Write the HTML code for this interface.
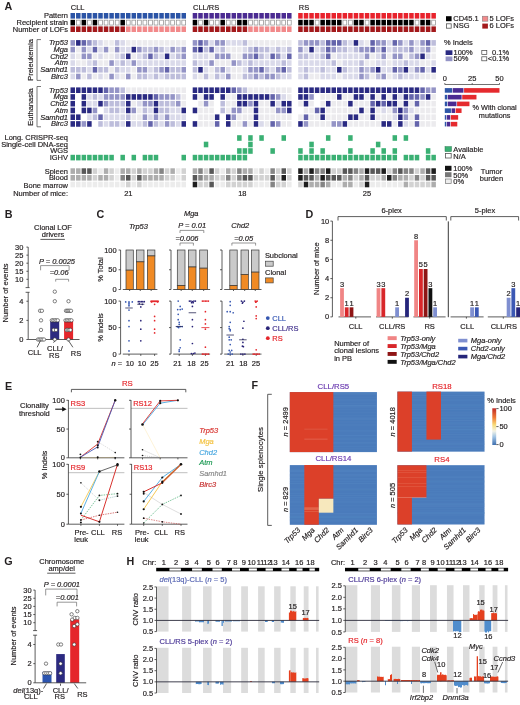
<!DOCTYPE html>
<html><head><meta charset="utf-8"><title>Figure</title>
<style>
html,body{margin:0;padding:0;background:#fff;}
svg{display:block;}
text{font-family:"Liberation Sans",Arial,Helvetica,sans-serif;}
</style></head>
<body>
<svg width="520" height="705" viewBox="0 0 520 705">
<rect x="0" y="0" width="520" height="705" fill="#fff"/>
<rect x="70.5" y="13" width="4.5" height="5.6" fill="#2b54a6"/>
<rect x="70.5" y="19.8" width="4.5" height="5.6" fill="#000"/>
<rect x="70.5" y="26.4" width="4.5" height="5.6" fill="#a3191b"/>
<rect x="70.5" y="40.1" width="4.5" height="5.6" fill="#9494c6"/>
<rect x="70.5" y="87.4" width="4.5" height="5.6" fill="#2a2a82"/>
<rect x="70.5" y="46.82" width="4.5" height="5.6" fill="#9494c6"/>
<rect x="70.5" y="94.15" width="4.5" height="5.6" fill="#2a2a82"/>
<rect x="70.5" y="53.54" width="4.5" height="5.6" fill="#dadaea"/>
<rect x="70.5" y="100.9" width="4.5" height="5.6" fill="#2a2a82"/>
<rect x="70.5" y="60.26" width="4.5" height="5.6" fill="#dadaea"/>
<rect x="70.5" y="107.65" width="4.5" height="5.6" fill="#2a2a82"/>
<rect x="70.5" y="66.98" width="4.5" height="5.6" fill="#bdbddb"/>
<rect x="70.5" y="114.4" width="4.5" height="5.6" fill="#2a2a82"/>
<rect x="70.5" y="73.7" width="4.5" height="5.6" fill="#dadaea"/>
<rect x="70.5" y="121.15" width="4.5" height="5.6" fill="#2a2a82"/>
<rect x="70.5" y="154.8" width="4.5" height="5.6" fill="#3ab073"/>
<rect x="70.5" y="168.3" width="4.5" height="5.6" fill="#adadad"/>
<rect x="70.5" y="175" width="4.5" height="5.6" fill="#adadad"/>
<rect x="70.5" y="181.7" width="4.5" height="5.6" fill="#ececec"/>
<rect x="76.05" y="13" width="4.5" height="5.6" fill="#2b54a6"/>
<rect x="76.4" y="20.15" width="3.8" height="4.8999999999999995" fill="#fff" stroke="#8a8a8a" stroke-width="0.7"/>
<rect x="76.05" y="26.4" width="4.5" height="5.6" fill="#a3191b"/>
<rect x="76.05" y="40.1" width="4.5" height="5.6" fill="#2a2a82"/>
<rect x="76.05" y="87.4" width="4.5" height="5.6" fill="#2a2a82"/>
<rect x="76.05" y="46.82" width="4.5" height="5.6" fill="#ecebee"/>
<rect x="76.05" y="94.15" width="4.5" height="5.6" fill="#ffffff"/>
<rect x="76.05" y="53.54" width="4.5" height="5.6" fill="#ecebee"/>
<rect x="76.05" y="100.9" width="4.5" height="5.6" fill="#ffffff"/>
<rect x="76.05" y="60.26" width="4.5" height="5.6" fill="#ecebee"/>
<rect x="76.05" y="107.65" width="4.5" height="5.6" fill="#ffffff"/>
<rect x="76.05" y="66.98" width="4.5" height="5.6" fill="#bdbddb"/>
<rect x="76.05" y="114.4" width="4.5" height="5.6" fill="#2a2a82"/>
<rect x="76.05" y="73.7" width="4.5" height="5.6" fill="#9494c6"/>
<rect x="76.05" y="121.15" width="4.5" height="5.6" fill="#2a2a82"/>
<rect x="76.05" y="154.8" width="4.5" height="5.6" fill="#3ab073"/>
<rect x="76.05" y="168.3" width="4.5" height="5.6" fill="#adadad"/>
<rect x="76.05" y="175" width="4.5" height="5.6" fill="#adadad"/>
<rect x="76.05" y="181.7" width="4.5" height="5.6" fill="#ececec"/>
<rect x="81.6" y="13" width="4.5" height="5.6" fill="#2b54a6"/>
<rect x="81.6" y="19.8" width="4.5" height="5.6" fill="#000"/>
<rect x="81.6" y="26.4" width="4.5" height="5.6" fill="#a3191b"/>
<rect x="81.6" y="40.1" width="4.5" height="5.6" fill="#6464ab"/>
<rect x="81.6" y="87.4" width="4.5" height="5.6" fill="#2a2a82"/>
<rect x="81.6" y="46.82" width="4.5" height="5.6" fill="#9494c6"/>
<rect x="81.6" y="94.15" width="4.5" height="5.6" fill="#2a2a82"/>
<rect x="81.6" y="53.54" width="4.5" height="5.6" fill="#9494c6"/>
<rect x="81.6" y="100.9" width="4.5" height="5.6" fill="#2a2a82"/>
<rect x="81.6" y="60.26" width="4.5" height="5.6" fill="#ecebee"/>
<rect x="81.6" y="107.65" width="4.5" height="5.6" fill="#2a2a82"/>
<rect x="81.6" y="66.98" width="4.5" height="5.6" fill="#bdbddb"/>
<rect x="81.6" y="114.4" width="4.5" height="5.6" fill="#ffffff"/>
<rect x="81.6" y="73.7" width="4.5" height="5.6" fill="#ecebee"/>
<rect x="81.6" y="121.15" width="4.5" height="5.6" fill="#9494c6"/>
<rect x="81.6" y="154.8" width="4.5" height="5.6" fill="#3ab073"/>
<rect x="81.6" y="168.3" width="4.5" height="5.6" fill="#585858"/>
<rect x="81.6" y="175" width="4.5" height="5.6" fill="#adadad"/>
<rect x="81.6" y="181.7" width="4.5" height="5.6" fill="#ececec"/>
<rect x="87.15" y="13" width="4.5" height="5.6" fill="#2b54a6"/>
<rect x="87.5" y="20.15" width="3.8" height="4.8999999999999995" fill="#fff" stroke="#8a8a8a" stroke-width="0.7"/>
<rect x="87.15" y="26.4" width="4.5" height="5.6" fill="#a3191b"/>
<rect x="87.15" y="40.1" width="4.5" height="5.6" fill="#9494c6"/>
<rect x="87.15" y="87.4" width="4.5" height="5.6" fill="#2a2a82"/>
<rect x="87.15" y="46.82" width="4.5" height="5.6" fill="#dadaea"/>
<rect x="87.15" y="94.15" width="4.5" height="5.6" fill="#dadaea"/>
<rect x="87.15" y="53.54" width="4.5" height="5.6" fill="#9494c6"/>
<rect x="87.15" y="100.9" width="4.5" height="5.6" fill="#dadaea"/>
<rect x="87.15" y="60.26" width="4.5" height="5.6" fill="#dadaea"/>
<rect x="87.15" y="107.65" width="4.5" height="5.6" fill="#2a2a82"/>
<rect x="87.15" y="66.98" width="4.5" height="5.6" fill="#dadaea"/>
<rect x="87.15" y="114.4" width="4.5" height="5.6" fill="#dadaea"/>
<rect x="87.15" y="73.7" width="4.5" height="5.6" fill="#bdbddb"/>
<rect x="87.15" y="121.15" width="4.5" height="5.6" fill="#2a2a82"/>
<rect x="87.15" y="154.8" width="4.5" height="5.6" fill="#3ab073"/>
<rect x="87.15" y="168.3" width="4.5" height="5.6" fill="#585858"/>
<rect x="87.15" y="175" width="4.5" height="5.6" fill="#adadad"/>
<rect x="87.15" y="181.7" width="4.5" height="5.6" fill="#ececec"/>
<rect x="92.7" y="13" width="4.5" height="5.6" fill="#2b54a6"/>
<rect x="92.7" y="19.8" width="4.5" height="5.6" fill="#000"/>
<rect x="92.7" y="26.4" width="4.5" height="5.6" fill="#a3191b"/>
<rect x="92.7" y="40.1" width="4.5" height="5.6" fill="#bdbddb"/>
<rect x="92.7" y="87.4" width="4.5" height="5.6" fill="#2a2a82"/>
<rect x="92.7" y="46.82" width="4.5" height="5.6" fill="#6464ab"/>
<rect x="92.7" y="94.15" width="4.5" height="5.6" fill="#bdbddb"/>
<rect x="92.7" y="53.54" width="4.5" height="5.6" fill="#ecebee"/>
<rect x="92.7" y="100.9" width="4.5" height="5.6" fill="#dadaea"/>
<rect x="92.7" y="60.26" width="4.5" height="5.6" fill="#bdbddb"/>
<rect x="92.7" y="107.65" width="4.5" height="5.6" fill="#9494c6"/>
<rect x="92.7" y="66.98" width="4.5" height="5.6" fill="#6464ab"/>
<rect x="92.7" y="114.4" width="4.5" height="5.6" fill="#bdbddb"/>
<rect x="92.7" y="73.7" width="4.5" height="5.6" fill="#ecebee"/>
<rect x="92.7" y="121.15" width="4.5" height="5.6" fill="#ffffff"/>
<rect x="92.7" y="154.8" width="4.5" height="5.6" fill="#3ab073"/>
<rect x="92.7" y="168.3" width="4.5" height="5.6" fill="#d2d2d2"/>
<rect x="92.7" y="175" width="4.5" height="5.6" fill="#d2d2d2"/>
<rect x="92.7" y="181.7" width="4.5" height="5.6" fill="#ececec"/>
<rect x="98.25" y="13" width="4.5" height="5.6" fill="#2b54a6"/>
<rect x="98.6" y="20.15" width="3.8" height="4.8999999999999995" fill="#fff" stroke="#8a8a8a" stroke-width="0.7"/>
<rect x="98.25" y="26.4" width="4.5" height="5.6" fill="#a3191b"/>
<rect x="98.25" y="40.1" width="4.5" height="5.6" fill="#dadaea"/>
<rect x="98.25" y="87.4" width="4.5" height="5.6" fill="#2a2a82"/>
<rect x="98.25" y="46.82" width="4.5" height="5.6" fill="#dadaea"/>
<rect x="98.25" y="94.15" width="4.5" height="5.6" fill="#dadaea"/>
<rect x="98.25" y="53.54" width="4.5" height="5.6" fill="#dadaea"/>
<rect x="98.25" y="100.9" width="4.5" height="5.6" fill="#2a2a82"/>
<rect x="98.25" y="60.26" width="4.5" height="5.6" fill="#ecebee"/>
<rect x="98.25" y="107.65" width="4.5" height="5.6" fill="#ffffff"/>
<rect x="98.25" y="66.98" width="4.5" height="5.6" fill="#bdbddb"/>
<rect x="98.25" y="114.4" width="4.5" height="5.6" fill="#6464ab"/>
<rect x="98.25" y="73.7" width="4.5" height="5.6" fill="#dadaea"/>
<rect x="98.25" y="121.15" width="4.5" height="5.6" fill="#bdbddb"/>
<rect x="98.25" y="154.8" width="4.5" height="5.6" fill="#3ab073"/>
<rect x="98.25" y="168.3" width="4.5" height="5.6" fill="#ececec"/>
<rect x="98.25" y="175" width="4.5" height="5.6" fill="#adadad"/>
<rect x="98.25" y="181.7" width="4.5" height="5.6" fill="#ececec"/>
<rect x="103.8" y="13" width="4.5" height="5.6" fill="#2b54a6"/>
<rect x="104.15" y="20.15" width="3.8" height="4.8999999999999995" fill="#fff" stroke="#8a8a8a" stroke-width="0.7"/>
<rect x="103.8" y="26.4" width="4.5" height="5.6" fill="#a3191b"/>
<rect x="103.8" y="40.1" width="4.5" height="5.6" fill="#ecebee"/>
<rect x="103.8" y="87.4" width="4.5" height="5.6" fill="#6464ab"/>
<rect x="103.8" y="46.82" width="4.5" height="5.6" fill="#9494c6"/>
<rect x="103.8" y="94.15" width="4.5" height="5.6" fill="#9494c6"/>
<rect x="103.8" y="53.54" width="4.5" height="5.6" fill="#ecebee"/>
<rect x="103.8" y="100.9" width="4.5" height="5.6" fill="#9494c6"/>
<rect x="103.8" y="60.26" width="4.5" height="5.6" fill="#ecebee"/>
<rect x="103.8" y="107.65" width="4.5" height="5.6" fill="#dadaea"/>
<rect x="103.8" y="66.98" width="4.5" height="5.6" fill="#bdbddb"/>
<rect x="103.8" y="114.4" width="4.5" height="5.6" fill="#dadaea"/>
<rect x="103.8" y="73.7" width="4.5" height="5.6" fill="#ecebee"/>
<rect x="103.8" y="121.15" width="4.5" height="5.6" fill="#dadaea"/>
<rect x="103.8" y="154.8" width="4.5" height="5.6" fill="#3ab073"/>
<rect x="103.8" y="168.3" width="4.5" height="5.6" fill="#adadad"/>
<rect x="103.8" y="175" width="4.5" height="5.6" fill="#adadad"/>
<rect x="103.8" y="181.7" width="4.5" height="5.6" fill="#ececec"/>
<rect x="109.35" y="13" width="4.5" height="5.6" fill="#2b54a6"/>
<rect x="109.7" y="20.15" width="3.8" height="4.8999999999999995" fill="#fff" stroke="#8a8a8a" stroke-width="0.7"/>
<rect x="109.35" y="26.4" width="4.5" height="5.6" fill="#a3191b"/>
<rect x="109.35" y="40.1" width="4.5" height="5.6" fill="#ecebee"/>
<rect x="109.35" y="87.4" width="4.5" height="5.6" fill="#9494c6"/>
<rect x="109.35" y="46.82" width="4.5" height="5.6" fill="#ecebee"/>
<rect x="109.35" y="94.15" width="4.5" height="5.6" fill="#9494c6"/>
<rect x="109.35" y="53.54" width="4.5" height="5.6" fill="#ecebee"/>
<rect x="109.35" y="100.9" width="4.5" height="5.6" fill="#bdbddb"/>
<rect x="109.35" y="60.26" width="4.5" height="5.6" fill="#9494c6"/>
<rect x="109.35" y="107.65" width="4.5" height="5.6" fill="#bdbddb"/>
<rect x="109.35" y="66.98" width="4.5" height="5.6" fill="#ecebee"/>
<rect x="109.35" y="114.4" width="4.5" height="5.6" fill="#dadaea"/>
<rect x="109.35" y="73.7" width="4.5" height="5.6" fill="#9494c6"/>
<rect x="109.35" y="121.15" width="4.5" height="5.6" fill="#bdbddb"/>
<rect x="109.35" y="154.8" width="4.5" height="5.6" fill="#3ab073"/>
<rect x="109.35" y="168.3" width="4.5" height="5.6" fill="#d2d2d2"/>
<rect x="109.35" y="175" width="4.5" height="5.6" fill="#d2d2d2"/>
<rect x="109.35" y="181.7" width="4.5" height="5.6" fill="#ececec"/>
<rect x="114.9" y="13" width="4.5" height="5.6" fill="#2b54a6"/>
<rect x="115.25" y="20.15" width="3.8" height="4.8999999999999995" fill="#fff" stroke="#8a8a8a" stroke-width="0.7"/>
<rect x="114.9" y="26.4" width="4.5" height="5.6" fill="#a3191b"/>
<rect x="114.9" y="40.1" width="4.5" height="5.6" fill="#bdbddb"/>
<rect x="114.9" y="87.4" width="4.5" height="5.6" fill="#9494c6"/>
<rect x="114.9" y="46.82" width="4.5" height="5.6" fill="#9494c6"/>
<rect x="114.9" y="94.15" width="4.5" height="5.6" fill="#9494c6"/>
<rect x="114.9" y="53.54" width="4.5" height="5.6" fill="#dadaea"/>
<rect x="114.9" y="100.9" width="4.5" height="5.6" fill="#bdbddb"/>
<rect x="114.9" y="60.26" width="4.5" height="5.6" fill="#dadaea"/>
<rect x="114.9" y="107.65" width="4.5" height="5.6" fill="#bdbddb"/>
<rect x="114.9" y="66.98" width="4.5" height="5.6" fill="#bdbddb"/>
<rect x="114.9" y="114.4" width="4.5" height="5.6" fill="#dadaea"/>
<rect x="114.9" y="73.7" width="4.5" height="5.6" fill="#dadaea"/>
<rect x="114.9" y="121.15" width="4.5" height="5.6" fill="#bdbddb"/>
<rect x="114.9" y="168.3" width="4.5" height="5.6" fill="#ececec"/>
<rect x="114.9" y="175" width="4.5" height="5.6" fill="#ececec"/>
<rect x="114.9" y="181.7" width="4.5" height="5.6" fill="#ececec"/>
<rect x="120.45" y="13" width="4.5" height="5.6" fill="#2b54a6"/>
<rect x="120.45" y="19.8" width="4.5" height="5.6" fill="#000"/>
<rect x="120.45" y="26.4" width="4.5" height="5.6" fill="#a3191b"/>
<rect x="120.45" y="40.1" width="4.5" height="5.6" fill="#dadaea"/>
<rect x="120.45" y="87.4" width="4.5" height="5.6" fill="#bdbddb"/>
<rect x="120.45" y="46.82" width="4.5" height="5.6" fill="#dadaea"/>
<rect x="120.45" y="94.15" width="4.5" height="5.6" fill="#9494c6"/>
<rect x="120.45" y="53.54" width="4.5" height="5.6" fill="#bdbddb"/>
<rect x="120.45" y="100.9" width="4.5" height="5.6" fill="#bdbddb"/>
<rect x="120.45" y="60.26" width="4.5" height="5.6" fill="#bdbddb"/>
<rect x="120.45" y="107.65" width="4.5" height="5.6" fill="#dadaea"/>
<rect x="120.45" y="66.98" width="4.5" height="5.6" fill="#dadaea"/>
<rect x="120.45" y="114.4" width="4.5" height="5.6" fill="#dadaea"/>
<rect x="120.45" y="73.7" width="4.5" height="5.6" fill="#ecebee"/>
<rect x="120.45" y="121.15" width="4.5" height="5.6" fill="#dadaea"/>
<rect x="120.45" y="154.8" width="4.5" height="5.6" fill="#3ab073"/>
<rect x="120.45" y="168.3" width="4.5" height="5.6" fill="#adadad"/>
<rect x="120.45" y="175" width="4.5" height="5.6" fill="#858585"/>
<rect x="120.45" y="181.7" width="4.5" height="5.6" fill="#ececec"/>
<rect x="126" y="13" width="4.5" height="5.6" fill="#2b54a6"/>
<rect x="126.35" y="20.15" width="3.8" height="4.8999999999999995" fill="#fff" stroke="#8a8a8a" stroke-width="0.7"/>
<rect x="126" y="26.4" width="4.5" height="5.6" fill="#f2898a"/>
<rect x="126" y="40.1" width="4.5" height="5.6" fill="#ecebee"/>
<rect x="126" y="87.4" width="4.5" height="5.6" fill="#ecebee"/>
<rect x="126" y="46.82" width="4.5" height="5.6" fill="#dadaea"/>
<rect x="126" y="94.15" width="4.5" height="5.6" fill="#2a2a82"/>
<rect x="126" y="53.54" width="4.5" height="5.6" fill="#2a2a82"/>
<rect x="126" y="100.9" width="4.5" height="5.6" fill="#2a2a82"/>
<rect x="126" y="60.26" width="4.5" height="5.6" fill="#dadaea"/>
<rect x="126" y="107.65" width="4.5" height="5.6" fill="#2a2a82"/>
<rect x="126" y="66.98" width="4.5" height="5.6" fill="#dadaea"/>
<rect x="126" y="114.4" width="4.5" height="5.6" fill="#bdbddb"/>
<rect x="126" y="73.7" width="4.5" height="5.6" fill="#9494c6"/>
<rect x="126" y="121.15" width="4.5" height="5.6" fill="#2a2a82"/>
<rect x="126" y="168.3" width="4.5" height="5.6" fill="#adadad"/>
<rect x="126" y="175" width="4.5" height="5.6" fill="#585858"/>
<rect x="126" y="181.7" width="4.5" height="5.6" fill="#d2d2d2"/>
<rect x="131.55" y="13" width="4.5" height="5.6" fill="#2b54a6"/>
<rect x="131.9" y="20.15" width="3.8" height="4.8999999999999995" fill="#fff" stroke="#8a8a8a" stroke-width="0.7"/>
<rect x="131.55" y="26.4" width="4.5" height="5.6" fill="#f2898a"/>
<rect x="131.55" y="40.1" width="4.5" height="5.6" fill="#ecebee"/>
<rect x="131.55" y="87.4" width="4.5" height="5.6" fill="#ecebee"/>
<rect x="131.55" y="46.82" width="4.5" height="5.6" fill="#2a2a82"/>
<rect x="131.55" y="94.15" width="4.5" height="5.6" fill="#2a2a82"/>
<rect x="131.55" y="53.54" width="4.5" height="5.6" fill="#ecebee"/>
<rect x="131.55" y="100.9" width="4.5" height="5.6" fill="#ecebee"/>
<rect x="131.55" y="60.26" width="4.5" height="5.6" fill="#9494c6"/>
<rect x="131.55" y="107.65" width="4.5" height="5.6" fill="#9494c6"/>
<rect x="131.55" y="66.98" width="4.5" height="5.6" fill="#ecebee"/>
<rect x="131.55" y="114.4" width="4.5" height="5.6" fill="#ecebee"/>
<rect x="131.55" y="73.7" width="4.5" height="5.6" fill="#ecebee"/>
<rect x="131.55" y="121.15" width="4.5" height="5.6" fill="#dadaea"/>
<rect x="131.55" y="154.8" width="4.5" height="5.6" fill="#3ab073"/>
<rect x="131.55" y="168.3" width="4.5" height="5.6" fill="#d2d2d2"/>
<rect x="131.55" y="175" width="4.5" height="5.6" fill="#d2d2d2"/>
<rect x="131.55" y="181.7" width="4.5" height="5.6" fill="#ececec"/>
<rect x="137.1" y="13" width="4.5" height="5.6" fill="#2b54a6"/>
<rect x="137.45" y="20.15" width="3.8" height="4.8999999999999995" fill="#fff" stroke="#8a8a8a" stroke-width="0.7"/>
<rect x="137.1" y="26.4" width="4.5" height="5.6" fill="#f2898a"/>
<rect x="137.1" y="40.1" width="4.5" height="5.6" fill="#ecebee"/>
<rect x="137.1" y="87.4" width="4.5" height="5.6" fill="#ecebee"/>
<rect x="137.1" y="46.82" width="4.5" height="5.6" fill="#9494c6"/>
<rect x="137.1" y="94.15" width="4.5" height="5.6" fill="#2a2a82"/>
<rect x="137.1" y="53.54" width="4.5" height="5.6" fill="#dadaea"/>
<rect x="137.1" y="100.9" width="4.5" height="5.6" fill="#dadaea"/>
<rect x="137.1" y="60.26" width="4.5" height="5.6" fill="#dadaea"/>
<rect x="137.1" y="107.65" width="4.5" height="5.6" fill="#ecebee"/>
<rect x="137.1" y="66.98" width="4.5" height="5.6" fill="#9494c6"/>
<rect x="137.1" y="114.4" width="4.5" height="5.6" fill="#ecebee"/>
<rect x="137.1" y="73.7" width="4.5" height="5.6" fill="#bdbddb"/>
<rect x="137.1" y="121.15" width="4.5" height="5.6" fill="#dadaea"/>
<rect x="137.1" y="168.3" width="4.5" height="5.6" fill="#adadad"/>
<rect x="137.1" y="175" width="4.5" height="5.6" fill="#585858"/>
<rect x="137.1" y="181.7" width="4.5" height="5.6" fill="#d2d2d2"/>
<rect x="142.65" y="13" width="4.5" height="5.6" fill="#2b54a6"/>
<rect x="143" y="20.15" width="3.8" height="4.8999999999999995" fill="#fff" stroke="#8a8a8a" stroke-width="0.7"/>
<rect x="142.65" y="26.4" width="4.5" height="5.6" fill="#f2898a"/>
<rect x="142.65" y="40.1" width="4.5" height="5.6" fill="#ecebee"/>
<rect x="142.65" y="87.4" width="4.5" height="5.6" fill="#ecebee"/>
<rect x="142.65" y="46.82" width="4.5" height="5.6" fill="#bdbddb"/>
<rect x="142.65" y="94.15" width="4.5" height="5.6" fill="#2a2a82"/>
<rect x="142.65" y="53.54" width="4.5" height="5.6" fill="#bdbddb"/>
<rect x="142.65" y="100.9" width="4.5" height="5.6" fill="#9494c6"/>
<rect x="142.65" y="60.26" width="4.5" height="5.6" fill="#dadaea"/>
<rect x="142.65" y="107.65" width="4.5" height="5.6" fill="#bdbddb"/>
<rect x="142.65" y="66.98" width="4.5" height="5.6" fill="#9494c6"/>
<rect x="142.65" y="114.4" width="4.5" height="5.6" fill="#9494c6"/>
<rect x="142.65" y="73.7" width="4.5" height="5.6" fill="#bdbddb"/>
<rect x="142.65" y="121.15" width="4.5" height="5.6" fill="#bdbddb"/>
<rect x="142.65" y="154.8" width="4.5" height="5.6" fill="#3ab073"/>
<rect x="142.65" y="168.3" width="4.5" height="5.6" fill="#d2d2d2"/>
<rect x="142.65" y="175" width="4.5" height="5.6" fill="#adadad"/>
<rect x="142.65" y="181.7" width="4.5" height="5.6" fill="#ececec"/>
<rect x="148.2" y="13" width="4.5" height="5.6" fill="#2b54a6"/>
<rect x="148.55" y="20.15" width="3.8" height="4.8999999999999995" fill="#fff" stroke="#8a8a8a" stroke-width="0.7"/>
<rect x="148.2" y="26.4" width="4.5" height="5.6" fill="#f2898a"/>
<rect x="148.2" y="40.1" width="4.5" height="5.6" fill="#ecebee"/>
<rect x="148.2" y="87.4" width="4.5" height="5.6" fill="#ecebee"/>
<rect x="148.2" y="46.82" width="4.5" height="5.6" fill="#bdbddb"/>
<rect x="148.2" y="94.15" width="4.5" height="5.6" fill="#2a2a82"/>
<rect x="148.2" y="53.54" width="4.5" height="5.6" fill="#6464ab"/>
<rect x="148.2" y="100.9" width="4.5" height="5.6" fill="#9494c6"/>
<rect x="148.2" y="60.26" width="4.5" height="5.6" fill="#dadaea"/>
<rect x="148.2" y="107.65" width="4.5" height="5.6" fill="#dadaea"/>
<rect x="148.2" y="66.98" width="4.5" height="5.6" fill="#dadaea"/>
<rect x="148.2" y="114.4" width="4.5" height="5.6" fill="#dadaea"/>
<rect x="148.2" y="73.7" width="4.5" height="5.6" fill="#dadaea"/>
<rect x="148.2" y="121.15" width="4.5" height="5.6" fill="#6464ab"/>
<rect x="148.2" y="154.8" width="4.5" height="5.6" fill="#3ab073"/>
<rect x="148.2" y="168.3" width="4.5" height="5.6" fill="#d2d2d2"/>
<rect x="148.2" y="175" width="4.5" height="5.6" fill="#adadad"/>
<rect x="148.2" y="181.7" width="4.5" height="5.6" fill="#ececec"/>
<rect x="153.75" y="13" width="4.5" height="5.6" fill="#2b54a6"/>
<rect x="154.1" y="20.15" width="3.8" height="4.8999999999999995" fill="#fff" stroke="#8a8a8a" stroke-width="0.7"/>
<rect x="153.75" y="26.4" width="4.5" height="5.6" fill="#f2898a"/>
<rect x="153.75" y="40.1" width="4.5" height="5.6" fill="#ecebee"/>
<rect x="153.75" y="87.4" width="4.5" height="5.6" fill="#ecebee"/>
<rect x="153.75" y="46.82" width="4.5" height="5.6" fill="#9494c6"/>
<rect x="153.75" y="94.15" width="4.5" height="5.6" fill="#6464ab"/>
<rect x="153.75" y="53.54" width="4.5" height="5.6" fill="#bdbddb"/>
<rect x="153.75" y="100.9" width="4.5" height="5.6" fill="#2a2a82"/>
<rect x="153.75" y="60.26" width="4.5" height="5.6" fill="#dadaea"/>
<rect x="153.75" y="107.65" width="4.5" height="5.6" fill="#2a2a82"/>
<rect x="153.75" y="66.98" width="4.5" height="5.6" fill="#bdbddb"/>
<rect x="153.75" y="114.4" width="4.5" height="5.6" fill="#9494c6"/>
<rect x="153.75" y="73.7" width="4.5" height="5.6" fill="#bdbddb"/>
<rect x="153.75" y="121.15" width="4.5" height="5.6" fill="#bdbddb"/>
<rect x="153.75" y="154.8" width="4.5" height="5.6" fill="#3ab073"/>
<rect x="153.75" y="168.3" width="4.5" height="5.6" fill="#adadad"/>
<rect x="153.75" y="175" width="4.5" height="5.6" fill="#adadad"/>
<rect x="153.75" y="181.7" width="4.5" height="5.6" fill="#ececec"/>
<rect x="159.3" y="13" width="4.5" height="5.6" fill="#2b54a6"/>
<rect x="159.65" y="20.15" width="3.8" height="4.8999999999999995" fill="#fff" stroke="#8a8a8a" stroke-width="0.7"/>
<rect x="159.3" y="26.4" width="4.5" height="5.6" fill="#f2898a"/>
<rect x="159.3" y="40.1" width="4.5" height="5.6" fill="#ecebee"/>
<rect x="159.3" y="87.4" width="4.5" height="5.6" fill="#ecebee"/>
<rect x="159.3" y="46.82" width="4.5" height="5.6" fill="#bdbddb"/>
<rect x="159.3" y="94.15" width="4.5" height="5.6" fill="#9494c6"/>
<rect x="159.3" y="53.54" width="4.5" height="5.6" fill="#dadaea"/>
<rect x="159.3" y="100.9" width="4.5" height="5.6" fill="#bdbddb"/>
<rect x="159.3" y="60.26" width="4.5" height="5.6" fill="#dadaea"/>
<rect x="159.3" y="107.65" width="4.5" height="5.6" fill="#bdbddb"/>
<rect x="159.3" y="66.98" width="4.5" height="5.6" fill="#9494c6"/>
<rect x="159.3" y="114.4" width="4.5" height="5.6" fill="#dadaea"/>
<rect x="159.3" y="73.7" width="4.5" height="5.6" fill="#dadaea"/>
<rect x="159.3" y="121.15" width="4.5" height="5.6" fill="#dadaea"/>
<rect x="159.3" y="168.3" width="4.5" height="5.6" fill="#858585"/>
<rect x="159.3" y="175" width="4.5" height="5.6" fill="#adadad"/>
<rect x="159.3" y="181.7" width="4.5" height="5.6" fill="#ececec"/>
<rect x="164.85" y="13" width="4.5" height="5.6" fill="#2b54a6"/>
<rect x="165.2" y="20.15" width="3.8" height="4.8999999999999995" fill="#fff" stroke="#8a8a8a" stroke-width="0.7"/>
<rect x="164.85" y="26.4" width="4.5" height="5.6" fill="#f2898a"/>
<rect x="164.85" y="40.1" width="4.5" height="5.6" fill="#ecebee"/>
<rect x="164.85" y="87.4" width="4.5" height="5.6" fill="#ecebee"/>
<rect x="164.85" y="46.82" width="4.5" height="5.6" fill="#dadaea"/>
<rect x="164.85" y="94.15" width="4.5" height="5.6" fill="#9494c6"/>
<rect x="164.85" y="53.54" width="4.5" height="5.6" fill="#2a2a82"/>
<rect x="164.85" y="100.9" width="4.5" height="5.6" fill="#bdbddb"/>
<rect x="164.85" y="60.26" width="4.5" height="5.6" fill="#dadaea"/>
<rect x="164.85" y="107.65" width="4.5" height="5.6" fill="#bdbddb"/>
<rect x="164.85" y="66.98" width="4.5" height="5.6" fill="#6464ab"/>
<rect x="164.85" y="114.4" width="4.5" height="5.6" fill="#9494c6"/>
<rect x="164.85" y="73.7" width="4.5" height="5.6" fill="#bdbddb"/>
<rect x="164.85" y="121.15" width="4.5" height="5.6" fill="#9494c6"/>
<rect x="164.85" y="168.3" width="4.5" height="5.6" fill="#d2d2d2"/>
<rect x="164.85" y="175" width="4.5" height="5.6" fill="#d2d2d2"/>
<rect x="164.85" y="181.7" width="4.5" height="5.6" fill="#ececec"/>
<rect x="170.4" y="13" width="4.5" height="5.6" fill="#2b54a6"/>
<rect x="170.75" y="20.15" width="3.8" height="4.8999999999999995" fill="#fff" stroke="#8a8a8a" stroke-width="0.7"/>
<rect x="170.4" y="26.4" width="4.5" height="5.6" fill="#f2898a"/>
<rect x="170.4" y="40.1" width="4.5" height="5.6" fill="#ecebee"/>
<rect x="170.4" y="87.4" width="4.5" height="5.6" fill="#ecebee"/>
<rect x="170.4" y="46.82" width="4.5" height="5.6" fill="#9494c6"/>
<rect x="170.4" y="94.15" width="4.5" height="5.6" fill="#9494c6"/>
<rect x="170.4" y="53.54" width="4.5" height="5.6" fill="#dadaea"/>
<rect x="170.4" y="100.9" width="4.5" height="5.6" fill="#bdbddb"/>
<rect x="170.4" y="60.26" width="4.5" height="5.6" fill="#dadaea"/>
<rect x="170.4" y="107.65" width="4.5" height="5.6" fill="#dadaea"/>
<rect x="170.4" y="66.98" width="4.5" height="5.6" fill="#bdbddb"/>
<rect x="170.4" y="114.4" width="4.5" height="5.6" fill="#dadaea"/>
<rect x="170.4" y="73.7" width="4.5" height="5.6" fill="#bdbddb"/>
<rect x="170.4" y="121.15" width="4.5" height="5.6" fill="#bdbddb"/>
<rect x="170.4" y="168.3" width="4.5" height="5.6" fill="#adadad"/>
<rect x="170.4" y="175" width="4.5" height="5.6" fill="#d2d2d2"/>
<rect x="170.4" y="181.7" width="4.5" height="5.6" fill="#ececec"/>
<rect x="175.95" y="13" width="4.5" height="5.6" fill="#2b54a6"/>
<rect x="176.3" y="20.15" width="3.8" height="4.8999999999999995" fill="#fff" stroke="#8a8a8a" stroke-width="0.7"/>
<rect x="175.95" y="26.4" width="4.5" height="5.6" fill="#f2898a"/>
<rect x="175.95" y="40.1" width="4.5" height="5.6" fill="#ecebee"/>
<rect x="175.95" y="87.4" width="4.5" height="5.6" fill="#ecebee"/>
<rect x="175.95" y="46.82" width="4.5" height="5.6" fill="#bdbddb"/>
<rect x="175.95" y="94.15" width="4.5" height="5.6" fill="#bdbddb"/>
<rect x="175.95" y="53.54" width="4.5" height="5.6" fill="#bdbddb"/>
<rect x="175.95" y="100.9" width="4.5" height="5.6" fill="#9494c6"/>
<rect x="175.95" y="60.26" width="4.5" height="5.6" fill="#dadaea"/>
<rect x="175.95" y="107.65" width="4.5" height="5.6" fill="#dadaea"/>
<rect x="175.95" y="66.98" width="4.5" height="5.6" fill="#bdbddb"/>
<rect x="175.95" y="114.4" width="4.5" height="5.6" fill="#dadaea"/>
<rect x="175.95" y="73.7" width="4.5" height="5.6" fill="#bdbddb"/>
<rect x="175.95" y="121.15" width="4.5" height="5.6" fill="#dadaea"/>
<rect x="175.95" y="168.3" width="4.5" height="5.6" fill="#ececec"/>
<rect x="175.95" y="175" width="4.5" height="5.6" fill="#ececec"/>
<rect x="175.95" y="181.7" width="4.5" height="5.6" fill="#ececec"/>
<rect x="181.5" y="13" width="4.5" height="5.6" fill="#2b54a6"/>
<rect x="181.85" y="20.15" width="3.8" height="4.8999999999999995" fill="#fff" stroke="#8a8a8a" stroke-width="0.7"/>
<rect x="181.5" y="26.4" width="4.5" height="5.6" fill="#f2898a"/>
<rect x="181.5" y="40.1" width="4.5" height="5.6" fill="#ecebee"/>
<rect x="181.5" y="87.4" width="4.5" height="5.6" fill="#ecebee"/>
<rect x="181.5" y="46.82" width="4.5" height="5.6" fill="#9494c6"/>
<rect x="181.5" y="94.15" width="4.5" height="5.6" fill="#ecebee"/>
<rect x="181.5" y="53.54" width="4.5" height="5.6" fill="#9494c6"/>
<rect x="181.5" y="100.9" width="4.5" height="5.6" fill="#ecebee"/>
<rect x="181.5" y="60.26" width="4.5" height="5.6" fill="#dadaea"/>
<rect x="181.5" y="107.65" width="4.5" height="5.6" fill="#2a2a82"/>
<rect x="181.5" y="66.98" width="4.5" height="5.6" fill="#9494c6"/>
<rect x="181.5" y="114.4" width="4.5" height="5.6" fill="#dadaea"/>
<rect x="181.5" y="73.7" width="4.5" height="5.6" fill="#bdbddb"/>
<rect x="181.5" y="121.15" width="4.5" height="5.6" fill="#2a2a82"/>
<rect x="181.5" y="154.8" width="4.5" height="5.6" fill="#3ab073"/>
<rect x="181.5" y="168.3" width="4.5" height="5.6" fill="#d2d2d2"/>
<rect x="181.5" y="175" width="4.5" height="5.6" fill="#d2d2d2"/>
<rect x="181.5" y="181.7" width="4.5" height="5.6" fill="#ececec"/>
<rect x="192.7" y="13" width="4.5" height="5.6" fill="#4b2b92"/>
<rect x="192.7" y="19.8" width="4.5" height="5.6" fill="#000"/>
<rect x="192.7" y="26.4" width="4.5" height="5.6" fill="#a3191b"/>
<rect x="192.7" y="40.1" width="4.5" height="5.6" fill="#9494c6"/>
<rect x="192.7" y="87.4" width="4.5" height="5.6" fill="#2a2a82"/>
<rect x="192.7" y="46.82" width="4.5" height="5.6" fill="#6464ab"/>
<rect x="192.7" y="94.15" width="4.5" height="5.6" fill="#2a2a82"/>
<rect x="192.7" y="53.54" width="4.5" height="5.6" fill="#dadaea"/>
<rect x="192.7" y="100.9" width="4.5" height="5.6" fill="#ffffff"/>
<rect x="192.7" y="60.26" width="4.5" height="5.6" fill="#bdbddb"/>
<rect x="192.7" y="107.65" width="4.5" height="5.6" fill="#2a2a82"/>
<rect x="192.7" y="66.98" width="4.5" height="5.6" fill="#bdbddb"/>
<rect x="192.7" y="114.4" width="4.5" height="5.6" fill="#ffffff"/>
<rect x="192.7" y="73.7" width="4.5" height="5.6" fill="#dadaea"/>
<rect x="192.7" y="121.15" width="4.5" height="5.6" fill="#2a2a82"/>
<rect x="192.7" y="154.8" width="4.5" height="5.6" fill="#3ab073"/>
<rect x="192.7" y="168.3" width="4.5" height="5.6" fill="#adadad"/>
<rect x="192.7" y="175" width="4.5" height="5.6" fill="#585858"/>
<rect x="192.7" y="181.7" width="4.5" height="5.6" fill="#1e1e1e"/>
<rect x="198.25" y="13" width="4.5" height="5.6" fill="#4b2b92"/>
<rect x="198.6" y="20.15" width="3.8" height="4.8999999999999995" fill="#fff" stroke="#8a8a8a" stroke-width="0.7"/>
<rect x="198.25" y="26.4" width="4.5" height="5.6" fill="#a3191b"/>
<rect x="198.25" y="40.1" width="4.5" height="5.6" fill="#6464ab"/>
<rect x="198.25" y="87.4" width="4.5" height="5.6" fill="#2a2a82"/>
<rect x="198.25" y="46.82" width="4.5" height="5.6" fill="#2a2a82"/>
<rect x="198.25" y="94.15" width="4.5" height="5.6" fill="#ecebee"/>
<rect x="198.25" y="53.54" width="4.5" height="5.6" fill="#dadaea"/>
<rect x="198.25" y="100.9" width="4.5" height="5.6" fill="#ecebee"/>
<rect x="198.25" y="60.26" width="4.5" height="5.6" fill="#dadaea"/>
<rect x="198.25" y="107.65" width="4.5" height="5.6" fill="#ecebee"/>
<rect x="198.25" y="66.98" width="4.5" height="5.6" fill="#2a2a82"/>
<rect x="198.25" y="114.4" width="4.5" height="5.6" fill="#ecebee"/>
<rect x="198.25" y="73.7" width="4.5" height="5.6" fill="#ecebee"/>
<rect x="198.25" y="121.15" width="4.5" height="5.6" fill="#ecebee"/>
<rect x="198.25" y="154.8" width="4.5" height="5.6" fill="#3ab073"/>
<rect x="198.25" y="168.3" width="4.5" height="5.6" fill="#858585"/>
<rect x="198.25" y="175" width="4.5" height="5.6" fill="#858585"/>
<rect x="198.25" y="181.7" width="4.5" height="5.6" fill="#d2d2d2"/>
<rect x="203.8" y="13" width="4.5" height="5.6" fill="#4b2b92"/>
<rect x="203.8" y="19.8" width="4.5" height="5.6" fill="#000"/>
<rect x="203.8" y="26.4" width="4.5" height="5.6" fill="#a3191b"/>
<rect x="203.8" y="40.1" width="4.5" height="5.6" fill="#9494c6"/>
<rect x="203.8" y="87.4" width="4.5" height="5.6" fill="#2a2a82"/>
<rect x="203.8" y="46.82" width="4.5" height="5.6" fill="#bdbddb"/>
<rect x="203.8" y="94.15" width="4.5" height="5.6" fill="#2a2a82"/>
<rect x="203.8" y="53.54" width="4.5" height="5.6" fill="#dadaea"/>
<rect x="203.8" y="100.9" width="4.5" height="5.6" fill="#9494c6"/>
<rect x="203.8" y="60.26" width="4.5" height="5.6" fill="#dadaea"/>
<rect x="203.8" y="107.65" width="4.5" height="5.6" fill="#ecebee"/>
<rect x="203.8" y="66.98" width="4.5" height="5.6" fill="#dadaea"/>
<rect x="203.8" y="114.4" width="4.5" height="5.6" fill="#ecebee"/>
<rect x="203.8" y="73.7" width="4.5" height="5.6" fill="#bdbddb"/>
<rect x="203.8" y="121.15" width="4.5" height="5.6" fill="#ecebee"/>
<rect x="203.8" y="141.7" width="4.5" height="5.6" fill="#3ab073"/>
<rect x="203.8" y="154.8" width="4.5" height="5.6" fill="#3ab073"/>
<rect x="203.8" y="168.3" width="4.5" height="5.6" fill="#d2d2d2"/>
<rect x="203.8" y="175" width="4.5" height="5.6" fill="#adadad"/>
<rect x="203.8" y="181.7" width="4.5" height="5.6" fill="#d2d2d2"/>
<rect x="209.35" y="13" width="4.5" height="5.6" fill="#4b2b92"/>
<rect x="209.7" y="20.15" width="3.8" height="4.8999999999999995" fill="#fff" stroke="#8a8a8a" stroke-width="0.7"/>
<rect x="209.35" y="26.4" width="4.5" height="5.6" fill="#a3191b"/>
<rect x="209.35" y="40.1" width="4.5" height="5.6" fill="#dadaea"/>
<rect x="209.35" y="87.4" width="4.5" height="5.6" fill="#2a2a82"/>
<rect x="209.35" y="46.82" width="4.5" height="5.6" fill="#6464ab"/>
<rect x="209.35" y="94.15" width="4.5" height="5.6" fill="#2a2a82"/>
<rect x="209.35" y="53.54" width="4.5" height="5.6" fill="#ecebee"/>
<rect x="209.35" y="100.9" width="4.5" height="5.6" fill="#ecebee"/>
<rect x="209.35" y="60.26" width="4.5" height="5.6" fill="#9494c6"/>
<rect x="209.35" y="107.65" width="4.5" height="5.6" fill="#ecebee"/>
<rect x="209.35" y="66.98" width="4.5" height="5.6" fill="#ecebee"/>
<rect x="209.35" y="114.4" width="4.5" height="5.6" fill="#ecebee"/>
<rect x="209.35" y="73.7" width="4.5" height="5.6" fill="#ecebee"/>
<rect x="209.35" y="121.15" width="4.5" height="5.6" fill="#ecebee"/>
<rect x="209.35" y="154.8" width="4.5" height="5.6" fill="#3ab073"/>
<rect x="209.35" y="168.3" width="4.5" height="5.6" fill="#585858"/>
<rect x="209.35" y="175" width="4.5" height="5.6" fill="#adadad"/>
<rect x="209.35" y="181.7" width="4.5" height="5.6" fill="#585858"/>
<rect x="214.9" y="13" width="4.5" height="5.6" fill="#4b2b92"/>
<rect x="215.25" y="20.15" width="3.8" height="4.8999999999999995" fill="#fff" stroke="#8a8a8a" stroke-width="0.7"/>
<rect x="214.9" y="26.4" width="4.5" height="5.6" fill="#a3191b"/>
<rect x="214.9" y="40.1" width="4.5" height="5.6" fill="#9494c6"/>
<rect x="214.9" y="87.4" width="4.5" height="5.6" fill="#2a2a82"/>
<rect x="214.9" y="46.82" width="4.5" height="5.6" fill="#dadaea"/>
<rect x="214.9" y="94.15" width="4.5" height="5.6" fill="#ffffff"/>
<rect x="214.9" y="53.54" width="4.5" height="5.6" fill="#9494c6"/>
<rect x="214.9" y="100.9" width="4.5" height="5.6" fill="#ffffff"/>
<rect x="214.9" y="60.26" width="4.5" height="5.6" fill="#ecebee"/>
<rect x="214.9" y="107.65" width="4.5" height="5.6" fill="#ffffff"/>
<rect x="214.9" y="66.98" width="4.5" height="5.6" fill="#bdbddb"/>
<rect x="214.9" y="114.4" width="4.5" height="5.6" fill="#2a2a82"/>
<rect x="214.9" y="73.7" width="4.5" height="5.6" fill="#bdbddb"/>
<rect x="214.9" y="121.15" width="4.5" height="5.6" fill="#6464ab"/>
<rect x="214.9" y="154.8" width="4.5" height="5.6" fill="#3ab073"/>
<rect x="214.9" y="168.3" width="4.5" height="5.6" fill="#d2d2d2"/>
<rect x="214.9" y="175" width="4.5" height="5.6" fill="#d2d2d2"/>
<rect x="214.9" y="181.7" width="4.5" height="5.6" fill="#ececec"/>
<rect x="220.45" y="13" width="4.5" height="5.6" fill="#4b2b92"/>
<rect x="220.45" y="19.8" width="4.5" height="5.6" fill="#000"/>
<rect x="220.45" y="26.4" width="4.5" height="5.6" fill="#a3191b"/>
<rect x="220.45" y="40.1" width="4.5" height="5.6" fill="#9494c6"/>
<rect x="220.45" y="87.4" width="4.5" height="5.6" fill="#2a2a82"/>
<rect x="220.45" y="46.82" width="4.5" height="5.6" fill="#bdbddb"/>
<rect x="220.45" y="94.15" width="4.5" height="5.6" fill="#2a2a82"/>
<rect x="220.45" y="53.54" width="4.5" height="5.6" fill="#9494c6"/>
<rect x="220.45" y="100.9" width="4.5" height="5.6" fill="#bdbddb"/>
<rect x="220.45" y="60.26" width="4.5" height="5.6" fill="#ecebee"/>
<rect x="220.45" y="107.65" width="4.5" height="5.6" fill="#bdbddb"/>
<rect x="220.45" y="66.98" width="4.5" height="5.6" fill="#9494c6"/>
<rect x="220.45" y="114.4" width="4.5" height="5.6" fill="#ffffff"/>
<rect x="220.45" y="73.7" width="4.5" height="5.6" fill="#dadaea"/>
<rect x="220.45" y="121.15" width="4.5" height="5.6" fill="#ffffff"/>
<rect x="220.45" y="154.8" width="4.5" height="5.6" fill="#3ab073"/>
<rect x="220.45" y="168.3" width="4.5" height="5.6" fill="#ececec"/>
<rect x="220.45" y="175" width="4.5" height="5.6" fill="#d2d2d2"/>
<rect x="220.45" y="181.7" width="4.5" height="5.6" fill="#ececec"/>
<rect x="226" y="13" width="4.5" height="5.6" fill="#4b2b92"/>
<rect x="226.35" y="20.15" width="3.8" height="4.8999999999999995" fill="#fff" stroke="#8a8a8a" stroke-width="0.7"/>
<rect x="226" y="26.4" width="4.5" height="5.6" fill="#a3191b"/>
<rect x="226" y="40.1" width="4.5" height="5.6" fill="#dadaea"/>
<rect x="226" y="87.4" width="4.5" height="5.6" fill="#2a2a82"/>
<rect x="226" y="46.82" width="4.5" height="5.6" fill="#ecebee"/>
<rect x="226" y="94.15" width="4.5" height="5.6" fill="#ecebee"/>
<rect x="226" y="53.54" width="4.5" height="5.6" fill="#9494c6"/>
<rect x="226" y="100.9" width="4.5" height="5.6" fill="#ecebee"/>
<rect x="226" y="60.26" width="4.5" height="5.6" fill="#ecebee"/>
<rect x="226" y="107.65" width="4.5" height="5.6" fill="#ecebee"/>
<rect x="226" y="66.98" width="4.5" height="5.6" fill="#dadaea"/>
<rect x="226" y="114.4" width="4.5" height="5.6" fill="#2a2a82"/>
<rect x="226" y="73.7" width="4.5" height="5.6" fill="#9494c6"/>
<rect x="226" y="121.15" width="4.5" height="5.6" fill="#2a2a82"/>
<rect x="226" y="154.8" width="4.5" height="5.6" fill="#3ab073"/>
<rect x="226" y="168.3" width="4.5" height="5.6" fill="#adadad"/>
<rect x="226" y="175" width="4.5" height="5.6" fill="#858585"/>
<rect x="226" y="181.7" width="4.5" height="5.6" fill="#d2d2d2"/>
<rect x="231.55" y="13" width="4.5" height="5.6" fill="#4b2b92"/>
<rect x="231.9" y="20.15" width="3.8" height="4.8999999999999995" fill="#fff" stroke="#8a8a8a" stroke-width="0.7"/>
<rect x="231.55" y="26.4" width="4.5" height="5.6" fill="#a3191b"/>
<rect x="231.55" y="40.1" width="4.5" height="5.6" fill="#dadaea"/>
<rect x="231.55" y="87.4" width="4.5" height="5.6" fill="#6464ab"/>
<rect x="231.55" y="46.82" width="4.5" height="5.6" fill="#ecebee"/>
<rect x="231.55" y="94.15" width="4.5" height="5.6" fill="#ecebee"/>
<rect x="231.55" y="53.54" width="4.5" height="5.6" fill="#ecebee"/>
<rect x="231.55" y="100.9" width="4.5" height="5.6" fill="#ecebee"/>
<rect x="231.55" y="60.26" width="4.5" height="5.6" fill="#9494c6"/>
<rect x="231.55" y="107.65" width="4.5" height="5.6" fill="#9494c6"/>
<rect x="231.55" y="66.98" width="4.5" height="5.6" fill="#ecebee"/>
<rect x="231.55" y="114.4" width="4.5" height="5.6" fill="#9494c6"/>
<rect x="231.55" y="73.7" width="4.5" height="5.6" fill="#ecebee"/>
<rect x="231.55" y="121.15" width="4.5" height="5.6" fill="#ecebee"/>
<rect x="231.55" y="154.8" width="4.5" height="5.6" fill="#3ab073"/>
<rect x="231.55" y="168.3" width="4.5" height="5.6" fill="#d2d2d2"/>
<rect x="231.55" y="175" width="4.5" height="5.6" fill="#d2d2d2"/>
<rect x="231.55" y="181.7" width="4.5" height="5.6" fill="#d2d2d2"/>
<rect x="237.1" y="13" width="4.5" height="5.6" fill="#4b2b92"/>
<rect x="237.1" y="19.8" width="4.5" height="5.6" fill="#000"/>
<rect x="237.1" y="26.4" width="4.5" height="5.6" fill="#a3191b"/>
<rect x="237.1" y="40.1" width="4.5" height="5.6" fill="#dadaea"/>
<rect x="237.1" y="87.4" width="4.5" height="5.6" fill="#9494c6"/>
<rect x="237.1" y="46.82" width="4.5" height="5.6" fill="#ecebee"/>
<rect x="237.1" y="94.15" width="4.5" height="5.6" fill="#2a2a82"/>
<rect x="237.1" y="53.54" width="4.5" height="5.6" fill="#ecebee"/>
<rect x="237.1" y="100.9" width="4.5" height="5.6" fill="#2a2a82"/>
<rect x="237.1" y="60.26" width="4.5" height="5.6" fill="#bdbddb"/>
<rect x="237.1" y="107.65" width="4.5" height="5.6" fill="#9494c6"/>
<rect x="237.1" y="66.98" width="4.5" height="5.6" fill="#ecebee"/>
<rect x="237.1" y="114.4" width="4.5" height="5.6" fill="#ecebee"/>
<rect x="237.1" y="73.7" width="4.5" height="5.6" fill="#ecebee"/>
<rect x="237.1" y="121.15" width="4.5" height="5.6" fill="#ecebee"/>
<rect x="237.1" y="135.2" width="4.5" height="5.6" fill="#3ab073"/>
<rect x="237.1" y="148.2" width="4.5" height="5.6" fill="#3ab073"/>
<rect x="237.1" y="154.8" width="4.5" height="5.6" fill="#3ab073"/>
<rect x="237.1" y="168.3" width="4.5" height="5.6" fill="#858585"/>
<rect x="237.1" y="175" width="4.5" height="5.6" fill="#858585"/>
<rect x="237.1" y="181.7" width="4.5" height="5.6" fill="#d2d2d2"/>
<rect x="242.65" y="13" width="4.5" height="5.6" fill="#4b2b92"/>
<rect x="242.65" y="19.8" width="4.5" height="5.6" fill="#000"/>
<rect x="242.65" y="26.4" width="4.5" height="5.6" fill="#a3191b"/>
<rect x="242.65" y="40.1" width="4.5" height="5.6" fill="#bdbddb"/>
<rect x="242.65" y="87.4" width="4.5" height="5.6" fill="#bdbddb"/>
<rect x="242.65" y="46.82" width="4.5" height="5.6" fill="#dadaea"/>
<rect x="242.65" y="94.15" width="4.5" height="5.6" fill="#2a2a82"/>
<rect x="242.65" y="53.54" width="4.5" height="5.6" fill="#9494c6"/>
<rect x="242.65" y="100.9" width="4.5" height="5.6" fill="#2a2a82"/>
<rect x="242.65" y="60.26" width="4.5" height="5.6" fill="#dadaea"/>
<rect x="242.65" y="107.65" width="4.5" height="5.6" fill="#ecebee"/>
<rect x="242.65" y="66.98" width="4.5" height="5.6" fill="#dadaea"/>
<rect x="242.65" y="114.4" width="4.5" height="5.6" fill="#ecebee"/>
<rect x="242.65" y="73.7" width="4.5" height="5.6" fill="#bdbddb"/>
<rect x="242.65" y="121.15" width="4.5" height="5.6" fill="#9494c6"/>
<rect x="242.65" y="148.2" width="4.5" height="5.6" fill="#3ab073"/>
<rect x="242.65" y="154.8" width="4.5" height="5.6" fill="#3ab073"/>
<rect x="242.65" y="168.3" width="4.5" height="5.6" fill="#adadad"/>
<rect x="242.65" y="175" width="4.5" height="5.6" fill="#585858"/>
<rect x="242.65" y="181.7" width="4.5" height="5.6" fill="#d2d2d2"/>
<rect x="248.2" y="13" width="4.5" height="5.6" fill="#4b2b92"/>
<rect x="248.55" y="20.15" width="3.8" height="4.8999999999999995" fill="#fff" stroke="#8a8a8a" stroke-width="0.7"/>
<rect x="248.2" y="26.4" width="4.5" height="5.6" fill="#f2898a"/>
<rect x="248.2" y="40.1" width="4.5" height="5.6" fill="#ecebee"/>
<rect x="248.2" y="87.4" width="4.5" height="5.6" fill="#ecebee"/>
<rect x="248.2" y="46.82" width="4.5" height="5.6" fill="#bdbddb"/>
<rect x="248.2" y="94.15" width="4.5" height="5.6" fill="#2a2a82"/>
<rect x="248.2" y="53.54" width="4.5" height="5.6" fill="#9494c6"/>
<rect x="248.2" y="100.9" width="4.5" height="5.6" fill="#9494c6"/>
<rect x="248.2" y="60.26" width="4.5" height="5.6" fill="#bdbddb"/>
<rect x="248.2" y="107.65" width="4.5" height="5.6" fill="#ecebee"/>
<rect x="248.2" y="66.98" width="4.5" height="5.6" fill="#9494c6"/>
<rect x="248.2" y="114.4" width="4.5" height="5.6" fill="#ecebee"/>
<rect x="248.2" y="73.7" width="4.5" height="5.6" fill="#bdbddb"/>
<rect x="248.2" y="121.15" width="4.5" height="5.6" fill="#ecebee"/>
<rect x="248.2" y="135.2" width="4.5" height="5.6" fill="#3ab073"/>
<rect x="248.2" y="141.7" width="4.5" height="5.6" fill="#3ab073"/>
<rect x="248.2" y="148.2" width="4.5" height="5.6" fill="#3ab073"/>
<rect x="248.2" y="168.3" width="4.5" height="5.6" fill="#adadad"/>
<rect x="248.2" y="175" width="4.5" height="5.6" fill="#585858"/>
<rect x="248.2" y="181.7" width="4.5" height="5.6" fill="#d2d2d2"/>
<rect x="253.75" y="13" width="4.5" height="5.6" fill="#4b2b92"/>
<rect x="254.1" y="20.15" width="3.8" height="4.8999999999999995" fill="#fff" stroke="#8a8a8a" stroke-width="0.7"/>
<rect x="253.75" y="26.4" width="4.5" height="5.6" fill="#f2898a"/>
<rect x="253.75" y="40.1" width="4.5" height="5.6" fill="#ecebee"/>
<rect x="253.75" y="87.4" width="4.5" height="5.6" fill="#ecebee"/>
<rect x="253.75" y="46.82" width="4.5" height="5.6" fill="#9494c6"/>
<rect x="253.75" y="94.15" width="4.5" height="5.6" fill="#2a2a82"/>
<rect x="253.75" y="53.54" width="4.5" height="5.6" fill="#6464ab"/>
<rect x="253.75" y="100.9" width="4.5" height="5.6" fill="#2a2a82"/>
<rect x="253.75" y="60.26" width="4.5" height="5.6" fill="#dadaea"/>
<rect x="253.75" y="107.65" width="4.5" height="5.6" fill="#2a2a82"/>
<rect x="253.75" y="66.98" width="4.5" height="5.6" fill="#9494c6"/>
<rect x="253.75" y="114.4" width="4.5" height="5.6" fill="#2a2a82"/>
<rect x="253.75" y="73.7" width="4.5" height="5.6" fill="#9494c6"/>
<rect x="253.75" y="121.15" width="4.5" height="5.6" fill="#2a2a82"/>
<rect x="253.75" y="168.3" width="4.5" height="5.6" fill="#ececec"/>
<rect x="253.75" y="175" width="4.5" height="5.6" fill="#d2d2d2"/>
<rect x="253.75" y="181.7" width="4.5" height="5.6" fill="#ececec"/>
<rect x="259.3" y="13" width="4.5" height="5.6" fill="#4b2b92"/>
<rect x="259.65" y="20.15" width="3.8" height="4.8999999999999995" fill="#fff" stroke="#8a8a8a" stroke-width="0.7"/>
<rect x="259.3" y="26.4" width="4.5" height="5.6" fill="#f2898a"/>
<rect x="259.3" y="40.1" width="4.5" height="5.6" fill="#ecebee"/>
<rect x="259.3" y="87.4" width="4.5" height="5.6" fill="#ecebee"/>
<rect x="259.3" y="46.82" width="4.5" height="5.6" fill="#bdbddb"/>
<rect x="259.3" y="94.15" width="4.5" height="5.6" fill="#2a2a82"/>
<rect x="259.3" y="53.54" width="4.5" height="5.6" fill="#bdbddb"/>
<rect x="259.3" y="100.9" width="4.5" height="5.6" fill="#ecebee"/>
<rect x="259.3" y="60.26" width="4.5" height="5.6" fill="#dadaea"/>
<rect x="259.3" y="107.65" width="4.5" height="5.6" fill="#ecebee"/>
<rect x="259.3" y="66.98" width="4.5" height="5.6" fill="#6464ab"/>
<rect x="259.3" y="114.4" width="4.5" height="5.6" fill="#ecebee"/>
<rect x="259.3" y="73.7" width="4.5" height="5.6" fill="#bdbddb"/>
<rect x="259.3" y="121.15" width="4.5" height="5.6" fill="#dadaea"/>
<rect x="259.3" y="135.2" width="4.5" height="5.6" fill="#3ab073"/>
<rect x="259.3" y="168.3" width="4.5" height="5.6" fill="#d2d2d2"/>
<rect x="259.3" y="175" width="4.5" height="5.6" fill="#d2d2d2"/>
<rect x="259.3" y="181.7" width="4.5" height="5.6" fill="#ececec"/>
<rect x="264.85" y="13" width="4.5" height="5.6" fill="#4b2b92"/>
<rect x="265.2" y="20.15" width="3.8" height="4.8999999999999995" fill="#fff" stroke="#8a8a8a" stroke-width="0.7"/>
<rect x="264.85" y="26.4" width="4.5" height="5.6" fill="#f2898a"/>
<rect x="264.85" y="40.1" width="4.5" height="5.6" fill="#ecebee"/>
<rect x="264.85" y="87.4" width="4.5" height="5.6" fill="#ecebee"/>
<rect x="264.85" y="46.82" width="4.5" height="5.6" fill="#bdbddb"/>
<rect x="264.85" y="94.15" width="4.5" height="5.6" fill="#2a2a82"/>
<rect x="264.85" y="53.54" width="4.5" height="5.6" fill="#dadaea"/>
<rect x="264.85" y="100.9" width="4.5" height="5.6" fill="#ecebee"/>
<rect x="264.85" y="60.26" width="4.5" height="5.6" fill="#dadaea"/>
<rect x="264.85" y="107.65" width="4.5" height="5.6" fill="#ecebee"/>
<rect x="264.85" y="66.98" width="4.5" height="5.6" fill="#bdbddb"/>
<rect x="264.85" y="114.4" width="4.5" height="5.6" fill="#ecebee"/>
<rect x="264.85" y="73.7" width="4.5" height="5.6" fill="#9494c6"/>
<rect x="264.85" y="121.15" width="4.5" height="5.6" fill="#ecebee"/>
<rect x="264.85" y="168.3" width="4.5" height="5.6" fill="#ececec"/>
<rect x="264.85" y="175" width="4.5" height="5.6" fill="#d2d2d2"/>
<rect x="264.85" y="181.7" width="4.5" height="5.6" fill="#ececec"/>
<rect x="270.4" y="13" width="4.5" height="5.6" fill="#4b2b92"/>
<rect x="270.75" y="20.15" width="3.8" height="4.8999999999999995" fill="#fff" stroke="#8a8a8a" stroke-width="0.7"/>
<rect x="270.4" y="26.4" width="4.5" height="5.6" fill="#f2898a"/>
<rect x="270.4" y="40.1" width="4.5" height="5.6" fill="#ecebee"/>
<rect x="270.4" y="87.4" width="4.5" height="5.6" fill="#ecebee"/>
<rect x="270.4" y="46.82" width="4.5" height="5.6" fill="#dadaea"/>
<rect x="270.4" y="94.15" width="4.5" height="5.6" fill="#6464ab"/>
<rect x="270.4" y="53.54" width="4.5" height="5.6" fill="#6464ab"/>
<rect x="270.4" y="100.9" width="4.5" height="5.6" fill="#2a2a82"/>
<rect x="270.4" y="60.26" width="4.5" height="5.6" fill="#dadaea"/>
<rect x="270.4" y="107.65" width="4.5" height="5.6" fill="#ecebee"/>
<rect x="270.4" y="66.98" width="4.5" height="5.6" fill="#dadaea"/>
<rect x="270.4" y="114.4" width="4.5" height="5.6" fill="#ecebee"/>
<rect x="270.4" y="73.7" width="4.5" height="5.6" fill="#9494c6"/>
<rect x="270.4" y="121.15" width="4.5" height="5.6" fill="#6464ab"/>
<rect x="270.4" y="148.2" width="4.5" height="5.6" fill="#3ab073"/>
<rect x="270.4" y="168.3" width="4.5" height="5.6" fill="#858585"/>
<rect x="270.4" y="175" width="4.5" height="5.6" fill="#585858"/>
<rect x="270.4" y="181.7" width="4.5" height="5.6" fill="#858585"/>
<rect x="275.95" y="13" width="4.5" height="5.6" fill="#4b2b92"/>
<rect x="276.3" y="20.15" width="3.8" height="4.8999999999999995" fill="#fff" stroke="#8a8a8a" stroke-width="0.7"/>
<rect x="275.95" y="26.4" width="4.5" height="5.6" fill="#f2898a"/>
<rect x="275.95" y="40.1" width="4.5" height="5.6" fill="#ecebee"/>
<rect x="275.95" y="87.4" width="4.5" height="5.6" fill="#ecebee"/>
<rect x="275.95" y="46.82" width="4.5" height="5.6" fill="#bdbddb"/>
<rect x="275.95" y="94.15" width="4.5" height="5.6" fill="#9494c6"/>
<rect x="275.95" y="53.54" width="4.5" height="5.6" fill="#9494c6"/>
<rect x="275.95" y="100.9" width="4.5" height="5.6" fill="#dadaea"/>
<rect x="275.95" y="60.26" width="4.5" height="5.6" fill="#dadaea"/>
<rect x="275.95" y="107.65" width="4.5" height="5.6" fill="#9494c6"/>
<rect x="275.95" y="66.98" width="4.5" height="5.6" fill="#9494c6"/>
<rect x="275.95" y="114.4" width="4.5" height="5.6" fill="#ecebee"/>
<rect x="275.95" y="73.7" width="4.5" height="5.6" fill="#bdbddb"/>
<rect x="275.95" y="121.15" width="4.5" height="5.6" fill="#9494c6"/>
<rect x="275.95" y="168.3" width="4.5" height="5.6" fill="#d2d2d2"/>
<rect x="275.95" y="175" width="4.5" height="5.6" fill="#d2d2d2"/>
<rect x="275.95" y="181.7" width="4.5" height="5.6" fill="#d2d2d2"/>
<rect x="281.5" y="13" width="4.5" height="5.6" fill="#4b2b92"/>
<rect x="281.85" y="20.15" width="3.8" height="4.8999999999999995" fill="#fff" stroke="#8a8a8a" stroke-width="0.7"/>
<rect x="281.5" y="26.4" width="4.5" height="5.6" fill="#f2898a"/>
<rect x="281.5" y="40.1" width="4.5" height="5.6" fill="#ecebee"/>
<rect x="281.5" y="87.4" width="4.5" height="5.6" fill="#ecebee"/>
<rect x="281.5" y="46.82" width="4.5" height="5.6" fill="#dadaea"/>
<rect x="281.5" y="94.15" width="4.5" height="5.6" fill="#dadaea"/>
<rect x="281.5" y="53.54" width="4.5" height="5.6" fill="#dadaea"/>
<rect x="281.5" y="100.9" width="4.5" height="5.6" fill="#2a2a82"/>
<rect x="281.5" y="60.26" width="4.5" height="5.6" fill="#bdbddb"/>
<rect x="281.5" y="107.65" width="4.5" height="5.6" fill="#9494c6"/>
<rect x="281.5" y="66.98" width="4.5" height="5.6" fill="#6464ab"/>
<rect x="281.5" y="114.4" width="4.5" height="5.6" fill="#ecebee"/>
<rect x="281.5" y="73.7" width="4.5" height="5.6" fill="#dadaea"/>
<rect x="281.5" y="121.15" width="4.5" height="5.6" fill="#ecebee"/>
<rect x="281.5" y="135.2" width="4.5" height="5.6" fill="#3ab073"/>
<rect x="281.5" y="168.3" width="4.5" height="5.6" fill="#585858"/>
<rect x="281.5" y="175" width="4.5" height="5.6" fill="#1e1e1e"/>
<rect x="281.5" y="181.7" width="4.5" height="5.6" fill="#d2d2d2"/>
<rect x="287.05" y="13" width="4.5" height="5.6" fill="#4b2b92"/>
<rect x="287.4" y="20.15" width="3.8" height="4.8999999999999995" fill="#fff" stroke="#8a8a8a" stroke-width="0.7"/>
<rect x="287.05" y="26.4" width="4.5" height="5.6" fill="#f2898a"/>
<rect x="287.05" y="40.1" width="4.5" height="5.6" fill="#ecebee"/>
<rect x="287.05" y="87.4" width="4.5" height="5.6" fill="#ecebee"/>
<rect x="287.05" y="46.82" width="4.5" height="5.6" fill="#bdbddb"/>
<rect x="287.05" y="94.15" width="4.5" height="5.6" fill="#ecebee"/>
<rect x="287.05" y="53.54" width="4.5" height="5.6" fill="#6464ab"/>
<rect x="287.05" y="100.9" width="4.5" height="5.6" fill="#2a2a82"/>
<rect x="287.05" y="60.26" width="4.5" height="5.6" fill="#dadaea"/>
<rect x="287.05" y="107.65" width="4.5" height="5.6" fill="#2a2a82"/>
<rect x="287.05" y="66.98" width="4.5" height="5.6" fill="#bdbddb"/>
<rect x="287.05" y="114.4" width="4.5" height="5.6" fill="#ecebee"/>
<rect x="287.05" y="73.7" width="4.5" height="5.6" fill="#dadaea"/>
<rect x="287.05" y="121.15" width="4.5" height="5.6" fill="#ecebee"/>
<rect x="287.05" y="168.3" width="4.5" height="5.6" fill="#d2d2d2"/>
<rect x="287.05" y="175" width="4.5" height="5.6" fill="#d2d2d2"/>
<rect x="287.05" y="181.7" width="4.5" height="5.6" fill="#ececec"/>
<rect x="298.2" y="13" width="4.5" height="5.6" fill="#e8222c"/>
<rect x="298.2" y="19.8" width="4.5" height="5.6" fill="#000"/>
<rect x="298.2" y="26.4" width="4.5" height="5.6" fill="#a3191b"/>
<rect x="298.2" y="40.1" width="4.5" height="5.6" fill="#bdbddb"/>
<rect x="298.2" y="87.4" width="4.5" height="5.6" fill="#2a2a82"/>
<rect x="298.2" y="46.82" width="4.5" height="5.6" fill="#9494c6"/>
<rect x="298.2" y="94.15" width="4.5" height="5.6" fill="#2a2a82"/>
<rect x="298.2" y="53.54" width="4.5" height="5.6" fill="#bdbddb"/>
<rect x="298.2" y="100.9" width="4.5" height="5.6" fill="#ecebee"/>
<rect x="298.2" y="60.26" width="4.5" height="5.6" fill="#dadaea"/>
<rect x="298.2" y="107.65" width="4.5" height="5.6" fill="#ffffff"/>
<rect x="298.2" y="66.98" width="4.5" height="5.6" fill="#dadaea"/>
<rect x="298.2" y="114.4" width="4.5" height="5.6" fill="#ecebee"/>
<rect x="298.2" y="73.7" width="4.5" height="5.6" fill="#dadaea"/>
<rect x="298.2" y="121.15" width="4.5" height="5.6" fill="#2a2a82"/>
<rect x="298.2" y="148.2" width="4.5" height="5.6" fill="#3ab073"/>
<rect x="298.2" y="154.8" width="4.5" height="5.6" fill="#3ab073"/>
<rect x="298.2" y="168.3" width="4.5" height="5.6" fill="#1e1e1e"/>
<rect x="298.2" y="175" width="4.5" height="5.6" fill="#1e1e1e"/>
<rect x="298.2" y="181.7" width="4.5" height="5.6" fill="#d2d2d2"/>
<rect x="303.75" y="13" width="4.5" height="5.6" fill="#e8222c"/>
<rect x="303.75" y="19.8" width="4.5" height="5.6" fill="#000"/>
<rect x="303.75" y="26.4" width="4.5" height="5.6" fill="#a3191b"/>
<rect x="303.75" y="40.1" width="4.5" height="5.6" fill="#9494c6"/>
<rect x="303.75" y="87.4" width="4.5" height="5.6" fill="#2a2a82"/>
<rect x="303.75" y="46.82" width="4.5" height="5.6" fill="#dadaea"/>
<rect x="303.75" y="94.15" width="4.5" height="5.6" fill="#2a2a82"/>
<rect x="303.75" y="53.54" width="4.5" height="5.6" fill="#bdbddb"/>
<rect x="303.75" y="100.9" width="4.5" height="5.6" fill="#2a2a82"/>
<rect x="303.75" y="60.26" width="4.5" height="5.6" fill="#dadaea"/>
<rect x="303.75" y="107.65" width="4.5" height="5.6" fill="#ecebee"/>
<rect x="303.75" y="66.98" width="4.5" height="5.6" fill="#bdbddb"/>
<rect x="303.75" y="114.4" width="4.5" height="5.6" fill="#6464ab"/>
<rect x="303.75" y="73.7" width="4.5" height="5.6" fill="#bdbddb"/>
<rect x="303.75" y="121.15" width="4.5" height="5.6" fill="#9494c6"/>
<rect x="303.75" y="154.8" width="4.5" height="5.6" fill="#3ab073"/>
<rect x="303.75" y="168.3" width="4.5" height="5.6" fill="#adadad"/>
<rect x="303.75" y="175" width="4.5" height="5.6" fill="#585858"/>
<rect x="303.75" y="181.7" width="4.5" height="5.6" fill="#1e1e1e"/>
<rect x="309.3" y="13" width="4.5" height="5.6" fill="#e8222c"/>
<rect x="309.3" y="19.8" width="4.5" height="5.6" fill="#000"/>
<rect x="309.3" y="26.4" width="4.5" height="5.6" fill="#a3191b"/>
<rect x="309.3" y="40.1" width="4.5" height="5.6" fill="#9494c6"/>
<rect x="309.3" y="87.4" width="4.5" height="5.6" fill="#2a2a82"/>
<rect x="309.3" y="46.82" width="4.5" height="5.6" fill="#2a2a82"/>
<rect x="309.3" y="94.15" width="4.5" height="5.6" fill="#9494c6"/>
<rect x="309.3" y="53.54" width="4.5" height="5.6" fill="#dadaea"/>
<rect x="309.3" y="100.9" width="4.5" height="5.6" fill="#ecebee"/>
<rect x="309.3" y="60.26" width="4.5" height="5.6" fill="#dadaea"/>
<rect x="309.3" y="107.65" width="4.5" height="5.6" fill="#ecebee"/>
<rect x="309.3" y="66.98" width="4.5" height="5.6" fill="#dadaea"/>
<rect x="309.3" y="114.4" width="4.5" height="5.6" fill="#ecebee"/>
<rect x="309.3" y="73.7" width="4.5" height="5.6" fill="#ecebee"/>
<rect x="309.3" y="121.15" width="4.5" height="5.6" fill="#ecebee"/>
<rect x="309.3" y="141.7" width="4.5" height="5.6" fill="#3ab073"/>
<rect x="309.3" y="148.2" width="4.5" height="5.6" fill="#3ab073"/>
<rect x="309.3" y="154.8" width="4.5" height="5.6" fill="#3ab073"/>
<rect x="309.3" y="168.3" width="4.5" height="5.6" fill="#1e1e1e"/>
<rect x="309.3" y="175" width="4.5" height="5.6" fill="#585858"/>
<rect x="309.3" y="181.7" width="4.5" height="5.6" fill="#adadad"/>
<rect x="314.85" y="13" width="4.5" height="5.6" fill="#e8222c"/>
<rect x="315.2" y="20.15" width="3.8" height="4.8999999999999995" fill="#fff" stroke="#8a8a8a" stroke-width="0.7"/>
<rect x="314.85" y="26.4" width="4.5" height="5.6" fill="#a3191b"/>
<rect x="314.85" y="40.1" width="4.5" height="5.6" fill="#9494c6"/>
<rect x="314.85" y="87.4" width="4.5" height="5.6" fill="#2a2a82"/>
<rect x="314.85" y="46.82" width="4.5" height="5.6" fill="#dadaea"/>
<rect x="314.85" y="94.15" width="4.5" height="5.6" fill="#ffffff"/>
<rect x="314.85" y="53.54" width="4.5" height="5.6" fill="#dadaea"/>
<rect x="314.85" y="100.9" width="4.5" height="5.6" fill="#ffffff"/>
<rect x="314.85" y="60.26" width="4.5" height="5.6" fill="#dadaea"/>
<rect x="314.85" y="107.65" width="4.5" height="5.6" fill="#6464ab"/>
<rect x="314.85" y="66.98" width="4.5" height="5.6" fill="#dadaea"/>
<rect x="314.85" y="114.4" width="4.5" height="5.6" fill="#ecebee"/>
<rect x="314.85" y="73.7" width="4.5" height="5.6" fill="#ecebee"/>
<rect x="314.85" y="121.15" width="4.5" height="5.6" fill="#ecebee"/>
<rect x="314.85" y="154.8" width="4.5" height="5.6" fill="#3ab073"/>
<rect x="314.85" y="168.3" width="4.5" height="5.6" fill="#858585"/>
<rect x="314.85" y="175" width="4.5" height="5.6" fill="#adadad"/>
<rect x="314.85" y="181.7" width="4.5" height="5.6" fill="#adadad"/>
<rect x="320.4" y="13" width="4.5" height="5.6" fill="#e8222c"/>
<rect x="320.4" y="19.8" width="4.5" height="5.6" fill="#000"/>
<rect x="320.4" y="26.4" width="4.5" height="5.6" fill="#a3191b"/>
<rect x="320.4" y="40.1" width="4.5" height="5.6" fill="#bdbddb"/>
<rect x="320.4" y="87.4" width="4.5" height="5.6" fill="#2a2a82"/>
<rect x="320.4" y="46.82" width="4.5" height="5.6" fill="#bdbddb"/>
<rect x="320.4" y="94.15" width="4.5" height="5.6" fill="#ecebee"/>
<rect x="320.4" y="53.54" width="4.5" height="5.6" fill="#bdbddb"/>
<rect x="320.4" y="100.9" width="4.5" height="5.6" fill="#ecebee"/>
<rect x="320.4" y="60.26" width="4.5" height="5.6" fill="#dadaea"/>
<rect x="320.4" y="107.65" width="4.5" height="5.6" fill="#2a2a82"/>
<rect x="320.4" y="66.98" width="4.5" height="5.6" fill="#bdbddb"/>
<rect x="320.4" y="114.4" width="4.5" height="5.6" fill="#2a2a82"/>
<rect x="320.4" y="73.7" width="4.5" height="5.6" fill="#dadaea"/>
<rect x="320.4" y="121.15" width="4.5" height="5.6" fill="#ecebee"/>
<rect x="320.4" y="148.2" width="4.5" height="5.6" fill="#3ab073"/>
<rect x="320.4" y="154.8" width="4.5" height="5.6" fill="#3ab073"/>
<rect x="320.4" y="168.3" width="4.5" height="5.6" fill="#858585"/>
<rect x="320.4" y="175" width="4.5" height="5.6" fill="#1e1e1e"/>
<rect x="320.4" y="181.7" width="4.5" height="5.6" fill="#858585"/>
<rect x="325.95" y="13" width="4.5" height="5.6" fill="#e8222c"/>
<rect x="325.95" y="19.8" width="4.5" height="5.6" fill="#000"/>
<rect x="325.95" y="26.4" width="4.5" height="5.6" fill="#a3191b"/>
<rect x="325.95" y="40.1" width="4.5" height="5.6" fill="#6464ab"/>
<rect x="325.95" y="87.4" width="4.5" height="5.6" fill="#2a2a82"/>
<rect x="325.95" y="46.82" width="4.5" height="5.6" fill="#6464ab"/>
<rect x="325.95" y="94.15" width="4.5" height="5.6" fill="#ecebee"/>
<rect x="325.95" y="53.54" width="4.5" height="5.6" fill="#6464ab"/>
<rect x="325.95" y="100.9" width="4.5" height="5.6" fill="#2a2a82"/>
<rect x="325.95" y="60.26" width="4.5" height="5.6" fill="#dadaea"/>
<rect x="325.95" y="107.65" width="4.5" height="5.6" fill="#ecebee"/>
<rect x="325.95" y="66.98" width="4.5" height="5.6" fill="#dadaea"/>
<rect x="325.95" y="114.4" width="4.5" height="5.6" fill="#ecebee"/>
<rect x="325.95" y="73.7" width="4.5" height="5.6" fill="#dadaea"/>
<rect x="325.95" y="121.15" width="4.5" height="5.6" fill="#ecebee"/>
<rect x="325.95" y="135.2" width="4.5" height="5.6" fill="#3ab073"/>
<rect x="325.95" y="154.8" width="4.5" height="5.6" fill="#3ab073"/>
<rect x="325.95" y="168.3" width="4.5" height="5.6" fill="#1e1e1e"/>
<rect x="325.95" y="175" width="4.5" height="5.6" fill="#585858"/>
<rect x="325.95" y="181.7" width="4.5" height="5.6" fill="#adadad"/>
<rect x="331.5" y="13" width="4.5" height="5.6" fill="#e8222c"/>
<rect x="331.5" y="19.8" width="4.5" height="5.6" fill="#000"/>
<rect x="331.5" y="26.4" width="4.5" height="5.6" fill="#a3191b"/>
<rect x="331.5" y="40.1" width="4.5" height="5.6" fill="#6464ab"/>
<rect x="331.5" y="87.4" width="4.5" height="5.6" fill="#2a2a82"/>
<rect x="331.5" y="46.82" width="4.5" height="5.6" fill="#9494c6"/>
<rect x="331.5" y="94.15" width="4.5" height="5.6" fill="#ecebee"/>
<rect x="331.5" y="53.54" width="4.5" height="5.6" fill="#ecebee"/>
<rect x="331.5" y="100.9" width="4.5" height="5.6" fill="#ecebee"/>
<rect x="331.5" y="60.26" width="4.5" height="5.6" fill="#bdbddb"/>
<rect x="331.5" y="107.65" width="4.5" height="5.6" fill="#ecebee"/>
<rect x="331.5" y="66.98" width="4.5" height="5.6" fill="#dadaea"/>
<rect x="331.5" y="114.4" width="4.5" height="5.6" fill="#ecebee"/>
<rect x="331.5" y="73.7" width="4.5" height="5.6" fill="#dadaea"/>
<rect x="331.5" y="121.15" width="4.5" height="5.6" fill="#9494c6"/>
<rect x="331.5" y="154.8" width="4.5" height="5.6" fill="#3ab073"/>
<rect x="331.5" y="168.3" width="4.5" height="5.6" fill="#d2d2d2"/>
<rect x="331.5" y="175" width="4.5" height="5.6" fill="#585858"/>
<rect x="331.5" y="181.7" width="4.5" height="5.6" fill="#ececec"/>
<rect x="337.05" y="13" width="4.5" height="5.6" fill="#e8222c"/>
<rect x="337.05" y="19.8" width="4.5" height="5.6" fill="#000"/>
<rect x="337.05" y="26.4" width="4.5" height="5.6" fill="#a3191b"/>
<rect x="337.05" y="40.1" width="4.5" height="5.6" fill="#6464ab"/>
<rect x="337.05" y="87.4" width="4.5" height="5.6" fill="#2a2a82"/>
<rect x="337.05" y="46.82" width="4.5" height="5.6" fill="#bdbddb"/>
<rect x="337.05" y="94.15" width="4.5" height="5.6" fill="#2a2a82"/>
<rect x="337.05" y="53.54" width="4.5" height="5.6" fill="#dadaea"/>
<rect x="337.05" y="100.9" width="4.5" height="5.6" fill="#ecebee"/>
<rect x="337.05" y="60.26" width="4.5" height="5.6" fill="#ecebee"/>
<rect x="337.05" y="107.65" width="4.5" height="5.6" fill="#ecebee"/>
<rect x="337.05" y="66.98" width="4.5" height="5.6" fill="#2a2a82"/>
<rect x="337.05" y="114.4" width="4.5" height="5.6" fill="#ecebee"/>
<rect x="337.05" y="73.7" width="4.5" height="5.6" fill="#ecebee"/>
<rect x="337.05" y="121.15" width="4.5" height="5.6" fill="#9494c6"/>
<rect x="337.05" y="154.8" width="4.5" height="5.6" fill="#3ab073"/>
<rect x="337.05" y="168.3" width="4.5" height="5.6" fill="#d2d2d2"/>
<rect x="337.05" y="175" width="4.5" height="5.6" fill="#585858"/>
<rect x="337.05" y="181.7" width="4.5" height="5.6" fill="#ececec"/>
<rect x="342.6" y="13" width="4.5" height="5.6" fill="#e8222c"/>
<rect x="342.95" y="20.15" width="3.8" height="4.8999999999999995" fill="#fff" stroke="#8a8a8a" stroke-width="0.7"/>
<rect x="342.6" y="26.4" width="4.5" height="5.6" fill="#a3191b"/>
<rect x="342.6" y="40.1" width="4.5" height="5.6" fill="#bdbddb"/>
<rect x="342.6" y="87.4" width="4.5" height="5.6" fill="#2a2a82"/>
<rect x="342.6" y="46.82" width="4.5" height="5.6" fill="#bdbddb"/>
<rect x="342.6" y="94.15" width="4.5" height="5.6" fill="#ecebee"/>
<rect x="342.6" y="53.54" width="4.5" height="5.6" fill="#dadaea"/>
<rect x="342.6" y="100.9" width="4.5" height="5.6" fill="#ecebee"/>
<rect x="342.6" y="60.26" width="4.5" height="5.6" fill="#dadaea"/>
<rect x="342.6" y="107.65" width="4.5" height="5.6" fill="#ecebee"/>
<rect x="342.6" y="66.98" width="4.5" height="5.6" fill="#bdbddb"/>
<rect x="342.6" y="114.4" width="4.5" height="5.6" fill="#ecebee"/>
<rect x="342.6" y="73.7" width="4.5" height="5.6" fill="#dadaea"/>
<rect x="342.6" y="121.15" width="4.5" height="5.6" fill="#2a2a82"/>
<rect x="342.6" y="154.8" width="4.5" height="5.6" fill="#3ab073"/>
<rect x="342.6" y="168.3" width="4.5" height="5.6" fill="#585858"/>
<rect x="342.6" y="175" width="4.5" height="5.6" fill="#adadad"/>
<rect x="342.6" y="181.7" width="4.5" height="5.6" fill="#adadad"/>
<rect x="348.15" y="13" width="4.5" height="5.6" fill="#e8222c"/>
<rect x="348.5" y="20.15" width="3.8" height="4.8999999999999995" fill="#fff" stroke="#8a8a8a" stroke-width="0.7"/>
<rect x="348.15" y="26.4" width="4.5" height="5.6" fill="#a3191b"/>
<rect x="348.15" y="40.1" width="4.5" height="5.6" fill="#dadaea"/>
<rect x="348.15" y="87.4" width="4.5" height="5.6" fill="#2a2a82"/>
<rect x="348.15" y="46.82" width="4.5" height="5.6" fill="#dadaea"/>
<rect x="348.15" y="94.15" width="4.5" height="5.6" fill="#ecebee"/>
<rect x="348.15" y="53.54" width="4.5" height="5.6" fill="#dadaea"/>
<rect x="348.15" y="100.9" width="4.5" height="5.6" fill="#2a2a82"/>
<rect x="348.15" y="60.26" width="4.5" height="5.6" fill="#dadaea"/>
<rect x="348.15" y="107.65" width="4.5" height="5.6" fill="#ecebee"/>
<rect x="348.15" y="66.98" width="4.5" height="5.6" fill="#dadaea"/>
<rect x="348.15" y="114.4" width="4.5" height="5.6" fill="#2a2a82"/>
<rect x="348.15" y="73.7" width="4.5" height="5.6" fill="#dadaea"/>
<rect x="348.15" y="121.15" width="4.5" height="5.6" fill="#ecebee"/>
<rect x="348.15" y="135.2" width="4.5" height="5.6" fill="#3ab073"/>
<rect x="348.15" y="148.2" width="4.5" height="5.6" fill="#3ab073"/>
<rect x="348.15" y="154.8" width="4.5" height="5.6" fill="#3ab073"/>
<rect x="348.15" y="168.3" width="4.5" height="5.6" fill="#585858"/>
<rect x="348.15" y="175" width="4.5" height="5.6" fill="#858585"/>
<rect x="348.15" y="181.7" width="4.5" height="5.6" fill="#adadad"/>
<rect x="353.7" y="13" width="4.5" height="5.6" fill="#e8222c"/>
<rect x="353.7" y="19.8" width="4.5" height="5.6" fill="#000"/>
<rect x="353.7" y="26.4" width="4.5" height="5.6" fill="#a3191b"/>
<rect x="353.7" y="40.1" width="4.5" height="5.6" fill="#2a2a82"/>
<rect x="353.7" y="87.4" width="4.5" height="5.6" fill="#2a2a82"/>
<rect x="353.7" y="46.82" width="4.5" height="5.6" fill="#bdbddb"/>
<rect x="353.7" y="94.15" width="4.5" height="5.6" fill="#2a2a82"/>
<rect x="353.7" y="53.54" width="4.5" height="5.6" fill="#dadaea"/>
<rect x="353.7" y="100.9" width="4.5" height="5.6" fill="#ecebee"/>
<rect x="353.7" y="60.26" width="4.5" height="5.6" fill="#dadaea"/>
<rect x="353.7" y="107.65" width="4.5" height="5.6" fill="#ecebee"/>
<rect x="353.7" y="66.98" width="4.5" height="5.6" fill="#dadaea"/>
<rect x="353.7" y="114.4" width="4.5" height="5.6" fill="#2a2a82"/>
<rect x="353.7" y="73.7" width="4.5" height="5.6" fill="#dadaea"/>
<rect x="353.7" y="121.15" width="4.5" height="5.6" fill="#ecebee"/>
<rect x="353.7" y="154.8" width="4.5" height="5.6" fill="#3ab073"/>
<rect x="353.7" y="168.3" width="4.5" height="5.6" fill="#858585"/>
<rect x="353.7" y="175" width="4.5" height="5.6" fill="#d2d2d2"/>
<rect x="353.7" y="181.7" width="4.5" height="5.6" fill="#ececec"/>
<rect x="359.25" y="13" width="4.5" height="5.6" fill="#e8222c"/>
<rect x="359.25" y="19.8" width="4.5" height="5.6" fill="#000"/>
<rect x="359.25" y="26.4" width="4.5" height="5.6" fill="#a3191b"/>
<rect x="359.25" y="40.1" width="4.5" height="5.6" fill="#dadaea"/>
<rect x="359.25" y="87.4" width="4.5" height="5.6" fill="#2a2a82"/>
<rect x="359.25" y="46.82" width="4.5" height="5.6" fill="#9494c6"/>
<rect x="359.25" y="94.15" width="4.5" height="5.6" fill="#2a2a82"/>
<rect x="359.25" y="53.54" width="4.5" height="5.6" fill="#dadaea"/>
<rect x="359.25" y="100.9" width="4.5" height="5.6" fill="#ecebee"/>
<rect x="359.25" y="60.26" width="4.5" height="5.6" fill="#bdbddb"/>
<rect x="359.25" y="107.65" width="4.5" height="5.6" fill="#2a2a82"/>
<rect x="359.25" y="66.98" width="4.5" height="5.6" fill="#9494c6"/>
<rect x="359.25" y="114.4" width="4.5" height="5.6" fill="#ecebee"/>
<rect x="359.25" y="73.7" width="4.5" height="5.6" fill="#9494c6"/>
<rect x="359.25" y="121.15" width="4.5" height="5.6" fill="#ecebee"/>
<rect x="359.25" y="154.8" width="4.5" height="5.6" fill="#3ab073"/>
<rect x="359.25" y="168.3" width="4.5" height="5.6" fill="#adadad"/>
<rect x="359.25" y="175" width="4.5" height="5.6" fill="#adadad"/>
<rect x="359.25" y="181.7" width="4.5" height="5.6" fill="#d2d2d2"/>
<rect x="364.8" y="13" width="4.5" height="5.6" fill="#e8222c"/>
<rect x="365.15" y="20.15" width="3.8" height="4.8999999999999995" fill="#fff" stroke="#8a8a8a" stroke-width="0.7"/>
<rect x="364.8" y="26.4" width="4.5" height="5.6" fill="#a3191b"/>
<rect x="364.8" y="40.1" width="4.5" height="5.6" fill="#ecebee"/>
<rect x="364.8" y="87.4" width="4.5" height="5.6" fill="#2a2a82"/>
<rect x="364.8" y="46.82" width="4.5" height="5.6" fill="#9494c6"/>
<rect x="364.8" y="94.15" width="4.5" height="5.6" fill="#ecebee"/>
<rect x="364.8" y="53.54" width="4.5" height="5.6" fill="#9494c6"/>
<rect x="364.8" y="100.9" width="4.5" height="5.6" fill="#ecebee"/>
<rect x="364.8" y="60.26" width="4.5" height="5.6" fill="#ecebee"/>
<rect x="364.8" y="107.65" width="4.5" height="5.6" fill="#ecebee"/>
<rect x="364.8" y="66.98" width="4.5" height="5.6" fill="#bdbddb"/>
<rect x="364.8" y="114.4" width="4.5" height="5.6" fill="#ecebee"/>
<rect x="364.8" y="73.7" width="4.5" height="5.6" fill="#bdbddb"/>
<rect x="364.8" y="121.15" width="4.5" height="5.6" fill="#ecebee"/>
<rect x="364.8" y="154.8" width="4.5" height="5.6" fill="#3ab073"/>
<rect x="364.8" y="168.3" width="4.5" height="5.6" fill="#1e1e1e"/>
<rect x="364.8" y="175" width="4.5" height="5.6" fill="#585858"/>
<rect x="364.8" y="181.7" width="4.5" height="5.6" fill="#1e1e1e"/>
<rect x="370.35" y="13" width="4.5" height="5.6" fill="#e8222c"/>
<rect x="370.35" y="19.8" width="4.5" height="5.6" fill="#000"/>
<rect x="370.35" y="26.4" width="4.5" height="5.6" fill="#a3191b"/>
<rect x="370.35" y="40.1" width="4.5" height="5.6" fill="#6464ab"/>
<rect x="370.35" y="87.4" width="4.5" height="5.6" fill="#2a2a82"/>
<rect x="370.35" y="46.82" width="4.5" height="5.6" fill="#6464ab"/>
<rect x="370.35" y="94.15" width="4.5" height="5.6" fill="#2a2a82"/>
<rect x="370.35" y="53.54" width="4.5" height="5.6" fill="#ecebee"/>
<rect x="370.35" y="100.9" width="4.5" height="5.6" fill="#6464ab"/>
<rect x="370.35" y="60.26" width="4.5" height="5.6" fill="#ecebee"/>
<rect x="370.35" y="107.65" width="4.5" height="5.6" fill="#2a2a82"/>
<rect x="370.35" y="66.98" width="4.5" height="5.6" fill="#9494c6"/>
<rect x="370.35" y="114.4" width="4.5" height="5.6" fill="#2a2a82"/>
<rect x="370.35" y="73.7" width="4.5" height="5.6" fill="#ecebee"/>
<rect x="370.35" y="121.15" width="4.5" height="5.6" fill="#ecebee"/>
<rect x="370.35" y="148.2" width="4.5" height="5.6" fill="#3ab073"/>
<rect x="370.35" y="154.8" width="4.5" height="5.6" fill="#3ab073"/>
<rect x="370.35" y="168.3" width="4.5" height="5.6" fill="#585858"/>
<rect x="370.35" y="175" width="4.5" height="5.6" fill="#d2d2d2"/>
<rect x="370.35" y="181.7" width="4.5" height="5.6" fill="#ececec"/>
<rect x="375.9" y="13" width="4.5" height="5.6" fill="#e8222c"/>
<rect x="375.9" y="19.8" width="4.5" height="5.6" fill="#000"/>
<rect x="375.9" y="26.4" width="4.5" height="5.6" fill="#a3191b"/>
<rect x="375.9" y="40.1" width="4.5" height="5.6" fill="#9494c6"/>
<rect x="375.9" y="87.4" width="4.5" height="5.6" fill="#2a2a82"/>
<rect x="375.9" y="46.82" width="4.5" height="5.6" fill="#bdbddb"/>
<rect x="375.9" y="94.15" width="4.5" height="5.6" fill="#ecebee"/>
<rect x="375.9" y="53.54" width="4.5" height="5.6" fill="#dadaea"/>
<rect x="375.9" y="100.9" width="4.5" height="5.6" fill="#2a2a82"/>
<rect x="375.9" y="60.26" width="4.5" height="5.6" fill="#dadaea"/>
<rect x="375.9" y="107.65" width="4.5" height="5.6" fill="#ecebee"/>
<rect x="375.9" y="66.98" width="4.5" height="5.6" fill="#2a2a82"/>
<rect x="375.9" y="114.4" width="4.5" height="5.6" fill="#ecebee"/>
<rect x="375.9" y="73.7" width="4.5" height="5.6" fill="#bdbddb"/>
<rect x="375.9" y="121.15" width="4.5" height="5.6" fill="#ecebee"/>
<rect x="375.9" y="141.7" width="4.5" height="5.6" fill="#3ab073"/>
<rect x="375.9" y="154.8" width="4.5" height="5.6" fill="#3ab073"/>
<rect x="375.9" y="168.3" width="4.5" height="5.6" fill="#585858"/>
<rect x="375.9" y="175" width="4.5" height="5.6" fill="#d2d2d2"/>
<rect x="375.9" y="181.7" width="4.5" height="5.6" fill="#ececec"/>
<rect x="381.45" y="13" width="4.5" height="5.6" fill="#e8222c"/>
<rect x="381.45" y="19.8" width="4.5" height="5.6" fill="#000"/>
<rect x="381.45" y="26.4" width="4.5" height="5.6" fill="#a3191b"/>
<rect x="381.45" y="40.1" width="4.5" height="5.6" fill="#9494c6"/>
<rect x="381.45" y="87.4" width="4.5" height="5.6" fill="#2a2a82"/>
<rect x="381.45" y="46.82" width="4.5" height="5.6" fill="#6464ab"/>
<rect x="381.45" y="94.15" width="4.5" height="5.6" fill="#2a2a82"/>
<rect x="381.45" y="53.54" width="4.5" height="5.6" fill="#9494c6"/>
<rect x="381.45" y="100.9" width="4.5" height="5.6" fill="#6464ab"/>
<rect x="381.45" y="60.26" width="4.5" height="5.6" fill="#dadaea"/>
<rect x="381.45" y="107.65" width="4.5" height="5.6" fill="#dadaea"/>
<rect x="381.45" y="66.98" width="4.5" height="5.6" fill="#dadaea"/>
<rect x="381.45" y="114.4" width="4.5" height="5.6" fill="#ecebee"/>
<rect x="381.45" y="73.7" width="4.5" height="5.6" fill="#9494c6"/>
<rect x="381.45" y="121.15" width="4.5" height="5.6" fill="#2a2a82"/>
<rect x="381.45" y="148.2" width="4.5" height="5.6" fill="#3ab073"/>
<rect x="381.45" y="154.8" width="4.5" height="5.6" fill="#3ab073"/>
<rect x="381.45" y="168.3" width="4.5" height="5.6" fill="#1e1e1e"/>
<rect x="381.45" y="175" width="4.5" height="5.6" fill="#adadad"/>
<rect x="381.45" y="181.7" width="4.5" height="5.6" fill="#ececec"/>
<rect x="387" y="13" width="4.5" height="5.6" fill="#e8222c"/>
<rect x="387" y="19.8" width="4.5" height="5.6" fill="#000"/>
<rect x="387" y="26.4" width="4.5" height="5.6" fill="#a3191b"/>
<rect x="387" y="40.1" width="4.5" height="5.6" fill="#dadaea"/>
<rect x="387" y="87.4" width="4.5" height="5.6" fill="#2a2a82"/>
<rect x="387" y="46.82" width="4.5" height="5.6" fill="#dadaea"/>
<rect x="387" y="94.15" width="4.5" height="5.6" fill="#ecebee"/>
<rect x="387" y="53.54" width="4.5" height="5.6" fill="#ecebee"/>
<rect x="387" y="100.9" width="4.5" height="5.6" fill="#2a2a82"/>
<rect x="387" y="60.26" width="4.5" height="5.6" fill="#ecebee"/>
<rect x="387" y="107.65" width="4.5" height="5.6" fill="#ecebee"/>
<rect x="387" y="66.98" width="4.5" height="5.6" fill="#dadaea"/>
<rect x="387" y="114.4" width="4.5" height="5.6" fill="#ecebee"/>
<rect x="387" y="73.7" width="4.5" height="5.6" fill="#ecebee"/>
<rect x="387" y="121.15" width="4.5" height="5.6" fill="#2a2a82"/>
<rect x="387" y="154.8" width="4.5" height="5.6" fill="#3ab073"/>
<rect x="387" y="168.3" width="4.5" height="5.6" fill="#d2d2d2"/>
<rect x="387" y="175" width="4.5" height="5.6" fill="#1e1e1e"/>
<rect x="387" y="181.7" width="4.5" height="5.6" fill="#ececec"/>
<rect x="392.55" y="13" width="4.5" height="5.6" fill="#e8222c"/>
<rect x="392.55" y="19.8" width="4.5" height="5.6" fill="#000"/>
<rect x="392.55" y="26.4" width="4.5" height="5.6" fill="#a3191b"/>
<rect x="392.55" y="40.1" width="4.5" height="5.6" fill="#6464ab"/>
<rect x="392.55" y="87.4" width="4.5" height="5.6" fill="#2a2a82"/>
<rect x="392.55" y="46.82" width="4.5" height="5.6" fill="#bdbddb"/>
<rect x="392.55" y="94.15" width="4.5" height="5.6" fill="#2a2a82"/>
<rect x="392.55" y="53.54" width="4.5" height="5.6" fill="#9494c6"/>
<rect x="392.55" y="100.9" width="4.5" height="5.6" fill="#2a2a82"/>
<rect x="392.55" y="60.26" width="4.5" height="5.6" fill="#dadaea"/>
<rect x="392.55" y="107.65" width="4.5" height="5.6" fill="#9494c6"/>
<rect x="392.55" y="66.98" width="4.5" height="5.6" fill="#6464ab"/>
<rect x="392.55" y="114.4" width="4.5" height="5.6" fill="#dadaea"/>
<rect x="392.55" y="73.7" width="4.5" height="5.6" fill="#dadaea"/>
<rect x="392.55" y="121.15" width="4.5" height="5.6" fill="#ecebee"/>
<rect x="392.55" y="135.2" width="4.5" height="5.6" fill="#3ab073"/>
<rect x="392.55" y="148.2" width="4.5" height="5.6" fill="#3ab073"/>
<rect x="392.55" y="154.8" width="4.5" height="5.6" fill="#3ab073"/>
<rect x="392.55" y="168.3" width="4.5" height="5.6" fill="#858585"/>
<rect x="392.55" y="175" width="4.5" height="5.6" fill="#858585"/>
<rect x="392.55" y="181.7" width="4.5" height="5.6" fill="#ececec"/>
<rect x="398.1" y="13" width="4.5" height="5.6" fill="#e8222c"/>
<rect x="398.1" y="19.8" width="4.5" height="5.6" fill="#000"/>
<rect x="398.1" y="26.4" width="4.5" height="5.6" fill="#a3191b"/>
<rect x="398.1" y="40.1" width="4.5" height="5.6" fill="#9494c6"/>
<rect x="398.1" y="87.4" width="4.5" height="5.6" fill="#2a2a82"/>
<rect x="398.1" y="46.82" width="4.5" height="5.6" fill="#bdbddb"/>
<rect x="398.1" y="94.15" width="4.5" height="5.6" fill="#dadaea"/>
<rect x="398.1" y="53.54" width="4.5" height="5.6" fill="#9494c6"/>
<rect x="398.1" y="100.9" width="4.5" height="5.6" fill="#ecebee"/>
<rect x="398.1" y="60.26" width="4.5" height="5.6" fill="#dadaea"/>
<rect x="398.1" y="107.65" width="4.5" height="5.6" fill="#2a2a82"/>
<rect x="398.1" y="66.98" width="4.5" height="5.6" fill="#9494c6"/>
<rect x="398.1" y="114.4" width="4.5" height="5.6" fill="#2a2a82"/>
<rect x="398.1" y="73.7" width="4.5" height="5.6" fill="#bdbddb"/>
<rect x="398.1" y="121.15" width="4.5" height="5.6" fill="#2a2a82"/>
<rect x="398.1" y="168.3" width="4.5" height="5.6" fill="#585858"/>
<rect x="398.1" y="175" width="4.5" height="5.6" fill="#adadad"/>
<rect x="398.1" y="181.7" width="4.5" height="5.6" fill="#ececec"/>
<rect x="403.65" y="13" width="4.5" height="5.6" fill="#e8222c"/>
<rect x="403.65" y="19.8" width="4.5" height="5.6" fill="#000"/>
<rect x="403.65" y="26.4" width="4.5" height="5.6" fill="#a3191b"/>
<rect x="403.65" y="40.1" width="4.5" height="5.6" fill="#dadaea"/>
<rect x="403.65" y="87.4" width="4.5" height="5.6" fill="#2a2a82"/>
<rect x="403.65" y="46.82" width="4.5" height="5.6" fill="#bdbddb"/>
<rect x="403.65" y="94.15" width="4.5" height="5.6" fill="#2a2a82"/>
<rect x="403.65" y="53.54" width="4.5" height="5.6" fill="#ecebee"/>
<rect x="403.65" y="100.9" width="4.5" height="5.6" fill="#2a2a82"/>
<rect x="403.65" y="60.26" width="4.5" height="5.6" fill="#bdbddb"/>
<rect x="403.65" y="107.65" width="4.5" height="5.6" fill="#9494c6"/>
<rect x="403.65" y="66.98" width="4.5" height="5.6" fill="#2a2a82"/>
<rect x="403.65" y="114.4" width="4.5" height="5.6" fill="#9494c6"/>
<rect x="403.65" y="73.7" width="4.5" height="5.6" fill="#dadaea"/>
<rect x="403.65" y="121.15" width="4.5" height="5.6" fill="#dadaea"/>
<rect x="403.65" y="135.2" width="4.5" height="5.6" fill="#3ab073"/>
<rect x="403.65" y="154.8" width="4.5" height="5.6" fill="#3ab073"/>
<rect x="403.65" y="168.3" width="4.5" height="5.6" fill="#858585"/>
<rect x="403.65" y="175" width="4.5" height="5.6" fill="#adadad"/>
<rect x="403.65" y="181.7" width="4.5" height="5.6" fill="#adadad"/>
<rect x="409.2" y="13" width="4.5" height="5.6" fill="#e8222c"/>
<rect x="409.2" y="19.8" width="4.5" height="5.6" fill="#000"/>
<rect x="409.2" y="26.4" width="4.5" height="5.6" fill="#a3191b"/>
<rect x="409.2" y="40.1" width="4.5" height="5.6" fill="#9494c6"/>
<rect x="409.2" y="87.4" width="4.5" height="5.6" fill="#2a2a82"/>
<rect x="409.2" y="46.82" width="4.5" height="5.6" fill="#9494c6"/>
<rect x="409.2" y="94.15" width="4.5" height="5.6" fill="#6464ab"/>
<rect x="409.2" y="53.54" width="4.5" height="5.6" fill="#bdbddb"/>
<rect x="409.2" y="100.9" width="4.5" height="5.6" fill="#ecebee"/>
<rect x="409.2" y="60.26" width="4.5" height="5.6" fill="#dadaea"/>
<rect x="409.2" y="107.65" width="4.5" height="5.6" fill="#dadaea"/>
<rect x="409.2" y="66.98" width="4.5" height="5.6" fill="#dadaea"/>
<rect x="409.2" y="114.4" width="4.5" height="5.6" fill="#ecebee"/>
<rect x="409.2" y="73.7" width="4.5" height="5.6" fill="#dadaea"/>
<rect x="409.2" y="121.15" width="4.5" height="5.6" fill="#ecebee"/>
<rect x="409.2" y="154.8" width="4.5" height="5.6" fill="#3ab073"/>
<rect x="409.2" y="168.3" width="4.5" height="5.6" fill="#858585"/>
<rect x="409.2" y="175" width="4.5" height="5.6" fill="#d2d2d2"/>
<rect x="409.2" y="181.7" width="4.5" height="5.6" fill="#d2d2d2"/>
<rect x="414.75" y="13" width="4.5" height="5.6" fill="#e8222c"/>
<rect x="415.1" y="20.15" width="3.8" height="4.8999999999999995" fill="#fff" stroke="#8a8a8a" stroke-width="0.7"/>
<rect x="414.75" y="26.4" width="4.5" height="5.6" fill="#a3191b"/>
<rect x="414.75" y="40.1" width="4.5" height="5.6" fill="#dadaea"/>
<rect x="414.75" y="87.4" width="4.5" height="5.6" fill="#2a2a82"/>
<rect x="414.75" y="46.82" width="4.5" height="5.6" fill="#dadaea"/>
<rect x="414.75" y="94.15" width="4.5" height="5.6" fill="#6464ab"/>
<rect x="414.75" y="53.54" width="4.5" height="5.6" fill="#9494c6"/>
<rect x="414.75" y="100.9" width="4.5" height="5.6" fill="#6464ab"/>
<rect x="414.75" y="60.26" width="4.5" height="5.6" fill="#dadaea"/>
<rect x="414.75" y="107.65" width="4.5" height="5.6" fill="#ecebee"/>
<rect x="414.75" y="66.98" width="4.5" height="5.6" fill="#9494c6"/>
<rect x="414.75" y="114.4" width="4.5" height="5.6" fill="#6464ab"/>
<rect x="414.75" y="73.7" width="4.5" height="5.6" fill="#dadaea"/>
<rect x="414.75" y="121.15" width="4.5" height="5.6" fill="#6464ab"/>
<rect x="414.75" y="154.8" width="4.5" height="5.6" fill="#3ab073"/>
<rect x="414.75" y="168.3" width="4.5" height="5.6" fill="#d2d2d2"/>
<rect x="414.75" y="175" width="4.5" height="5.6" fill="#858585"/>
<rect x="414.75" y="181.7" width="4.5" height="5.6" fill="#d2d2d2"/>
<rect x="420.3" y="13" width="4.5" height="5.6" fill="#e8222c"/>
<rect x="420.3" y="19.8" width="4.5" height="5.6" fill="#000"/>
<rect x="420.3" y="26.4" width="4.5" height="5.6" fill="#a3191b"/>
<rect x="420.3" y="40.1" width="4.5" height="5.6" fill="#9494c6"/>
<rect x="420.3" y="87.4" width="4.5" height="5.6" fill="#6464ab"/>
<rect x="420.3" y="46.82" width="4.5" height="5.6" fill="#bdbddb"/>
<rect x="420.3" y="94.15" width="4.5" height="5.6" fill="#9494c6"/>
<rect x="420.3" y="53.54" width="4.5" height="5.6" fill="#2a2a82"/>
<rect x="420.3" y="100.9" width="4.5" height="5.6" fill="#ecebee"/>
<rect x="420.3" y="60.26" width="4.5" height="5.6" fill="#ecebee"/>
<rect x="420.3" y="107.65" width="4.5" height="5.6" fill="#ecebee"/>
<rect x="420.3" y="66.98" width="4.5" height="5.6" fill="#6464ab"/>
<rect x="420.3" y="114.4" width="4.5" height="5.6" fill="#ecebee"/>
<rect x="420.3" y="73.7" width="4.5" height="5.6" fill="#ecebee"/>
<rect x="420.3" y="121.15" width="4.5" height="5.6" fill="#ecebee"/>
<rect x="420.3" y="168.3" width="4.5" height="5.6" fill="#adadad"/>
<rect x="420.3" y="175" width="4.5" height="5.6" fill="#d2d2d2"/>
<rect x="420.3" y="181.7" width="4.5" height="5.6" fill="#d2d2d2"/>
<rect x="425.85" y="13" width="4.5" height="5.6" fill="#e8222c"/>
<rect x="425.85" y="19.8" width="4.5" height="5.6" fill="#000"/>
<rect x="425.85" y="26.4" width="4.5" height="5.6" fill="#a3191b"/>
<rect x="425.85" y="40.1" width="4.5" height="5.6" fill="#6464ab"/>
<rect x="425.85" y="87.4" width="4.5" height="5.6" fill="#9494c6"/>
<rect x="425.85" y="46.82" width="4.5" height="5.6" fill="#9494c6"/>
<rect x="425.85" y="94.15" width="4.5" height="5.6" fill="#2a2a82"/>
<rect x="425.85" y="53.54" width="4.5" height="5.6" fill="#dadaea"/>
<rect x="425.85" y="100.9" width="4.5" height="5.6" fill="#ecebee"/>
<rect x="425.85" y="60.26" width="4.5" height="5.6" fill="#ecebee"/>
<rect x="425.85" y="107.65" width="4.5" height="5.6" fill="#ecebee"/>
<rect x="425.85" y="66.98" width="4.5" height="5.6" fill="#dadaea"/>
<rect x="425.85" y="114.4" width="4.5" height="5.6" fill="#ecebee"/>
<rect x="425.85" y="73.7" width="4.5" height="5.6" fill="#ecebee"/>
<rect x="425.85" y="121.15" width="4.5" height="5.6" fill="#ecebee"/>
<rect x="425.85" y="148.2" width="4.5" height="5.6" fill="#3ab073"/>
<rect x="425.85" y="154.8" width="4.5" height="5.6" fill="#3ab073"/>
<rect x="425.85" y="168.3" width="4.5" height="5.6" fill="#585858"/>
<rect x="425.85" y="175" width="4.5" height="5.6" fill="#585858"/>
<rect x="425.85" y="181.7" width="4.5" height="5.6" fill="#d2d2d2"/>
<rect x="431.4" y="13" width="4.5" height="5.6" fill="#e8222c"/>
<rect x="431.75" y="20.15" width="3.8" height="4.8999999999999995" fill="#fff" stroke="#8a8a8a" stroke-width="0.7"/>
<rect x="431.4" y="26.4" width="4.5" height="5.6" fill="#a3191b"/>
<rect x="431.4" y="40.1" width="4.5" height="5.6" fill="#bdbddb"/>
<rect x="431.4" y="87.4" width="4.5" height="5.6" fill="#9494c6"/>
<rect x="431.4" y="46.82" width="4.5" height="5.6" fill="#ecebee"/>
<rect x="431.4" y="94.15" width="4.5" height="5.6" fill="#ecebee"/>
<rect x="431.4" y="53.54" width="4.5" height="5.6" fill="#ecebee"/>
<rect x="431.4" y="100.9" width="4.5" height="5.6" fill="#ecebee"/>
<rect x="431.4" y="60.26" width="4.5" height="5.6" fill="#dadaea"/>
<rect x="431.4" y="107.65" width="4.5" height="5.6" fill="#ecebee"/>
<rect x="431.4" y="66.98" width="4.5" height="5.6" fill="#2a2a82"/>
<rect x="431.4" y="114.4" width="4.5" height="5.6" fill="#ecebee"/>
<rect x="431.4" y="73.7" width="4.5" height="5.6" fill="#ecebee"/>
<rect x="431.4" y="121.15" width="4.5" height="5.6" fill="#ecebee"/>
<rect x="431.4" y="154.8" width="4.5" height="5.6" fill="#3ab073"/>
<rect x="431.4" y="168.3" width="4.5" height="5.6" fill="#1e1e1e"/>
<rect x="431.4" y="175" width="4.5" height="5.6" fill="#585858"/>
<rect x="431.4" y="181.7" width="4.5" height="5.6" fill="#adadad"/>
<text x="4.5" y="10" font-size="10.76" font-weight="bold" fill="#231f20">A</text>
<text x="70.8" y="9.9" font-size="7.48" stroke="#231f20" stroke-width="0.18" fill="#231f20">CLL</text>
<text x="193" y="9.9" font-size="7.48" stroke="#231f20" stroke-width="0.18" fill="#231f20">CLL/RS</text>
<text x="298.8" y="9.9" font-size="7.48" stroke="#231f20" stroke-width="0.18" fill="#231f20">RS</text>
<text x="68" y="18.3" font-size="7.48" text-anchor="end" stroke="#231f20" stroke-width="0.18" fill="#231f20">Pattern</text>
<text x="68" y="25.1" font-size="7.48" text-anchor="end" stroke="#231f20" stroke-width="0.18" fill="#231f20">Recipient strain</text>
<text x="68" y="31.8" font-size="7.48" text-anchor="end" stroke="#231f20" stroke-width="0.18" fill="#231f20">Number of LOFs</text>
<text x="68" y="45.3" font-size="7.48" text-anchor="end" stroke="#231f20" stroke-width="0.18" font-style="italic" fill="#231f20">Trp53</text>
<text x="68" y="92.6" font-size="7.48" text-anchor="end" stroke="#231f20" stroke-width="0.18" font-style="italic" fill="#231f20">Trp53</text>
<text x="68" y="52.02" font-size="7.48" text-anchor="end" stroke="#231f20" stroke-width="0.18" font-style="italic" fill="#231f20">Mga</text>
<text x="68" y="99.35" font-size="7.48" text-anchor="end" stroke="#231f20" stroke-width="0.18" font-style="italic" fill="#231f20">Mga</text>
<text x="68" y="58.74" font-size="7.48" text-anchor="end" stroke="#231f20" stroke-width="0.18" font-style="italic" fill="#231f20">Chd2</text>
<text x="68" y="106.1" font-size="7.48" text-anchor="end" stroke="#231f20" stroke-width="0.18" font-style="italic" fill="#231f20">Chd2</text>
<text x="68" y="65.46" font-size="7.48" text-anchor="end" stroke="#231f20" stroke-width="0.18" font-style="italic" fill="#231f20">Atm</text>
<text x="68" y="112.85" font-size="7.48" text-anchor="end" stroke="#231f20" stroke-width="0.18" font-style="italic" fill="#231f20">Atm</text>
<text x="68" y="72.18" font-size="7.48" text-anchor="end" stroke="#231f20" stroke-width="0.18" font-style="italic" fill="#231f20">Samhd1</text>
<text x="68" y="119.6" font-size="7.48" text-anchor="end" stroke="#231f20" stroke-width="0.18" font-style="italic" fill="#231f20">Samhd1</text>
<text x="68" y="78.9" font-size="7.48" text-anchor="end" stroke="#231f20" stroke-width="0.18" font-style="italic" fill="#231f20">Birc3</text>
<text x="68" y="126.35" font-size="7.48" text-anchor="end" stroke="#231f20" stroke-width="0.18" font-style="italic" fill="#231f20">Birc3</text>
<path d="M41 39.6 H37 V80.4 H41" fill="none" stroke="#555" stroke-width="0.8"/>
<path d="M41 86.5 H37 V126.8 H41" fill="none" stroke="#555" stroke-width="0.8"/>
<text transform="translate(32.8 60) rotate(-90)" font-size="7.5" text-anchor="middle" fill="#231f20" stroke="#231f20" stroke-width="0.18">Preleukemia</text>
<text transform="translate(32.8 107) rotate(-90)" font-size="7.5" text-anchor="middle" fill="#231f20" stroke="#231f20" stroke-width="0.18">Euthanasia</text>
<text x="68" y="140.2" font-size="7.48" text-anchor="end" stroke="#231f20" stroke-width="0.18" fill="#231f20">Long. CRISPR-seq</text>
<text x="68" y="146.6" font-size="7.48" text-anchor="end" stroke="#231f20" stroke-width="0.18" fill="#231f20">Single-cell DNA-seq</text>
<text x="68" y="153.1" font-size="7.48" text-anchor="end" stroke="#231f20" stroke-width="0.18" fill="#231f20">WGS</text>
<text x="68" y="159.8" font-size="7.48" text-anchor="end" stroke="#231f20" stroke-width="0.18" fill="#231f20">IGHV</text>
<text x="68" y="173.6" font-size="7.48" text-anchor="end" stroke="#231f20" stroke-width="0.18" fill="#231f20">Spleen</text>
<text x="68" y="180.3" font-size="7.48" text-anchor="end" stroke="#231f20" stroke-width="0.18" fill="#231f20">Blood</text>
<text x="68" y="187.7" font-size="7.48" text-anchor="end" stroke="#231f20" stroke-width="0.18" fill="#231f20">Bone marrow</text>
<text x="68" y="196" font-size="7.48" text-anchor="end" stroke="#231f20" stroke-width="0.18" fill="#231f20">Number of mice:</text>
<text x="128.3" y="196" font-size="7.48" text-anchor="middle" stroke="#231f20" stroke-width="0.18" fill="#231f20">21</text>
<text x="242.3" y="196" font-size="7.48" text-anchor="middle" stroke="#231f20" stroke-width="0.18" fill="#231f20">18</text>
<text x="367" y="196" font-size="7.48" text-anchor="middle" stroke="#231f20" stroke-width="0.18" fill="#231f20">25</text>
<rect x="446" y="16.2" width="5.6" height="5" fill="#000"/>
<text x="453.3" y="21.3" font-size="7.48" stroke="#231f20" stroke-width="0.18" fill="#231f20">CD45.1</text>
<rect x="446.4" y="23.8" width="4.8" height="4.4" fill="#fff" stroke="#555" stroke-width="0.8"/>
<text x="453.3" y="28.4" font-size="7.48" stroke="#231f20" stroke-width="0.18" fill="#231f20">NSG</text>
<rect x="482.3" y="16.2" width="5.6" height="5" fill="#f2898a" stroke="#777" stroke-width="0.5"/>
<text x="489.6" y="21.3" font-size="7.48" stroke="#231f20" stroke-width="0.18" fill="#231f20">5 LOFs</text>
<rect x="482.3" y="23.6" width="5.6" height="5" fill="#a3191b"/>
<text x="489.6" y="28.4" font-size="7.48" stroke="#231f20" stroke-width="0.18" fill="#231f20">6 LOFs</text>
<text x="444" y="45.3" font-size="7.48" stroke="#231f20" stroke-width="0.18" fill="#231f20">% Indels</text>
<rect x="445.6" y="50.3" width="6.8" height="4.7" fill="#2a2a82"/>
<text x="453.5" y="55" font-size="7.48" stroke="#231f20" stroke-width="0.18" fill="#231f20">100%</text>
<rect x="445.6" y="56.5" width="6.8" height="4.7" fill="#9494c6"/>
<text x="453.5" y="61.2" font-size="7.48" stroke="#231f20" stroke-width="0.18" fill="#231f20">50%</text>
<rect x="481.8" y="50.6" width="5" height="4" fill="#fff" stroke="#444" stroke-width="0.7"/>
<text x="492" y="55" font-size="7.48" stroke="#231f20" stroke-width="0.18" fill="#231f20">0.1%</text>
<rect x="481.8" y="56.8" width="5" height="4" fill="#fff" stroke="#444" stroke-width="0.7"/>
<text x="487.8" y="61.2" font-size="7.48" stroke="#231f20" stroke-width="0.18" fill="#231f20">&lt;0.1%</text>
<text x="444.8" y="81.2" font-size="7.48" text-anchor="middle" stroke="#231f20" stroke-width="0.18" fill="#231f20">0</text>
<text x="472.2" y="81.2" font-size="7.48" text-anchor="middle" stroke="#231f20" stroke-width="0.18" fill="#231f20">25</text>
<text x="499.5" y="81.2" font-size="7.48" text-anchor="middle" stroke="#231f20" stroke-width="0.18" fill="#231f20">50</text>
<path d="M444.8 84.5 H499.5 M444.8 83 V84.5 M472.2 83 V84.5 M499.5 83 V84.5" stroke="#333" stroke-width="0.7" fill="none"/>
<rect x="444.8" y="88.1" width="7.34" height="4.6" fill="#2f57a8"/>
<rect x="452.74" y="88.1" width="10.74" height="4.6" fill="#4b2b92"/>
<rect x="464.08" y="88.1" width="35.4" height="4.6" fill="#e52a2e"/>
<rect x="444.8" y="94.85" width="2.41" height="4.6" fill="#2f57a8"/>
<rect x="447.81" y="94.85" width="13.81" height="4.6" fill="#4b2b92"/>
<rect x="462.22" y="94.85" width="14.25" height="4.6" fill="#e52a2e"/>
<rect x="444.8" y="101.6" width="2.41" height="4.6" fill="#2f57a8"/>
<rect x="447.81" y="101.6" width="8.66" height="4.6" fill="#4b2b92"/>
<rect x="457.07" y="101.6" width="12.38" height="4.6" fill="#e52a2e"/>
<rect x="444.8" y="108.35" width="6.14" height="4.6" fill="#2f57a8"/>
<rect x="451.54" y="108.35" width="3.51" height="4.6" fill="#4b2b92"/>
<rect x="455.64" y="108.35" width="5.92" height="4.6" fill="#e52a2e"/>
<rect x="444.8" y="115.1" width="1.32" height="4.6" fill="#2f57a8"/>
<rect x="446.72" y="115.1" width="3.51" height="4.6" fill="#4b2b92"/>
<rect x="450.82" y="115.1" width="7.34" height="4.6" fill="#e52a2e"/>
<rect x="444.8" y="121.85" width="1.32" height="4.6" fill="#2f57a8"/>
<rect x="446.72" y="121.85" width="3.51" height="4.6" fill="#4b2b92"/>
<rect x="450.82" y="121.85" width="6.47" height="4.6" fill="#e52a2e"/>
<text x="494.6" y="110.3" font-size="7.28" text-anchor="middle" stroke="#231f20" stroke-width="0.18" fill="#231f20">% With clonal</text>
<text x="494.6" y="117.6" font-size="7.28" text-anchor="middle" stroke="#231f20" stroke-width="0.18" fill="#231f20">mutations</text>
<rect x="445" y="146.6" width="6.5" height="5" fill="#3ab073" stroke="#2a7a50" stroke-width="0.5"/>
<text x="453.3" y="152.2" font-size="7.48" stroke="#231f20" stroke-width="0.18" fill="#231f20">Available</text>
<rect x="445.4" y="153.4" width="5.8" height="4.6" fill="#fff" stroke="#555" stroke-width="0.8"/>
<text x="453.3" y="158.9" font-size="7.48" stroke="#231f20" stroke-width="0.18" fill="#231f20">N/A</text>
<rect x="445" y="165.8" width="6.5" height="5" fill="#111"/>
<text x="453.3" y="171" font-size="7.48" stroke="#231f20" stroke-width="0.18" fill="#231f20">100%</text>
<rect x="445" y="172.2" width="6.5" height="5" fill="#777"/>
<text x="453.3" y="177.5" font-size="7.48" stroke="#231f20" stroke-width="0.18" fill="#231f20">50%</text>
<rect x="445.4" y="179" width="5.8" height="4.4" fill="#eee" stroke="#777" stroke-width="0.7"/>
<text x="453.3" y="183.9" font-size="7.48" stroke="#231f20" stroke-width="0.18" fill="#231f20">0%</text>
<text x="491.5" y="174" font-size="7.48" text-anchor="middle" stroke="#231f20" stroke-width="0.18" fill="#231f20">Tumor</text>
<text x="491.5" y="181.3" font-size="7.48" text-anchor="middle" stroke="#231f20" stroke-width="0.18" fill="#231f20">burden</text>
<text x="4.8" y="217.6" font-size="10.76" font-weight="bold" fill="#231f20">B</text>
<text x="53" y="229.6" font-size="7.48" text-anchor="middle" stroke="#231f20" stroke-width="0.18" fill="#231f20">Clonal LOF</text>
<text x="53" y="236.7" font-size="7.48" text-anchor="middle" stroke="#231f20" stroke-width="0.18" fill="#231f20">drivers</text>
<line x1="40.4" y1="239.4" x2="64.9" y2="239.4" stroke="#333" stroke-width="0.8"/>
<line x1="28.2" y1="247.1" x2="28.2" y2="287.6" stroke="#333" stroke-width="0.8"/>
<line x1="28.2" y1="292.3" x2="28.2" y2="339.5" stroke="#333" stroke-width="0.8"/>
<line x1="25.6" y1="287.6" x2="29.6" y2="287.6" stroke="#333" stroke-width="0.8"/>
<line x1="25.6" y1="292.3" x2="29.6" y2="292.3" stroke="#333" stroke-width="0.8"/>
<line x1="26.4" y1="247.1" x2="28.2" y2="247.1" stroke="#333" stroke-width="0.8"/>
<text x="23.3" y="249.6" font-size="7.48" text-anchor="end" stroke="#231f20" stroke-width="0.18" fill="#231f20">30</text>
<line x1="26.4" y1="255.15" x2="28.2" y2="255.15" stroke="#333" stroke-width="0.8"/>
<text x="23.3" y="257.65" font-size="7.48" text-anchor="end" stroke="#231f20" stroke-width="0.18" fill="#231f20">25</text>
<line x1="26.4" y1="263.2" x2="28.2" y2="263.2" stroke="#333" stroke-width="0.8"/>
<text x="23.3" y="265.7" font-size="7.48" text-anchor="end" stroke="#231f20" stroke-width="0.18" fill="#231f20">20</text>
<line x1="26.4" y1="271.25" x2="28.2" y2="271.25" stroke="#333" stroke-width="0.8"/>
<text x="23.3" y="273.75" font-size="7.48" text-anchor="end" stroke="#231f20" stroke-width="0.18" fill="#231f20">15</text>
<line x1="26.4" y1="279.3" x2="28.2" y2="279.3" stroke="#333" stroke-width="0.8"/>
<text x="23.3" y="281.8" font-size="7.48" text-anchor="end" stroke="#231f20" stroke-width="0.18" fill="#231f20">10</text>
<line x1="26.4" y1="339.5" x2="28.2" y2="339.5" stroke="#333" stroke-width="0.8"/>
<text x="23.3" y="342" font-size="7.48" text-anchor="end" stroke="#231f20" stroke-width="0.18" fill="#231f20">0</text>
<line x1="26.4" y1="320.36" x2="28.2" y2="320.36" stroke="#333" stroke-width="0.8"/>
<text x="23.3" y="322.86" font-size="7.48" text-anchor="end" stroke="#231f20" stroke-width="0.18" fill="#231f20">2</text>
<line x1="26.4" y1="301.22" x2="28.2" y2="301.22" stroke="#333" stroke-width="0.8"/>
<text x="23.3" y="303.72" font-size="7.48" text-anchor="end" stroke="#231f20" stroke-width="0.18" fill="#231f20">4</text>
<text transform="translate(7.8 293) rotate(-90)" font-size="7.48" text-anchor="middle" stroke="#231f20" stroke-width="0.18" fill="#231f20">Number of events</text>
<rect x="50.2" y="320.36" width="9" height="19.14" fill="#2c2a80"/>
<rect x="64.1" y="320.36" width="9" height="19.14" fill="#e5262b"/>
<line x1="28.2" y1="339.5" x2="79.5" y2="339.5" stroke="#333" stroke-width="0.8"/>
<circle cx="40.1" cy="310.79" r="1.7" fill="#fff" stroke="#333" stroke-width="0.6"/>
<circle cx="41.9" cy="310.79" r="1.7" fill="#fff" stroke="#333" stroke-width="0.6"/>
<circle cx="41" cy="320.36" r="1.7" fill="#fff" stroke="#333" stroke-width="0.6"/>
<circle cx="41" cy="329.93" r="1.7" fill="#fff" stroke="#333" stroke-width="0.6"/>
<circle cx="38" cy="339.5" r="1.7" fill="#fff" stroke="#333" stroke-width="0.6"/>
<circle cx="39.5" cy="339.5" r="1.7" fill="#fff" stroke="#333" stroke-width="0.6"/>
<circle cx="41" cy="339.5" r="1.7" fill="#fff" stroke="#333" stroke-width="0.6"/>
<circle cx="42.5" cy="339.5" r="1.7" fill="#fff" stroke="#333" stroke-width="0.6"/>
<circle cx="44" cy="339.5" r="1.7" fill="#fff" stroke="#333" stroke-width="0.6"/>
<circle cx="54.8" cy="291.65" r="1.7" fill="#fff" stroke="#333" stroke-width="0.6"/>
<circle cx="54.8" cy="301.22" r="1.7" fill="#fff" stroke="#333" stroke-width="0.6"/>
<circle cx="51.8" cy="320.36" r="1.7" fill="#fff" stroke="#333" stroke-width="0.6"/>
<circle cx="53.3" cy="320.36" r="1.7" fill="#fff" stroke="#333" stroke-width="0.6"/>
<circle cx="54.8" cy="320.36" r="1.7" fill="#fff" stroke="#333" stroke-width="0.6"/>
<circle cx="56.3" cy="320.36" r="1.7" fill="#fff" stroke="#333" stroke-width="0.6"/>
<circle cx="57.8" cy="320.36" r="1.7" fill="#fff" stroke="#333" stroke-width="0.6"/>
<circle cx="53.6" cy="329.93" r="1.7" fill="#fff" stroke="#333" stroke-width="0.6"/>
<circle cx="56" cy="329.93" r="1.7" fill="#fff" stroke="#333" stroke-width="0.6"/>
<circle cx="54.8" cy="339.5" r="1.7" fill="#fff" stroke="#333" stroke-width="0.6"/>
<circle cx="68.5" cy="301.22" r="1.7" fill="#fff" stroke="#333" stroke-width="0.6"/>
<circle cx="66" cy="310.79" r="1.7" fill="#fff" stroke="#333" stroke-width="0.6"/>
<circle cx="67.3" cy="310.79" r="1.7" fill="#fff" stroke="#333" stroke-width="0.6"/>
<circle cx="68.5" cy="310.79" r="1.7" fill="#fff" stroke="#333" stroke-width="0.6"/>
<circle cx="69.7" cy="310.79" r="1.7" fill="#fff" stroke="#333" stroke-width="0.6"/>
<circle cx="71" cy="310.79" r="1.7" fill="#fff" stroke="#333" stroke-width="0.6"/>
<circle cx="65.5" cy="320.36" r="1.7" fill="#fff" stroke="#333" stroke-width="0.6"/>
<circle cx="67" cy="320.36" r="1.7" fill="#fff" stroke="#333" stroke-width="0.6"/>
<circle cx="68.5" cy="320.36" r="1.7" fill="#fff" stroke="#333" stroke-width="0.6"/>
<circle cx="70" cy="320.36" r="1.7" fill="#fff" stroke="#333" stroke-width="0.6"/>
<circle cx="71.5" cy="320.36" r="1.7" fill="#fff" stroke="#333" stroke-width="0.6"/>
<circle cx="66.5" cy="329.93" r="1.7" fill="#fff" stroke="#333" stroke-width="0.6"/>
<circle cx="67.8" cy="329.93" r="1.7" fill="#fff" stroke="#333" stroke-width="0.6"/>
<circle cx="69.2" cy="329.93" r="1.7" fill="#fff" stroke="#333" stroke-width="0.6"/>
<circle cx="70.5" cy="329.93" r="1.7" fill="#fff" stroke="#333" stroke-width="0.6"/>
<circle cx="68.5" cy="339.5" r="1.7" fill="#fff" stroke="#333" stroke-width="0.6"/>
<line x1="40.6" y1="340.4" x2="37.1" y2="347.3" stroke="#333" stroke-width="0.8"/>
<line x1="55.2" y1="340.4" x2="53.5" y2="342.7" stroke="#333" stroke-width="0.8"/>
<line x1="68.3" y1="340.4" x2="72.9" y2="347.3" stroke="#333" stroke-width="0.8"/>
<text x="34.6" y="354.9" font-size="7.48" text-anchor="middle" stroke="#231f20" stroke-width="0.18" fill="#231f20">CLL</text>
<text x="55" y="350.6" font-size="7.48" text-anchor="middle" stroke="#231f20" stroke-width="0.18" fill="#231f20">CLL/</text>
<text x="54.2" y="357.8" font-size="7.48" text-anchor="middle" stroke="#231f20" stroke-width="0.18" fill="#231f20">RS</text>
<text x="76" y="355.5" font-size="7.48" text-anchor="middle" stroke="#231f20" stroke-width="0.18" fill="#231f20">RS</text>
<text x="57" y="263.6" font-size="7.48" text-anchor="middle" stroke="#231f20" stroke-width="0.18" font-style="italic" fill="#231f20"><tspan font-style="italic">P</tspan> = 0.0025</text>
<path d="M40.6 270.3 V265.6 H69.1 V270.3" stroke="#6a6a6a" stroke-width="0.7" fill="none"/>
<text x="59.2" y="275.2" font-size="7.48" text-anchor="middle" stroke="#231f20" stroke-width="0.18" font-style="italic" fill="#231f20">=0.06</text>
<path d="M55.7 281.6 V279.3 H68.6 V281.6" stroke="#6a6a6a" stroke-width="0.7" fill="none"/>
<text x="96.5" y="217.6" font-size="10.76" font-weight="bold" fill="#231f20">C</text>
<text x="138.4" y="228.6" font-size="7.48" text-anchor="middle" stroke="#231f20" stroke-width="0.18" font-style="italic" fill="#231f20">Trp53</text>
<text x="191.2" y="216.4" font-size="7.48" text-anchor="middle" stroke="#231f20" stroke-width="0.18" font-style="italic" fill="#231f20">Mga</text>
<text x="240.3" y="228.4" font-size="7.48" text-anchor="middle" stroke="#231f20" stroke-width="0.18" font-style="italic" fill="#231f20">Chd2</text>
<text x="192.2" y="228.4" font-size="7.48" text-anchor="middle" stroke="#231f20" stroke-width="0.18" font-style="italic" fill="#231f20"><tspan font-style="italic">P</tspan> = 0.01</text>
<path d="M180 233 V230.4 H203.8 V233" stroke="#6a6a6a" stroke-width="0.7" fill="none"/>
<text x="187" y="240.8" font-size="7.48" text-anchor="middle" stroke="#231f20" stroke-width="0.18" font-style="italic" fill="#231f20">=0.006</text>
<path d="M180 245.6 V243 H193.4 V245.6" stroke="#6a6a6a" stroke-width="0.7" fill="none"/>
<text x="243.6" y="240.8" font-size="7.48" text-anchor="middle" stroke="#231f20" stroke-width="0.18" font-style="italic" fill="#231f20">=0.05</text>
<path d="M231.9 245.6 V243 H255.6 V245.6" stroke="#6a6a6a" stroke-width="0.7" fill="none"/>
<line x1="120.6" y1="250" x2="120.6" y2="289.5" stroke="#333" stroke-width="0.8"/>
<line x1="118.6" y1="289.5" x2="120.6" y2="289.5" stroke="#333" stroke-width="0.8"/>
<line x1="118.6" y1="269.75" x2="120.6" y2="269.75" stroke="#333" stroke-width="0.8"/>
<line x1="118.6" y1="250" x2="120.6" y2="250" stroke="#333" stroke-width="0.8"/>
<line x1="122.8" y1="289.5" x2="157.4" y2="289.5" stroke="#333" stroke-width="0.8"/>
<line x1="129.65" y1="289.5" x2="129.65" y2="291" stroke="#333" stroke-width="0.8"/>
<rect x="126" y="250" width="7.3" height="20.14" fill="#cacaca" stroke="#3a3a3a" stroke-width="0.7"/>
<rect x="126" y="270.14" width="7.3" height="19.36" fill="#f08a24" stroke="#3a3a3a" stroke-width="0.7"/>
<line x1="140.25" y1="289.5" x2="140.25" y2="291" stroke="#333" stroke-width="0.8"/>
<rect x="136.5" y="250" width="7.5" height="11.85" fill="#cacaca" stroke="#3a3a3a" stroke-width="0.7"/>
<rect x="136.5" y="261.85" width="7.5" height="27.65" fill="#f08a24" stroke="#3a3a3a" stroke-width="0.7"/>
<line x1="151.15" y1="289.5" x2="151.15" y2="291" stroke="#333" stroke-width="0.8"/>
<rect x="147.4" y="250" width="7.5" height="5.93" fill="#cacaca" stroke="#3a3a3a" stroke-width="0.7"/>
<rect x="147.4" y="255.93" width="7.5" height="33.57" fill="#f08a24" stroke="#3a3a3a" stroke-width="0.7"/>
<line x1="120.6" y1="301.1" x2="120.6" y2="354.1" stroke="#333" stroke-width="0.8"/>
<line x1="118.6" y1="354.1" x2="120.6" y2="354.1" stroke="#333" stroke-width="0.8"/>
<line x1="118.6" y1="327.6" x2="120.6" y2="327.6" stroke="#333" stroke-width="0.8"/>
<line x1="118.6" y1="301.1" x2="120.6" y2="301.1" stroke="#333" stroke-width="0.8"/>
<line x1="122.8" y1="354.1" x2="157.4" y2="354.1" stroke="#333" stroke-width="0.8"/>
<line x1="129" y1="354.1" x2="129" y2="355.9" stroke="#333" stroke-width="0.8"/>
<line x1="140.8" y1="354.1" x2="140.8" y2="355.9" stroke="#333" stroke-width="0.8"/>
<line x1="154.6" y1="354.1" x2="154.6" y2="355.9" stroke="#333" stroke-width="0.8"/>
<line x1="171" y1="250" x2="171" y2="289.5" stroke="#333" stroke-width="0.8"/>
<line x1="169" y1="289.5" x2="171" y2="289.5" stroke="#333" stroke-width="0.8"/>
<line x1="169" y1="269.75" x2="171" y2="269.75" stroke="#333" stroke-width="0.8"/>
<line x1="169" y1="250" x2="171" y2="250" stroke="#333" stroke-width="0.8"/>
<line x1="173.2" y1="289.5" x2="210.1" y2="289.5" stroke="#333" stroke-width="0.8"/>
<line x1="181.15" y1="289.5" x2="181.15" y2="291" stroke="#333" stroke-width="0.8"/>
<rect x="177.3" y="250" width="7.7" height="35.55" fill="#cacaca" stroke="#3a3a3a" stroke-width="0.7"/>
<rect x="177.3" y="285.55" width="7.7" height="3.95" fill="#f08a24" stroke="#3a3a3a" stroke-width="0.7"/>
<line x1="192.25" y1="289.5" x2="192.25" y2="291" stroke="#333" stroke-width="0.8"/>
<rect x="188.5" y="250" width="7.5" height="16.99" fill="#cacaca" stroke="#3a3a3a" stroke-width="0.7"/>
<rect x="188.5" y="266.99" width="7.5" height="22.51" fill="#f08a24" stroke="#3a3a3a" stroke-width="0.7"/>
<line x1="203.65" y1="289.5" x2="203.65" y2="291" stroke="#333" stroke-width="0.8"/>
<rect x="199.7" y="250" width="7.9" height="18.17" fill="#cacaca" stroke="#3a3a3a" stroke-width="0.7"/>
<rect x="199.7" y="268.17" width="7.9" height="21.33" fill="#f08a24" stroke="#3a3a3a" stroke-width="0.7"/>
<line x1="171" y1="301.1" x2="171" y2="354.1" stroke="#333" stroke-width="0.8"/>
<line x1="169" y1="354.1" x2="171" y2="354.1" stroke="#333" stroke-width="0.8"/>
<line x1="169" y1="327.6" x2="171" y2="327.6" stroke="#333" stroke-width="0.8"/>
<line x1="169" y1="301.1" x2="171" y2="301.1" stroke="#333" stroke-width="0.8"/>
<line x1="173.2" y1="354.1" x2="210.1" y2="354.1" stroke="#333" stroke-width="0.8"/>
<line x1="179.2" y1="354.1" x2="179.2" y2="355.9" stroke="#333" stroke-width="0.8"/>
<line x1="192.4" y1="354.1" x2="192.4" y2="355.9" stroke="#333" stroke-width="0.8"/>
<line x1="205.4" y1="354.1" x2="205.4" y2="355.9" stroke="#333" stroke-width="0.8"/>
<line x1="222" y1="250" x2="222" y2="289.5" stroke="#333" stroke-width="0.8"/>
<line x1="220" y1="289.5" x2="222" y2="289.5" stroke="#333" stroke-width="0.8"/>
<line x1="220" y1="269.75" x2="222" y2="269.75" stroke="#333" stroke-width="0.8"/>
<line x1="220" y1="250" x2="222" y2="250" stroke="#333" stroke-width="0.8"/>
<line x1="224.2" y1="289.5" x2="261.5" y2="289.5" stroke="#333" stroke-width="0.8"/>
<line x1="233.5" y1="289.5" x2="233.5" y2="291" stroke="#333" stroke-width="0.8"/>
<rect x="229.8" y="250" width="7.4" height="35.55" fill="#cacaca" stroke="#3a3a3a" stroke-width="0.7"/>
<rect x="229.8" y="285.55" width="7.4" height="3.95" fill="#f08a24" stroke="#3a3a3a" stroke-width="0.7"/>
<line x1="244.7" y1="289.5" x2="244.7" y2="291" stroke="#333" stroke-width="0.8"/>
<rect x="241" y="250" width="7.4" height="24.49" fill="#cacaca" stroke="#3a3a3a" stroke-width="0.7"/>
<rect x="241" y="274.49" width="7.4" height="15.01" fill="#f08a24" stroke="#3a3a3a" stroke-width="0.7"/>
<line x1="255.25" y1="289.5" x2="255.25" y2="291" stroke="#333" stroke-width="0.8"/>
<rect x="251.5" y="250" width="7.5" height="22.12" fill="#cacaca" stroke="#3a3a3a" stroke-width="0.7"/>
<rect x="251.5" y="272.12" width="7.5" height="17.38" fill="#f08a24" stroke="#3a3a3a" stroke-width="0.7"/>
<line x1="222" y1="301.1" x2="222" y2="354.1" stroke="#333" stroke-width="0.8"/>
<line x1="220" y1="354.1" x2="222" y2="354.1" stroke="#333" stroke-width="0.8"/>
<line x1="220" y1="327.6" x2="222" y2="327.6" stroke="#333" stroke-width="0.8"/>
<line x1="220" y1="301.1" x2="222" y2="301.1" stroke="#333" stroke-width="0.8"/>
<line x1="224.2" y1="354.1" x2="261.5" y2="354.1" stroke="#333" stroke-width="0.8"/>
<line x1="230.2" y1="354.1" x2="230.2" y2="355.9" stroke="#333" stroke-width="0.8"/>
<line x1="242.9" y1="354.1" x2="242.9" y2="355.9" stroke="#333" stroke-width="0.8"/>
<line x1="256.2" y1="354.1" x2="256.2" y2="355.9" stroke="#333" stroke-width="0.8"/>
<text x="116.6" y="292" font-size="7.48" text-anchor="end" stroke="#231f20" stroke-width="0.18" fill="#231f20">0</text>
<text x="116.6" y="356.6" font-size="7.48" text-anchor="end" stroke="#231f20" stroke-width="0.18" fill="#231f20">0</text>
<text x="116.6" y="272.25" font-size="7.48" text-anchor="end" stroke="#231f20" stroke-width="0.18" fill="#231f20">50</text>
<text x="116.6" y="330.1" font-size="7.48" text-anchor="end" stroke="#231f20" stroke-width="0.18" fill="#231f20">50</text>
<text x="116.6" y="252.5" font-size="7.48" text-anchor="end" stroke="#231f20" stroke-width="0.18" fill="#231f20">100</text>
<text x="116.6" y="303.6" font-size="7.48" text-anchor="end" stroke="#231f20" stroke-width="0.18" fill="#231f20">100</text>
<text transform="translate(102.6 269.6) rotate(-90)" font-size="7.48" text-anchor="middle" stroke="#231f20" stroke-width="0.18" fill="#231f20">% Total</text>
<text transform="translate(102.6 327.5) rotate(-90)" font-size="7.48" text-anchor="middle" stroke="#231f20" stroke-width="0.18" fill="#231f20">% Indels</text>
<circle cx="125.7" cy="301.9" r="0.85" fill="#3556b0"/>
<circle cx="129" cy="301.9" r="0.85" fill="#3556b0"/>
<circle cx="132.3" cy="301.9" r="0.85" fill="#3556b0"/>
<circle cx="129" cy="303.22" r="0.85" fill="#3556b0"/>
<circle cx="129" cy="304.81" r="0.85" fill="#3556b0"/>
<circle cx="129" cy="305.87" r="0.85" fill="#3556b0"/>
<circle cx="129" cy="310.11" r="0.85" fill="#3556b0"/>
<circle cx="129" cy="320.71" r="0.85" fill="#3556b0"/>
<circle cx="129" cy="326.54" r="0.85" fill="#3556b0"/>
<circle cx="129" cy="340.85" r="0.85" fill="#3556b0"/>
<circle cx="129" cy="350.92" r="0.85" fill="#3556b0"/>
<line x1="125.25" y1="307.99" x2="132.75" y2="307.99" stroke="#2a2a55" stroke-width="0.8"/>
<circle cx="138.3" cy="301.63" r="0.85" fill="#2a2478"/>
<circle cx="139.8" cy="301.63" r="0.85" fill="#2a2478"/>
<circle cx="141.3" cy="301.63" r="0.85" fill="#2a2478"/>
<circle cx="142.8" cy="301.63" r="0.85" fill="#2a2478"/>
<circle cx="144.3" cy="301.63" r="0.85" fill="#2a2478"/>
<circle cx="139.3" cy="303.75" r="0.85" fill="#2a2478"/>
<circle cx="142.3" cy="304.28" r="0.85" fill="#2a2478"/>
<circle cx="140.8" cy="306.93" r="0.85" fill="#2a2478"/>
<circle cx="140.8" cy="320.71" r="0.85" fill="#2a2478"/>
<circle cx="140.8" cy="329.19" r="0.85" fill="#2a2478"/>
<circle cx="140.8" cy="340.85" r="0.85" fill="#2a2478"/>
<line x1="137.3" y1="304.28" x2="144.3" y2="304.28" stroke="#2a2a55" stroke-width="0.8"/>
<circle cx="151.1" cy="301.37" r="0.85" fill="#e5262b"/>
<circle cx="152.1" cy="301.37" r="0.85" fill="#e5262b"/>
<circle cx="153.1" cy="301.37" r="0.85" fill="#e5262b"/>
<circle cx="154.1" cy="301.37" r="0.85" fill="#e5262b"/>
<circle cx="155.1" cy="301.37" r="0.85" fill="#e5262b"/>
<circle cx="156.1" cy="301.37" r="0.85" fill="#e5262b"/>
<circle cx="157.1" cy="301.37" r="0.85" fill="#e5262b"/>
<circle cx="158.1" cy="301.37" r="0.85" fill="#e5262b"/>
<circle cx="151.6" cy="301.9" r="0.85" fill="#e5262b"/>
<circle cx="157.6" cy="301.9" r="0.85" fill="#e5262b"/>
<circle cx="154.6" cy="304.28" r="0.85" fill="#e5262b"/>
<circle cx="154.6" cy="316.47" r="0.85" fill="#e5262b"/>
<circle cx="154.6" cy="320.71" r="0.85" fill="#e5262b"/>
<circle cx="154.6" cy="329.19" r="0.85" fill="#e5262b"/>
<circle cx="154.6" cy="332.9" r="0.85" fill="#e5262b"/>
<line x1="150.6" y1="301.1" x2="158.6" y2="301.1" stroke="#e5262b" stroke-width="0.8"/>
<circle cx="178.2" cy="301.1" r="0.85" fill="#3556b0"/>
<circle cx="180.2" cy="306.4" r="0.85" fill="#3556b0"/>
<circle cx="177.7" cy="309.58" r="0.85" fill="#3556b0"/>
<circle cx="180.2" cy="309.58" r="0.85" fill="#3556b0"/>
<circle cx="182.2" cy="309.05" r="0.85" fill="#3556b0"/>
<circle cx="178.2" cy="314.35" r="0.85" fill="#3556b0"/>
<circle cx="178.2" cy="319.65" r="0.85" fill="#3556b0"/>
<circle cx="179.2" cy="322.3" r="0.85" fill="#3556b0"/>
<circle cx="179.2" cy="324.42" r="0.85" fill="#3556b0"/>
<circle cx="177.2" cy="326.54" r="0.85" fill="#3556b0"/>
<circle cx="178.2" cy="327.07" r="0.85" fill="#3556b0"/>
<circle cx="180.2" cy="326.54" r="0.85" fill="#3556b0"/>
<circle cx="182.2" cy="326.54" r="0.85" fill="#3556b0"/>
<circle cx="178.7" cy="327.6" r="0.85" fill="#3556b0"/>
<circle cx="180.2" cy="339.79" r="0.85" fill="#3556b0"/>
<circle cx="180.2" cy="347.74" r="0.85" fill="#3556b0"/>
<circle cx="179.2" cy="349.86" r="0.85" fill="#3556b0"/>
<circle cx="179.2" cy="351.45" r="0.85" fill="#3556b0"/>
<line x1="175.7" y1="326.54" x2="182.7" y2="326.54" stroke="#2a2a55" stroke-width="0.8"/>
<circle cx="189.4" cy="301.1" r="0.85" fill="#2a2478"/>
<circle cx="190.9" cy="301.1" r="0.85" fill="#2a2478"/>
<circle cx="192.4" cy="301.63" r="0.85" fill="#2a2478"/>
<circle cx="193.9" cy="301.1" r="0.85" fill="#2a2478"/>
<circle cx="195.4" cy="301.1" r="0.85" fill="#2a2478"/>
<circle cx="191.6" cy="302.69" r="0.85" fill="#2a2478"/>
<circle cx="193.2" cy="302.69" r="0.85" fill="#2a2478"/>
<circle cx="192.4" cy="306.4" r="0.85" fill="#2a2478"/>
<circle cx="192.4" cy="319.65" r="0.85" fill="#2a2478"/>
<circle cx="192.4" cy="326.54" r="0.85" fill="#2a2478"/>
<circle cx="192.4" cy="343.5" r="0.85" fill="#2a2478"/>
<circle cx="191.4" cy="353.57" r="0.85" fill="#2a2478"/>
<circle cx="193.4" cy="353.57" r="0.85" fill="#2a2478"/>
<circle cx="194.9" cy="353.04" r="0.85" fill="#2a2478"/>
<line x1="188.65" y1="312.76" x2="196.15" y2="312.76" stroke="#2a2a55" stroke-width="0.8"/>
<circle cx="202.4" cy="301.1" r="0.85" fill="#e5262b"/>
<circle cx="203.9" cy="301.1" r="0.85" fill="#e5262b"/>
<circle cx="205.4" cy="301.1" r="0.85" fill="#e5262b"/>
<circle cx="206.9" cy="301.1" r="0.85" fill="#e5262b"/>
<circle cx="208.4" cy="301.1" r="0.85" fill="#e5262b"/>
<circle cx="205.4" cy="311.7" r="0.85" fill="#e5262b"/>
<circle cx="205.4" cy="319.65" r="0.85" fill="#e5262b"/>
<circle cx="205.4" cy="323.89" r="0.85" fill="#e5262b"/>
<circle cx="205.4" cy="329.19" r="0.85" fill="#e5262b"/>
<circle cx="205.4" cy="347.21" r="0.85" fill="#e5262b"/>
<circle cx="202.4" cy="354.1" r="0.85" fill="#e5262b"/>
<circle cx="203.9" cy="354.1" r="0.85" fill="#e5262b"/>
<circle cx="205.4" cy="354.1" r="0.85" fill="#e5262b"/>
<circle cx="206.9" cy="354.1" r="0.85" fill="#e5262b"/>
<circle cx="208.4" cy="354.1" r="0.85" fill="#e5262b"/>
<line x1="201.4" y1="327.6" x2="209.4" y2="327.6" stroke="#e5262b" stroke-width="0.8"/>
<circle cx="230.2" cy="301.63" r="0.85" fill="#3556b0"/>
<circle cx="230.2" cy="305.34" r="0.85" fill="#3556b0"/>
<circle cx="227.2" cy="311.7" r="0.85" fill="#3556b0"/>
<circle cx="230.2" cy="311.7" r="0.85" fill="#3556b0"/>
<circle cx="233.2" cy="312.76" r="0.85" fill="#3556b0"/>
<circle cx="230.2" cy="322.3" r="0.85" fill="#3556b0"/>
<circle cx="229.2" cy="326.54" r="0.85" fill="#3556b0"/>
<circle cx="229.2" cy="328.66" r="0.85" fill="#3556b0"/>
<circle cx="230.2" cy="329.72" r="0.85" fill="#3556b0"/>
<circle cx="230.2" cy="330.78" r="0.85" fill="#3556b0"/>
<circle cx="229.2" cy="337.14" r="0.85" fill="#3556b0"/>
<circle cx="229.2" cy="339.79" r="0.85" fill="#3556b0"/>
<circle cx="231.2" cy="339.79" r="0.85" fill="#3556b0"/>
<circle cx="230.2" cy="344.56" r="0.85" fill="#3556b0"/>
<circle cx="229.2" cy="350.39" r="0.85" fill="#3556b0"/>
<circle cx="231.7" cy="350.39" r="0.85" fill="#3556b0"/>
<circle cx="230.2" cy="351.98" r="0.85" fill="#3556b0"/>
<circle cx="228.2" cy="354.1" r="0.85" fill="#3556b0"/>
<circle cx="230.2" cy="354.1" r="0.85" fill="#3556b0"/>
<circle cx="232.2" cy="354.1" r="0.85" fill="#3556b0"/>
<line x1="226.45" y1="335.02" x2="233.95" y2="335.02" stroke="#2a2a55" stroke-width="0.8"/>
<circle cx="241.4" cy="301.1" r="0.85" fill="#2a2478"/>
<circle cx="244.4" cy="301.1" r="0.85" fill="#2a2478"/>
<circle cx="242.9" cy="302.16" r="0.85" fill="#2a2478"/>
<circle cx="242.4" cy="303.22" r="0.85" fill="#2a2478"/>
<circle cx="243.9" cy="321.24" r="0.85" fill="#2a2478"/>
<circle cx="242.9" cy="328.13" r="0.85" fill="#2a2478"/>
<circle cx="242.9" cy="339.26" r="0.85" fill="#2a2478"/>
<circle cx="242.9" cy="342.44" r="0.85" fill="#2a2478"/>
<circle cx="242.4" cy="346.15" r="0.85" fill="#2a2478"/>
<circle cx="243.4" cy="346.68" r="0.85" fill="#2a2478"/>
<circle cx="240.9" cy="354.1" r="0.85" fill="#2a2478"/>
<circle cx="242.9" cy="354.1" r="0.85" fill="#2a2478"/>
<circle cx="244.9" cy="354.1" r="0.85" fill="#2a2478"/>
<line x1="239.15" y1="339.79" x2="246.65" y2="339.79" stroke="#2a2a55" stroke-width="0.8"/>
<circle cx="255.2" cy="301.1" r="0.85" fill="#e5262b"/>
<circle cx="257.2" cy="301.1" r="0.85" fill="#e5262b"/>
<circle cx="256.2" cy="301.63" r="0.85" fill="#e5262b"/>
<circle cx="255.7" cy="302.16" r="0.85" fill="#e5262b"/>
<circle cx="256.2" cy="306.93" r="0.85" fill="#e5262b"/>
<circle cx="256.2" cy="315.94" r="0.85" fill="#e5262b"/>
<circle cx="256.2" cy="318.59" r="0.85" fill="#e5262b"/>
<circle cx="256.2" cy="349.86" r="0.85" fill="#e5262b"/>
<circle cx="253.2" cy="354.1" r="0.85" fill="#e5262b"/>
<circle cx="254.7" cy="354.1" r="0.85" fill="#e5262b"/>
<circle cx="256.2" cy="354.1" r="0.85" fill="#e5262b"/>
<circle cx="257.7" cy="354.1" r="0.85" fill="#e5262b"/>
<circle cx="259.2" cy="354.1" r="0.85" fill="#e5262b"/>
<text x="111.5" y="366.2" font-size="7.48" stroke="#231f20" stroke-width="0.18" fill="#231f20"><tspan font-style="italic">n</tspan> =</text>
<text x="129.8" y="366.2" font-size="7.48" text-anchor="middle" stroke="#231f20" stroke-width="0.18" fill="#231f20">10</text>
<text x="142" y="366.2" font-size="7.48" text-anchor="middle" stroke="#231f20" stroke-width="0.18" fill="#231f20">10</text>
<text x="154.4" y="366.2" font-size="7.48" text-anchor="middle" stroke="#231f20" stroke-width="0.18" fill="#231f20">25</text>
<text x="177.4" y="366.2" font-size="7.48" text-anchor="middle" stroke="#231f20" stroke-width="0.18" fill="#231f20">21</text>
<text x="191.4" y="366.2" font-size="7.48" text-anchor="middle" stroke="#231f20" stroke-width="0.18" fill="#231f20">18</text>
<text x="204.4" y="366.2" font-size="7.48" text-anchor="middle" stroke="#231f20" stroke-width="0.18" fill="#231f20">25</text>
<text x="230.2" y="366.2" font-size="7.48" text-anchor="middle" stroke="#231f20" stroke-width="0.18" fill="#231f20">21</text>
<text x="243.3" y="366.2" font-size="7.48" text-anchor="middle" stroke="#231f20" stroke-width="0.18" fill="#231f20">18</text>
<text x="256" y="366.2" font-size="7.48" text-anchor="middle" stroke="#231f20" stroke-width="0.18" fill="#231f20">25</text>
<text x="264.9" y="258.2" font-size="7.48" stroke="#231f20" stroke-width="0.18" fill="#231f20">Subclonal</text>
<rect x="265.6" y="261.2" width="7.6" height="5" fill="#cacaca" stroke="#444" stroke-width="0.7"/>
<text x="265" y="275.2" font-size="7.48" stroke="#231f20" stroke-width="0.18" fill="#231f20">Clonal</text>
<rect x="265.6" y="277.9" width="7.6" height="5" fill="#f08a24" stroke="#444" stroke-width="0.7"/>
<circle cx="267.8" cy="318.1" r="1.9" fill="#3556b0"/>
<text x="272.3" y="320.7" font-size="7.48" stroke="#3a5ab5" stroke-width="0.18" fill="#3a5ab5">CLL</text>
<circle cx="267.8" cy="328.2" r="1.9" fill="#2a2478"/>
<text x="272.3" y="330.8" font-size="7.48" stroke="#45358f" stroke-width="0.18" fill="#45358f">CLL/RS</text>
<circle cx="267.8" cy="338.2" r="1.9" fill="#e5262b"/>
<text x="272.3" y="340.8" font-size="7.48" stroke="#e5262b" stroke-width="0.18" fill="#e5262b">RS</text>
<text x="305.5" y="218" font-size="10.76" font-weight="bold" fill="#231f20">D</text>
<line x1="332.4" y1="221.1" x2="332.4" y2="316.9" stroke="#333" stroke-width="0.8"/>
<line x1="330.4" y1="316.9" x2="332.4" y2="316.9" stroke="#333" stroke-width="0.8"/>
<text x="329.2" y="319.4" font-size="7.48" text-anchor="end" stroke="#231f20" stroke-width="0.18" fill="#231f20">0</text>
<line x1="330.4" y1="297.74" x2="332.4" y2="297.74" stroke="#333" stroke-width="0.8"/>
<text x="329.2" y="300.24" font-size="7.48" text-anchor="end" stroke="#231f20" stroke-width="0.18" fill="#231f20">2</text>
<line x1="330.4" y1="278.58" x2="332.4" y2="278.58" stroke="#333" stroke-width="0.8"/>
<text x="329.2" y="281.08" font-size="7.48" text-anchor="end" stroke="#231f20" stroke-width="0.18" fill="#231f20">4</text>
<line x1="330.4" y1="259.42" x2="332.4" y2="259.42" stroke="#333" stroke-width="0.8"/>
<text x="329.2" y="261.92" font-size="7.48" text-anchor="end" stroke="#231f20" stroke-width="0.18" fill="#231f20">6</text>
<line x1="330.4" y1="240.26" x2="332.4" y2="240.26" stroke="#333" stroke-width="0.8"/>
<text x="329.2" y="242.76" font-size="7.48" text-anchor="end" stroke="#231f20" stroke-width="0.18" fill="#231f20">8</text>
<line x1="330.4" y1="221.1" x2="332.4" y2="221.1" stroke="#333" stroke-width="0.8"/>
<text x="329.2" y="223.6" font-size="7.48" text-anchor="end" stroke="#231f20" stroke-width="0.18" fill="#231f20">10</text>
<text transform="translate(318.6 268.6) rotate(-90)" font-size="7.48" text-anchor="middle" stroke="#231f20" stroke-width="0.18" fill="#231f20">Number of mice</text>
<path d="M338 220.5 V216.6 H446.3 V220.5" stroke="#333" stroke-width="0.8" fill="none"/>
<text x="391.6" y="212.6" font-size="7.48" text-anchor="middle" stroke="#231f20" stroke-width="0.18" fill="#231f20">6-plex</text>
<path d="M450.8 220.5 V216.6 H518.6 V220.5" stroke="#333" stroke-width="0.8" fill="none"/>
<text x="485" y="212.6" font-size="7.48" text-anchor="middle" stroke="#231f20" stroke-width="0.18" fill="#231f20">5-plex</text>
<line x1="448.3" y1="221.4" x2="448.3" y2="317.2" stroke="#222" stroke-width="0.9"/>
<line x1="338.5" y1="316.9" x2="371" y2="316.9" stroke="#333" stroke-width="0.8"/>
<line x1="376" y1="316.9" x2="408.6" y2="316.9" stroke="#333" stroke-width="0.8"/>
<line x1="413.4" y1="316.9" x2="445.6" y2="316.9" stroke="#333" stroke-width="0.8"/>
<line x1="450.6" y1="316.9" x2="483.6" y2="316.9" stroke="#333" stroke-width="0.8"/>
<line x1="487.8" y1="316.9" x2="521" y2="316.9" stroke="#333" stroke-width="0.8"/>
<line x1="355.8" y1="316.9" x2="355.8" y2="318.6" stroke="#333" stroke-width="0.8"/>
<line x1="392.3" y1="316.9" x2="392.3" y2="318.6" stroke="#333" stroke-width="0.8"/>
<line x1="429.7" y1="316.9" x2="429.7" y2="318.6" stroke="#333" stroke-width="0.8"/>
<line x1="466.4" y1="316.9" x2="466.4" y2="318.6" stroke="#333" stroke-width="0.8"/>
<line x1="503.3" y1="316.9" x2="503.3" y2="318.6" stroke="#333" stroke-width="0.8"/>
<rect x="340.1" y="288.16" width="3.8" height="28.74" fill="#f08585"/>
<text x="342" y="286.56" font-size="7.48" text-anchor="middle" stroke="#231f20" stroke-width="0.18" fill="#231f20">3</text>
<rect x="344.8" y="307.32" width="3.8" height="9.58" fill="#d8262a"/>
<text x="346.7" y="305.72" font-size="7.48" text-anchor="middle" stroke="#231f20" stroke-width="0.18" fill="#231f20">1</text>
<rect x="349.6" y="307.32" width="3.8" height="9.58" fill="#8e1515"/>
<text x="351.5" y="305.72" font-size="7.48" text-anchor="middle" stroke="#231f20" stroke-width="0.18" fill="#231f20">1</text>
<rect x="376.6" y="288.16" width="3.8" height="28.74" fill="#f08585"/>
<text x="378.5" y="286.56" font-size="7.48" text-anchor="middle" stroke="#231f20" stroke-width="0.18" fill="#231f20">3</text>
<rect x="381.4" y="288.16" width="3.8" height="28.74" fill="#d8262a"/>
<text x="383.3" y="286.56" font-size="7.48" text-anchor="middle" stroke="#231f20" stroke-width="0.18" fill="#231f20">3</text>
<rect x="395.2" y="307.32" width="3.8" height="9.58" fill="#7f8fd0"/>
<text x="397.1" y="305.72" font-size="7.48" text-anchor="middle" stroke="#231f20" stroke-width="0.18" fill="#231f20">1</text>
<rect x="405.1" y="297.74" width="3.8" height="19.16" fill="#25257a"/>
<text x="407" y="296.14" font-size="7.48" text-anchor="middle" stroke="#231f20" stroke-width="0.18" fill="#231f20">2</text>
<rect x="414.2" y="240.26" width="3.8" height="76.64" fill="#f08585"/>
<text x="416.1" y="238.66" font-size="7.48" text-anchor="middle" stroke="#231f20" stroke-width="0.18" fill="#231f20">8</text>
<rect x="419" y="269" width="3.8" height="47.9" fill="#d8262a"/>
<text x="420.9" y="267.4" font-size="7.48" text-anchor="middle" stroke="#231f20" stroke-width="0.18" fill="#231f20">5</text>
<rect x="423.7" y="269" width="3.8" height="47.9" fill="#8e1515"/>
<text x="425.6" y="267.4" font-size="7.48" text-anchor="middle" stroke="#231f20" stroke-width="0.18" fill="#231f20">5</text>
<rect x="428.5" y="288.16" width="3.8" height="28.74" fill="#111"/>
<text x="430.4" y="286.56" font-size="7.48" text-anchor="middle" stroke="#231f20" stroke-width="0.18" fill="#231f20">3</text>
<rect x="433.2" y="307.32" width="3.8" height="9.58" fill="#7f8fd0"/>
<text x="435.1" y="305.72" font-size="7.48" text-anchor="middle" stroke="#231f20" stroke-width="0.18" fill="#231f20">1</text>
<rect x="470.2" y="307.32" width="3.8" height="9.58" fill="#7f8fd0"/>
<text x="472.1" y="305.72" font-size="7.48" text-anchor="middle" stroke="#231f20" stroke-width="0.18" fill="#231f20">1</text>
<rect x="474.9" y="307.32" width="3.8" height="9.58" fill="#3b58b4"/>
<text x="476.8" y="305.72" font-size="7.48" text-anchor="middle" stroke="#231f20" stroke-width="0.18" fill="#231f20">1</text>
<rect x="506.7" y="297.74" width="3.8" height="19.16" fill="#7f8fd0"/>
<text x="508.6" y="296.14" font-size="7.48" text-anchor="middle" stroke="#231f20" stroke-width="0.18" fill="#231f20">2</text>
<rect x="511.4" y="288.16" width="3.8" height="28.74" fill="#3b58b4"/>
<text x="513.3" y="286.56" font-size="7.48" text-anchor="middle" stroke="#231f20" stroke-width="0.18" fill="#231f20">3</text>
<rect x="516.2" y="307.32" width="3.8" height="9.58" fill="#25257a"/>
<text x="518.1" y="305.72" font-size="7.48" text-anchor="middle" stroke="#231f20" stroke-width="0.18" fill="#231f20">1</text>
<text x="355.6" y="328.7" font-size="7.48" text-anchor="middle" stroke="#231f20" stroke-width="0.18" fill="#231f20">CLL</text>
<text x="392.2" y="328.7" font-size="7.48" text-anchor="middle" stroke="#231f20" stroke-width="0.18" fill="#231f20">CLL/RS</text>
<text x="429.6" y="328.7" font-size="7.48" text-anchor="middle" stroke="#231f20" stroke-width="0.18" fill="#231f20">RS</text>
<text x="467.2" y="328.7" font-size="7.48" text-anchor="middle" stroke="#231f20" stroke-width="0.18" fill="#231f20">CLL</text>
<text x="503.8" y="328.7" font-size="7.48" text-anchor="middle" stroke="#231f20" stroke-width="0.18" fill="#231f20">CLL/RS</text>
<text x="334.2" y="345.6" font-size="7.48" stroke="#231f20" stroke-width="0.18" fill="#231f20">Number of</text>
<text x="334.2" y="353.3" font-size="7.48" stroke="#231f20" stroke-width="0.18" fill="#231f20">clonal lesions</text>
<text x="334.2" y="361" font-size="7.48" stroke="#231f20" stroke-width="0.18" fill="#231f20">in PB</text>
<rect x="387.6" y="336.2" width="9.1" height="3.9" fill="#f08585"/>
<text x="400.2" y="340.8" font-size="7.48" stroke="#231f20" stroke-width="0.18" font-style="italic" fill="#231f20">Trp53-only</text>
<rect x="387.6" y="344.1" width="9.1" height="3.9" fill="#d8262a"/>
<text x="400.2" y="348.7" font-size="7.48" stroke="#231f20" stroke-width="0.18" font-style="italic" fill="#231f20">Trp53/Mga</text>
<rect x="387.6" y="352" width="9.1" height="3.9" fill="#8e1515"/>
<text x="400.2" y="356.6" font-size="7.48" stroke="#231f20" stroke-width="0.18" font-style="italic" fill="#231f20">Trp53/Chd2</text>
<rect x="387.6" y="359.9" width="9.1" height="3.9" fill="#111"/>
<text x="400.2" y="364.5" font-size="7.48" stroke="#231f20" stroke-width="0.18" font-style="italic" fill="#231f20">Trp53/Mga/Chd2</text>
<rect x="458.2" y="338.8" width="9.2" height="3.6" fill="#7f8fd0"/>
<text x="470.8" y="343.4" font-size="7.48" stroke="#231f20" stroke-width="0.18" font-style="italic" fill="#231f20">Mga-only</text>
<rect x="458.2" y="346.8" width="9.2" height="3.6" fill="#3b58b4"/>
<text x="470.8" y="351.4" font-size="7.48" stroke="#231f20" stroke-width="0.18" font-style="italic" fill="#231f20">Chd2-only</text>
<rect x="458.2" y="354.8" width="9.2" height="3.6" fill="#25257a"/>
<text x="470.8" y="359.4" font-size="7.48" stroke="#231f20" stroke-width="0.18" font-style="italic" fill="#231f20">Mga/Chd2</text>
<text x="5" y="389.6" font-size="10.76" font-weight="bold" fill="#231f20">E</text>
<text x="127.3" y="386.3" font-size="7.79" text-anchor="middle" stroke="#e5262b" stroke-width="0.18" fill="#e5262b">RS</text>
<path d="M71.4 392.3 V389.4 H185.8 V392.3" stroke="#333" stroke-width="0.8" fill="none"/>
<text x="34.4" y="408.2" font-size="7.48" text-anchor="middle" stroke="#231f20" stroke-width="0.18" fill="#231f20">Clonality</text>
<text x="34.4" y="415.6" font-size="7.48" text-anchor="middle" stroke="#231f20" stroke-width="0.18" fill="#231f20">threshold</text>
<line x1="55.2" y1="409.2" x2="63.5" y2="409.2" stroke="#111" stroke-width="1.1"/>
<path d="M62.2 406.8 L66.6 409.2 L62.2 411.6 Z" fill="#111"/>
<text transform="translate(46.5 465) rotate(-90)" font-size="7.48" text-anchor="middle" stroke="#231f20" stroke-width="0.18" fill="#231f20">% Indels</text>
<line x1="68.4" y1="408.35" x2="124.4" y2="408.35" stroke="#b8b8b8" stroke-width="0.9"/>
<line x1="68.4" y1="400" x2="68.4" y2="457.8" stroke="#333" stroke-width="0.8"/>
<line x1="68.4" y1="457.8" x2="124.4" y2="457.8" stroke="#333" stroke-width="0.8"/>
<line x1="66.4" y1="457.8" x2="68.4" y2="457.8" stroke="#333" stroke-width="0.8"/>
<line x1="66.4" y1="429.05" x2="68.4" y2="429.05" stroke="#333" stroke-width="0.8"/>
<line x1="66.4" y1="400.3" x2="68.4" y2="400.3" stroke="#333" stroke-width="0.8"/>
<line x1="80.4" y1="457.8" x2="80.4" y2="459.4" stroke="#333" stroke-width="0.8"/>
<line x1="97.7" y1="457.8" x2="97.7" y2="459.4" stroke="#333" stroke-width="0.8"/>
<line x1="115.2" y1="457.8" x2="115.2" y2="459.4" stroke="#333" stroke-width="0.8"/>
<text x="70.6" y="405.7" font-size="7.48" stroke="#e5262b" stroke-width="0.18" fill="#e5262b">RS3</text>
<path d="M80.4 457.23 L97.7 457.8 L115.2 457.23" stroke="#f4c342" stroke-width="0.6" fill="none" stroke-opacity="0.3"/>
<path d="M97.7 441.7 L115.2 452.62" stroke="#8a8a8a" stroke-width="0.6" fill="none" stroke-opacity="0.5" stroke-dasharray="1.2 1"/>
<path d="M80.4 457.23 L97.7 444 L115.2 400.3" stroke="#d8322e" stroke-width="0.9" fill="none" stroke-opacity="1"/>
<path d="M80.4 457.23 L97.7 446.88 L115.2 400.3" stroke="#4a5ab5" stroke-width="0.9" fill="none" stroke-opacity="1"/>
<circle cx="80.4" cy="454.35" r="0.9" fill="#111"/>
<circle cx="80.4" cy="457.51" r="0.9" fill="#111"/>
<circle cx="97.7" cy="441.7" r="0.9" fill="#111"/>
<circle cx="97.7" cy="445.15" r="1" fill="#111"/>
<circle cx="97.7" cy="447.45" r="1" fill="#111"/>
<circle cx="97.7" cy="457.23" r="1" fill="#111"/>
<circle cx="115.2" cy="400.3" r="1.2" fill="#111"/>
<circle cx="115.2" cy="452.62" r="0.8" fill="#111"/>
<circle cx="115.2" cy="457.8" r="0.9" fill="#111"/>
<text x="64.8" y="460.3" font-size="7.48" text-anchor="end" stroke="#231f20" stroke-width="0.18" fill="#231f20">0</text>
<text x="64.8" y="431.55" font-size="7.48" text-anchor="end" stroke="#231f20" stroke-width="0.18" fill="#231f20">50</text>
<text x="64.8" y="402.8" font-size="7.48" text-anchor="end" stroke="#231f20" stroke-width="0.18" fill="#231f20">100</text>
<line x1="131" y1="408.35" x2="187.5" y2="408.35" stroke="#b8b8b8" stroke-width="0.9"/>
<line x1="131" y1="400" x2="131" y2="457.8" stroke="#333" stroke-width="0.8"/>
<line x1="131" y1="457.8" x2="187.5" y2="457.8" stroke="#333" stroke-width="0.8"/>
<line x1="129" y1="457.8" x2="131" y2="457.8" stroke="#333" stroke-width="0.8"/>
<line x1="129" y1="429.05" x2="131" y2="429.05" stroke="#333" stroke-width="0.8"/>
<line x1="129" y1="400.3" x2="131" y2="400.3" stroke="#333" stroke-width="0.8"/>
<line x1="142.5" y1="457.8" x2="142.5" y2="459.4" stroke="#333" stroke-width="0.8"/>
<line x1="160.2" y1="457.8" x2="160.2" y2="459.4" stroke="#333" stroke-width="0.8"/>
<line x1="177.9" y1="457.8" x2="177.9" y2="459.4" stroke="#333" stroke-width="0.8"/>
<text x="133.2" y="405.7" font-size="7.48" stroke="#e5262b" stroke-width="0.18" fill="#e5262b">RS12</text>
<path d="M142.5 424.45 L160.2 457.8" stroke="#f4c342" stroke-width="0.6" fill="none" stroke-opacity="0.35"/>
<path d="M142.5 449.75 L160.2 457.8" stroke="#777" stroke-width="0.6" fill="none" stroke-opacity="0.6" stroke-dasharray="1.2 1"/>
<path d="M142.5 455.5 L160.2 457.8" stroke="#777" stroke-width="0.6" fill="none" stroke-opacity="0.6" stroke-dasharray="1.2 1"/>
<path d="M142.5 425.03 L160.2 403.18 L177.9 400.3" stroke="#4aa8e0" stroke-width="0.9" fill="none" stroke-opacity="1"/>
<path d="M142.5 423.88 L160.2 400.88 L177.9 400.3" stroke="#d8322e" stroke-width="0.9" fill="none" stroke-opacity="1"/>
<circle cx="142.5" cy="424.45" r="1.3" fill="#111"/>
<circle cx="142.5" cy="449.75" r="0.8" fill="#111"/>
<circle cx="142.5" cy="455.5" r="0.8" fill="#111"/>
<circle cx="160.2" cy="400.88" r="1.1" fill="#111"/>
<circle cx="160.2" cy="403.18" r="1.1" fill="#111"/>
<circle cx="177.9" cy="400.3" r="1.1" fill="#111"/>
<line x1="68.4" y1="472.69" x2="124.4" y2="472.69" stroke="#b8b8b8" stroke-width="0.9"/>
<line x1="68.4" y1="464" x2="68.4" y2="524.2" stroke="#333" stroke-width="0.8"/>
<line x1="68.4" y1="524.2" x2="124.4" y2="524.2" stroke="#333" stroke-width="0.8"/>
<line x1="66.4" y1="524.2" x2="68.4" y2="524.2" stroke="#333" stroke-width="0.8"/>
<line x1="66.4" y1="494.25" x2="68.4" y2="494.25" stroke="#333" stroke-width="0.8"/>
<line x1="66.4" y1="464.3" x2="68.4" y2="464.3" stroke="#333" stroke-width="0.8"/>
<line x1="80.9" y1="524.2" x2="80.9" y2="525.8" stroke="#333" stroke-width="0.8"/>
<line x1="99.4" y1="524.2" x2="99.4" y2="525.8" stroke="#333" stroke-width="0.8"/>
<line x1="117.5" y1="524.2" x2="117.5" y2="525.8" stroke="#333" stroke-width="0.8"/>
<text x="70.6" y="469.7" font-size="7.48" stroke="#e5262b" stroke-width="0.18" fill="#e5262b">RS9</text>
<path d="M80.9 482.87 L99.4 500.24" stroke="#8a8a8a" stroke-width="0.6" fill="none" stroke-opacity="0.6" stroke-dasharray="1.2 1"/>
<path d="M80.9 506.83 L99.4 471.49" stroke="#f4c342" stroke-width="0.9" fill="none" stroke-opacity="0.9"/>
<path d="M80.9 520.01 L99.4 495.45 L117.5 493.65" stroke="#1e9a55" stroke-width="0.7" fill="none" stroke-opacity="0.8" stroke-dasharray="1.5 1"/>
<path d="M99.4 500.24 L117.5 496.05" stroke="#4a8f8f" stroke-width="0.6" fill="none" stroke-opacity="0.7" stroke-dasharray="1.2 1"/>
<path d="M80.9 513.42 L99.4 471.49" stroke="#4aa8e0" stroke-width="0.9" fill="none" stroke-opacity="1"/>
<path d="M99.4 471.49 L117.5 464.9" stroke="#555" stroke-width="0.9" fill="none" stroke-opacity="1"/>
<path d="M80.9 520.01 L99.4 515.22 L117.5 512.22" stroke="#c6302f" stroke-width="0.7" fill="none" stroke-opacity="0.9" stroke-dasharray="1.5 1"/>
<path d="M80.9 515.22 L99.4 521.8 L117.5 464.3" stroke="#d8322e" stroke-width="1.0" fill="none" stroke-opacity="1"/>
<circle cx="80.9" cy="482.87" r="0.8" fill="#111"/>
<circle cx="80.9" cy="506.83" r="1.1" fill="#111"/>
<circle cx="80.9" cy="513.42" r="1" fill="#111"/>
<circle cx="80.9" cy="520.01" r="0.9" fill="#111"/>
<circle cx="80.9" cy="522.4" r="1" fill="#111"/>
<circle cx="99.4" cy="471.49" r="1.2" fill="#111"/>
<circle cx="99.4" cy="495.45" r="0.9" fill="#111"/>
<circle cx="99.4" cy="500.24" r="0.9" fill="#111"/>
<circle cx="99.4" cy="515.22" r="0.8" fill="#111"/>
<circle cx="99.4" cy="521.8" r="1.1" fill="#111"/>
<circle cx="117.5" cy="464.3" r="1.2" fill="#111"/>
<circle cx="117.5" cy="465.5" r="1.1" fill="#111"/>
<circle cx="117.5" cy="493.65" r="0.9" fill="#111"/>
<circle cx="117.5" cy="496.05" r="0.9" fill="#111"/>
<circle cx="117.5" cy="512.22" r="0.8" fill="#111"/>
<text x="64.8" y="526.7" font-size="7.48" text-anchor="end" stroke="#231f20" stroke-width="0.18" fill="#231f20">0</text>
<text x="64.8" y="496.75" font-size="7.48" text-anchor="end" stroke="#231f20" stroke-width="0.18" fill="#231f20">50</text>
<text x="64.8" y="466.8" font-size="7.48" text-anchor="end" stroke="#231f20" stroke-width="0.18" fill="#231f20">100</text>
<line x1="131.6" y1="472.69" x2="187.5" y2="472.69" stroke="#b8b8b8" stroke-width="0.9"/>
<line x1="131.6" y1="464" x2="131.6" y2="524.2" stroke="#333" stroke-width="0.8"/>
<line x1="131.6" y1="524.2" x2="187.5" y2="524.2" stroke="#333" stroke-width="0.8"/>
<line x1="129.6" y1="524.2" x2="131.6" y2="524.2" stroke="#333" stroke-width="0.8"/>
<line x1="129.6" y1="494.25" x2="131.6" y2="494.25" stroke="#333" stroke-width="0.8"/>
<line x1="129.6" y1="464.3" x2="131.6" y2="464.3" stroke="#333" stroke-width="0.8"/>
<line x1="143.7" y1="524.2" x2="143.7" y2="525.8" stroke="#333" stroke-width="0.8"/>
<line x1="162.3" y1="524.2" x2="162.3" y2="525.8" stroke="#333" stroke-width="0.8"/>
<line x1="181" y1="524.2" x2="181" y2="525.8" stroke="#333" stroke-width="0.8"/>
<text x="133.8" y="469.7" font-size="7.48" stroke="#e5262b" stroke-width="0.18" fill="#e5262b">RS13</text>
<path d="M143.7 492.45 L162.3 504.43 L181 514.02" stroke="#8a8a8a" stroke-width="0.7" fill="none" stroke-opacity="0.4"/>
<path d="M143.7 523 L162.3 504.43 L181 495.45" stroke="#1e9a55" stroke-width="0.7" fill="none" stroke-opacity="0.8" stroke-dasharray="1.5 1"/>
<path d="M143.7 518.21 L162.3 521.8 L181 524.2" stroke="#c6302f" stroke-width="0.7" fill="none" stroke-opacity="0.8" stroke-dasharray="1.5 1"/>
<path d="M143.7 509.23 L162.3 481.67 L181 464.3" stroke="#f4c342" stroke-width="0.9" fill="none" stroke-opacity="1"/>
<path d="M143.7 501.44 L162.3 477.48 L181 464.3" stroke="#4aa8e0" stroke-width="0.9" fill="none" stroke-opacity="1"/>
<path d="M143.7 491.85 L162.3 482.87 L181 464.3" stroke="#d8322e" stroke-width="1.0" fill="none" stroke-opacity="1"/>
<path d="M162.3 482.27 L181 464.3" stroke="#c8602a" stroke-width="1.4" fill="none" stroke-opacity="0.9"/>
<circle cx="143.7" cy="491.85" r="1.1" fill="#111"/>
<circle cx="143.7" cy="493.65" r="1" fill="#111"/>
<circle cx="143.7" cy="501.44" r="1.1" fill="#111"/>
<circle cx="143.7" cy="509.23" r="1.1" fill="#111"/>
<circle cx="143.7" cy="518.21" r="0.9" fill="#111"/>
<circle cx="143.7" cy="523" r="0.8" fill="#111"/>
<circle cx="162.3" cy="477.48" r="1.1" fill="#111"/>
<circle cx="162.3" cy="481.67" r="1.1" fill="#111"/>
<circle cx="162.3" cy="482.87" r="1.1" fill="#111"/>
<circle cx="162.3" cy="504.43" r="0.9" fill="#111"/>
<circle cx="162.3" cy="521.8" r="0.9" fill="#111"/>
<circle cx="181" cy="464.3" r="1.3" fill="#111"/>
<circle cx="181" cy="495.45" r="0.9" fill="#111"/>
<circle cx="181" cy="514.02" r="0.9" fill="#111"/>
<text x="81.5" y="535.1" font-size="7.48" text-anchor="middle" stroke="#231f20" stroke-width="0.18" fill="#231f20">Pre-</text>
<text x="81.1" y="541.6" font-size="7.48" text-anchor="middle" stroke="#231f20" stroke-width="0.18" fill="#231f20">leuk</text>
<text x="97.9" y="535.1" font-size="7.48" text-anchor="middle" stroke="#231f20" stroke-width="0.18" fill="#231f20">CLL</text>
<text x="117" y="535.1" font-size="7.48" text-anchor="middle" stroke="#231f20" stroke-width="0.18" fill="#231f20">RS</text>
<text x="142.1" y="535.1" font-size="7.48" text-anchor="middle" stroke="#231f20" stroke-width="0.18" fill="#231f20">Pre-</text>
<text x="141.7" y="541.6" font-size="7.48" text-anchor="middle" stroke="#231f20" stroke-width="0.18" fill="#231f20">leuk</text>
<text x="161" y="535.1" font-size="7.48" text-anchor="middle" stroke="#231f20" stroke-width="0.18" fill="#231f20">CLL</text>
<text x="179.8" y="535.1" font-size="7.48" text-anchor="middle" stroke="#231f20" stroke-width="0.18" fill="#231f20">RS</text>
<text x="199.2" y="433" font-size="7.48" stroke="#d8322e" stroke-width="0.18" font-style="italic" fill="#d8322e">Trp53</text>
<text x="199.2" y="443.75" font-size="7.48" stroke="#f4c342" stroke-width="0.18" font-style="italic" fill="#f4c342">Mga</text>
<text x="199.2" y="454.5" font-size="7.48" stroke="#4aa8e0" stroke-width="0.18" font-style="italic" fill="#4aa8e0">Chd2</text>
<text x="199.2" y="465.25" font-size="7.48" stroke="#1e9a55" stroke-width="0.18" font-style="italic" fill="#1e9a55">Atm</text>
<text x="199.2" y="476" font-size="7.48" stroke="#8a8a8a" stroke-width="0.18" font-style="italic" fill="#8a8a8a">Samhd1</text>
<text x="199.2" y="486.75" font-size="7.48" stroke="#c6302f" stroke-width="0.18" font-style="italic" fill="#c6302f">Birc3</text>
<text x="251.6" y="389" font-size="10.76" font-weight="bold" fill="#231f20">F</text>
<path d="M271.8 394.3 H267.7 V525.4 H271.8" stroke="#333" stroke-width="0.8" fill="none"/>
<text transform="translate(262.5 459.5) rotate(-90)" font-size="7.79" text-anchor="middle" stroke="#231f20" stroke-width="0.18" fill="#231f20">Single splenocytes</text>
<rect x="289.8" y="392.1" width="87.12" height="60" fill="#4a7bbb"/>
<rect x="289.8" y="392.1" width="43.56" height="60" fill="#dc4029"/>
<rect x="333.36" y="400.16" width="43.56" height="0.35" fill="#5d8dca" fill-opacity="0.45"/>
<rect x="333.36" y="442.95" width="43.56" height="0.35" fill="#5d8dca" fill-opacity="0.45"/>
<rect x="333.36" y="437.93" width="43.56" height="0.35" fill="#5d8dca" fill-opacity="0.45"/>
<rect x="333.36" y="407.4" width="43.56" height="0.35" fill="#5d8dca" fill-opacity="0.45"/>
<rect x="333.36" y="421.83" width="43.56" height="0.35" fill="#5d8dca" fill-opacity="0.45"/>
<rect x="333.36" y="419.07" width="43.56" height="0.35" fill="#5d8dca" fill-opacity="0.45"/>
<rect x="333.36" y="431.2" width="43.56" height="0.35" fill="#5d8dca" fill-opacity="0.45"/>
<rect x="333.36" y="439.42" width="43.56" height="0.35" fill="#5d8dca" fill-opacity="0.45"/>
<rect x="333.36" y="397.73" width="43.56" height="0.35" fill="#5d8dca" fill-opacity="0.45"/>
<rect x="333.36" y="393.8" width="43.56" height="0.35" fill="#5d8dca" fill-opacity="0.45"/>
<rect x="333.36" y="442.25" width="43.56" height="0.35" fill="#5d8dca" fill-opacity="0.45"/>
<rect x="333.36" y="418.07" width="43.56" height="0.35" fill="#5d8dca" fill-opacity="0.45"/>
<rect x="333.36" y="437.84" width="43.56" height="0.35" fill="#5d8dca" fill-opacity="0.45"/>
<rect x="333.36" y="392.23" width="43.56" height="0.35" fill="#5d8dca" fill-opacity="0.45"/>
<rect x="333.36" y="418.82" width="43.56" height="0.35" fill="#5d8dca" fill-opacity="0.45"/>
<rect x="333.36" y="435.39" width="43.56" height="0.35" fill="#5d8dca" fill-opacity="0.45"/>
<rect x="333.36" y="405.83" width="43.56" height="0.35" fill="#5d8dca" fill-opacity="0.45"/>
<rect x="333.36" y="448.82" width="43.56" height="0.35" fill="#5d8dca" fill-opacity="0.45"/>
<rect x="333.36" y="446.19" width="43.56" height="0.35" fill="#5d8dca" fill-opacity="0.45"/>
<rect x="333.36" y="393.94" width="43.56" height="0.35" fill="#5d8dca" fill-opacity="0.45"/>
<rect x="333.36" y="393.63" width="43.56" height="0.35" fill="#5d8dca" fill-opacity="0.45"/>
<rect x="333.36" y="424.58" width="43.56" height="0.35" fill="#5d8dca" fill-opacity="0.45"/>
<rect x="333.36" y="448.45" width="43.56" height="0.35" fill="#5d8dca" fill-opacity="0.45"/>
<rect x="333.36" y="414.97" width="43.56" height="0.35" fill="#5d8dca" fill-opacity="0.45"/>
<rect x="333.36" y="405.1" width="43.56" height="0.35" fill="#5d8dca" fill-opacity="0.45"/>
<rect x="333.36" y="417.43" width="43.56" height="0.35" fill="#5d8dca" fill-opacity="0.45"/>
<rect x="333.36" y="393.84" width="43.56" height="0.35" fill="#5d8dca" fill-opacity="0.45"/>
<rect x="333.36" y="405.4" width="43.56" height="0.35" fill="#5d8dca" fill-opacity="0.45"/>
<rect x="333.36" y="418.37" width="43.56" height="0.35" fill="#5d8dca" fill-opacity="0.45"/>
<rect x="333.36" y="421.85" width="43.56" height="0.35" fill="#5d8dca" fill-opacity="0.45"/>
<rect x="333.36" y="406.09" width="43.56" height="0.35" fill="#5d8dca" fill-opacity="0.45"/>
<rect x="333.36" y="405.95" width="43.56" height="0.35" fill="#5d8dca" fill-opacity="0.45"/>
<rect x="333.36" y="405.23" width="43.56" height="0.35" fill="#5d8dca" fill-opacity="0.45"/>
<rect x="333.36" y="419.68" width="43.56" height="0.35" fill="#5d8dca" fill-opacity="0.45"/>
<rect x="333.36" y="409.49" width="43.56" height="0.35" fill="#5d8dca" fill-opacity="0.45"/>
<rect x="333.36" y="393.39" width="43.56" height="0.35" fill="#5d8dca" fill-opacity="0.45"/>
<rect x="333.36" y="442.35" width="43.56" height="0.35" fill="#5d8dca" fill-opacity="0.45"/>
<rect x="333.36" y="425.49" width="43.56" height="0.35" fill="#5d8dca" fill-opacity="0.45"/>
<rect x="333.36" y="430.64" width="43.56" height="0.35" fill="#5d8dca" fill-opacity="0.45"/>
<rect x="333.36" y="403.25" width="43.56" height="0.35" fill="#5d8dca" fill-opacity="0.45"/>
<rect x="333.36" y="451.65" width="43.56" height="0.35" fill="#5d8dca" fill-opacity="0.45"/>
<rect x="333.36" y="443.7" width="43.56" height="0.35" fill="#5d8dca" fill-opacity="0.45"/>
<rect x="333.36" y="399.35" width="43.56" height="0.35" fill="#5d8dca" fill-opacity="0.45"/>
<rect x="333.36" y="412.06" width="43.56" height="0.35" fill="#5d8dca" fill-opacity="0.45"/>
<rect x="333.36" y="435.39" width="43.56" height="0.35" fill="#5d8dca" fill-opacity="0.45"/>
<rect x="304.32" y="439.57" width="23.23" height="0.35" fill="#e47a66" fill-opacity="0.6"/>
<rect x="304.32" y="439.47" width="23.23" height="0.35" fill="#e47a66" fill-opacity="0.6"/>
<rect x="304.32" y="428.78" width="23.23" height="0.35" fill="#e47a66" fill-opacity="0.6"/>
<rect x="304.32" y="429.12" width="23.23" height="0.35" fill="#e47a66" fill-opacity="0.6"/>
<rect x="304.32" y="438.13" width="23.23" height="0.35" fill="#e47a66" fill-opacity="0.6"/>
<text x="333.4" y="388.8" font-size="7.79" text-anchor="middle" stroke="#6a3ab0" stroke-width="0.18" fill="#6a3ab0">CLL/RS5</text>
<text transform="translate(287.6 421.8) rotate(-90)" font-size="7.48" text-anchor="middle" stroke="#231f20" stroke-width="0.18" fill="#231f20"><tspan font-style="italic">n</tspan> = 2499</text>
<rect x="397.4" y="391.6" width="87.12" height="60" fill="#4a7bbb"/>
<rect x="397.4" y="405.88" width="87.12" height="0.35" fill="#5d8dca" fill-opacity="0.45"/>
<rect x="397.4" y="424.25" width="87.12" height="0.35" fill="#5d8dca" fill-opacity="0.45"/>
<rect x="397.4" y="413.8" width="87.12" height="0.35" fill="#5d8dca" fill-opacity="0.45"/>
<rect x="397.4" y="427.84" width="87.12" height="0.35" fill="#5d8dca" fill-opacity="0.45"/>
<rect x="397.4" y="429.14" width="87.12" height="0.35" fill="#5d8dca" fill-opacity="0.45"/>
<rect x="397.4" y="395.53" width="87.12" height="0.35" fill="#5d8dca" fill-opacity="0.45"/>
<rect x="397.4" y="392.39" width="87.12" height="0.35" fill="#5d8dca" fill-opacity="0.45"/>
<rect x="397.4" y="441.85" width="87.12" height="0.35" fill="#5d8dca" fill-opacity="0.45"/>
<rect x="397.4" y="407.16" width="87.12" height="0.35" fill="#5d8dca" fill-opacity="0.45"/>
<rect x="397.4" y="405.66" width="87.12" height="0.35" fill="#5d8dca" fill-opacity="0.45"/>
<rect x="397.4" y="451.34" width="87.12" height="0.35" fill="#5d8dca" fill-opacity="0.45"/>
<rect x="397.4" y="419.82" width="87.12" height="0.35" fill="#5d8dca" fill-opacity="0.45"/>
<rect x="397.4" y="441.79" width="87.12" height="0.35" fill="#5d8dca" fill-opacity="0.45"/>
<rect x="397.4" y="420.18" width="87.12" height="0.35" fill="#5d8dca" fill-opacity="0.45"/>
<rect x="397.4" y="429.94" width="87.12" height="0.35" fill="#5d8dca" fill-opacity="0.45"/>
<rect x="397.4" y="400.64" width="87.12" height="0.35" fill="#5d8dca" fill-opacity="0.45"/>
<rect x="397.4" y="429.69" width="87.12" height="0.35" fill="#5d8dca" fill-opacity="0.45"/>
<rect x="397.4" y="443.68" width="87.12" height="0.35" fill="#5d8dca" fill-opacity="0.45"/>
<rect x="397.4" y="422.99" width="87.12" height="0.35" fill="#5d8dca" fill-opacity="0.45"/>
<rect x="397.4" y="436.08" width="87.12" height="0.35" fill="#5d8dca" fill-opacity="0.45"/>
<rect x="397.4" y="431.88" width="87.12" height="0.35" fill="#5d8dca" fill-opacity="0.45"/>
<rect x="397.4" y="395.44" width="87.12" height="0.35" fill="#5d8dca" fill-opacity="0.45"/>
<rect x="397.4" y="437.09" width="87.12" height="0.35" fill="#5d8dca" fill-opacity="0.45"/>
<rect x="397.4" y="427.07" width="87.12" height="0.35" fill="#5d8dca" fill-opacity="0.45"/>
<rect x="397.4" y="409.68" width="87.12" height="0.35" fill="#5d8dca" fill-opacity="0.45"/>
<rect x="397.4" y="393.46" width="87.12" height="0.35" fill="#5d8dca" fill-opacity="0.45"/>
<rect x="397.4" y="443.53" width="87.12" height="0.35" fill="#5d8dca" fill-opacity="0.45"/>
<rect x="397.4" y="419.96" width="87.12" height="0.35" fill="#5d8dca" fill-opacity="0.45"/>
<rect x="397.4" y="434.73" width="87.12" height="0.35" fill="#5d8dca" fill-opacity="0.45"/>
<rect x="397.4" y="444.33" width="87.12" height="0.35" fill="#5d8dca" fill-opacity="0.45"/>
<rect x="397.4" y="434.45" width="87.12" height="0.35" fill="#5d8dca" fill-opacity="0.45"/>
<rect x="397.4" y="446.87" width="87.12" height="0.35" fill="#5d8dca" fill-opacity="0.45"/>
<rect x="397.4" y="415.3" width="87.12" height="0.35" fill="#5d8dca" fill-opacity="0.45"/>
<rect x="397.4" y="439.65" width="87.12" height="0.35" fill="#5d8dca" fill-opacity="0.45"/>
<rect x="397.4" y="418.28" width="87.12" height="0.35" fill="#5d8dca" fill-opacity="0.45"/>
<rect x="397.4" y="447.74" width="87.12" height="0.35" fill="#5d8dca" fill-opacity="0.45"/>
<rect x="397.4" y="444.33" width="87.12" height="0.35" fill="#5d8dca" fill-opacity="0.45"/>
<rect x="397.4" y="397.45" width="87.12" height="0.35" fill="#5d8dca" fill-opacity="0.45"/>
<rect x="397.4" y="399.76" width="87.12" height="0.35" fill="#5d8dca" fill-opacity="0.45"/>
<rect x="397.4" y="404.62" width="87.12" height="0.35" fill="#5d8dca" fill-opacity="0.45"/>
<rect x="397.4" y="449.53" width="87.12" height="0.35" fill="#5d8dca" fill-opacity="0.45"/>
<rect x="397.4" y="417.77" width="87.12" height="0.35" fill="#5d8dca" fill-opacity="0.45"/>
<rect x="397.4" y="429.2" width="87.12" height="0.35" fill="#5d8dca" fill-opacity="0.45"/>
<rect x="397.4" y="409.66" width="87.12" height="0.35" fill="#5d8dca" fill-opacity="0.45"/>
<rect x="397.4" y="422.03" width="87.12" height="0.35" fill="#5d8dca" fill-opacity="0.45"/>
<rect x="397.4" y="414.75" width="87.12" height="0.35" fill="#5d8dca" fill-opacity="0.45"/>
<rect x="397.4" y="412.65" width="87.12" height="0.35" fill="#5d8dca" fill-opacity="0.45"/>
<rect x="397.4" y="426.7" width="87.12" height="0.35" fill="#5d8dca" fill-opacity="0.45"/>
<rect x="397.4" y="426.66" width="87.12" height="0.35" fill="#5d8dca" fill-opacity="0.45"/>
<rect x="397.4" y="445.85" width="87.12" height="0.35" fill="#5d8dca" fill-opacity="0.45"/>
<rect x="397.4" y="391.6" width="14.52" height="60" fill="#dc4029"/>
<rect x="426.44" y="391.6" width="14.52" height="48" fill="#dc4029"/>
<text x="441.9" y="389.3" font-size="7.79" text-anchor="middle" stroke="#e5262b" stroke-width="0.18" fill="#e5262b">RS18</text>
<text transform="translate(395.2 421.8) rotate(-90)" font-size="7.48" text-anchor="middle" stroke="#231f20" stroke-width="0.18" fill="#231f20"><tspan font-style="italic">n</tspan> = 4018</text>
<rect x="289.8" y="465.1" width="87.12" height="59.7" fill="#4a7bbb"/>
<rect x="289.8" y="479.19" width="87.12" height="0.35" fill="#5d8dca" fill-opacity="0.45"/>
<rect x="289.8" y="471.26" width="87.12" height="0.35" fill="#5d8dca" fill-opacity="0.45"/>
<rect x="289.8" y="488.74" width="87.12" height="0.35" fill="#5d8dca" fill-opacity="0.45"/>
<rect x="289.8" y="474.35" width="87.12" height="0.35" fill="#5d8dca" fill-opacity="0.45"/>
<rect x="289.8" y="469.07" width="87.12" height="0.35" fill="#5d8dca" fill-opacity="0.45"/>
<rect x="289.8" y="489.07" width="87.12" height="0.35" fill="#5d8dca" fill-opacity="0.45"/>
<rect x="289.8" y="519.9" width="87.12" height="0.35" fill="#5d8dca" fill-opacity="0.45"/>
<rect x="289.8" y="512.89" width="87.12" height="0.35" fill="#5d8dca" fill-opacity="0.45"/>
<rect x="289.8" y="510.78" width="87.12" height="0.35" fill="#5d8dca" fill-opacity="0.45"/>
<rect x="289.8" y="478.35" width="87.12" height="0.35" fill="#5d8dca" fill-opacity="0.45"/>
<rect x="289.8" y="497.14" width="87.12" height="0.35" fill="#5d8dca" fill-opacity="0.45"/>
<rect x="289.8" y="481.62" width="87.12" height="0.35" fill="#5d8dca" fill-opacity="0.45"/>
<rect x="289.8" y="475.41" width="87.12" height="0.35" fill="#5d8dca" fill-opacity="0.45"/>
<rect x="289.8" y="471.44" width="87.12" height="0.35" fill="#5d8dca" fill-opacity="0.45"/>
<rect x="289.8" y="477.9" width="87.12" height="0.35" fill="#5d8dca" fill-opacity="0.45"/>
<rect x="289.8" y="520.47" width="87.12" height="0.35" fill="#5d8dca" fill-opacity="0.45"/>
<rect x="289.8" y="514.59" width="87.12" height="0.35" fill="#5d8dca" fill-opacity="0.45"/>
<rect x="289.8" y="513.26" width="87.12" height="0.35" fill="#5d8dca" fill-opacity="0.45"/>
<rect x="289.8" y="512.89" width="87.12" height="0.35" fill="#5d8dca" fill-opacity="0.45"/>
<rect x="289.8" y="476.65" width="87.12" height="0.35" fill="#5d8dca" fill-opacity="0.45"/>
<rect x="289.8" y="483.6" width="87.12" height="0.35" fill="#5d8dca" fill-opacity="0.45"/>
<rect x="289.8" y="502.53" width="87.12" height="0.35" fill="#5d8dca" fill-opacity="0.45"/>
<rect x="289.8" y="508.79" width="87.12" height="0.35" fill="#5d8dca" fill-opacity="0.45"/>
<rect x="289.8" y="516.12" width="87.12" height="0.35" fill="#5d8dca" fill-opacity="0.45"/>
<rect x="289.8" y="517.64" width="87.12" height="0.35" fill="#5d8dca" fill-opacity="0.45"/>
<rect x="289.8" y="470.28" width="87.12" height="0.35" fill="#5d8dca" fill-opacity="0.45"/>
<rect x="289.8" y="501.27" width="87.12" height="0.35" fill="#5d8dca" fill-opacity="0.45"/>
<rect x="289.8" y="505.2" width="87.12" height="0.35" fill="#5d8dca" fill-opacity="0.45"/>
<rect x="289.8" y="495.31" width="87.12" height="0.35" fill="#5d8dca" fill-opacity="0.45"/>
<rect x="289.8" y="475.71" width="87.12" height="0.35" fill="#5d8dca" fill-opacity="0.45"/>
<rect x="289.8" y="493.37" width="87.12" height="0.35" fill="#5d8dca" fill-opacity="0.45"/>
<rect x="289.8" y="470.43" width="87.12" height="0.35" fill="#5d8dca" fill-opacity="0.45"/>
<rect x="289.8" y="520.89" width="87.12" height="0.35" fill="#5d8dca" fill-opacity="0.45"/>
<rect x="289.8" y="516.77" width="87.12" height="0.35" fill="#5d8dca" fill-opacity="0.45"/>
<rect x="289.8" y="497.79" width="87.12" height="0.35" fill="#5d8dca" fill-opacity="0.45"/>
<rect x="289.8" y="483.02" width="87.12" height="0.35" fill="#5d8dca" fill-opacity="0.45"/>
<rect x="289.8" y="519.36" width="87.12" height="0.35" fill="#5d8dca" fill-opacity="0.45"/>
<rect x="289.8" y="499.27" width="87.12" height="0.35" fill="#5d8dca" fill-opacity="0.45"/>
<rect x="289.8" y="517.77" width="87.12" height="0.35" fill="#5d8dca" fill-opacity="0.45"/>
<rect x="289.8" y="515.73" width="87.12" height="0.35" fill="#5d8dca" fill-opacity="0.45"/>
<rect x="289.8" y="495.45" width="87.12" height="0.35" fill="#5d8dca" fill-opacity="0.45"/>
<rect x="289.8" y="489.81" width="87.12" height="0.35" fill="#5d8dca" fill-opacity="0.45"/>
<rect x="289.8" y="500.86" width="87.12" height="0.35" fill="#5d8dca" fill-opacity="0.45"/>
<rect x="289.8" y="490.83" width="87.12" height="0.35" fill="#5d8dca" fill-opacity="0.45"/>
<rect x="289.8" y="474.73" width="87.12" height="0.35" fill="#5d8dca" fill-opacity="0.45"/>
<path d="M304.32 465.1 H333.36 V498.8 H318.84 V524.8 H304.32 Z" stroke="none" stroke-width="0" fill="#dc4029"/>
<rect x="318.84" y="498.8" width="14.52" height="13.9" fill="#f7e8bd"/>
<rect x="304.32" y="507.2" width="14.52" height="0.35" fill="#f0a080" fill-opacity="0.8"/>
<rect x="304.32" y="508.74" width="14.52" height="0.35" fill="#f0a080" fill-opacity="0.8"/>
<rect x="304.32" y="509.44" width="14.52" height="0.35" fill="#f0a080" fill-opacity="0.8"/>
<rect x="304.32" y="511.35" width="14.52" height="0.35" fill="#f0a080" fill-opacity="0.8"/>
<rect x="304.32" y="508.72" width="14.52" height="0.35" fill="#f0a080" fill-opacity="0.8"/>
<text x="333.4" y="461.2" font-size="7.79" text-anchor="middle" stroke="#6a3ab0" stroke-width="0.18" fill="#6a3ab0">CLL/RS14</text>
<text transform="translate(287.6 499.5) rotate(-90)" font-size="7.48" text-anchor="middle" stroke="#231f20" stroke-width="0.18" fill="#231f20"><tspan font-style="italic">n</tspan> = 829</text>
<rect x="397.4" y="465.2" width="87.12" height="59.3" fill="#4a7bbb"/>
<rect x="397.4" y="512.25" width="87.12" height="0.35" fill="#5d8dca" fill-opacity="0.45"/>
<rect x="397.4" y="513.94" width="87.12" height="0.35" fill="#5d8dca" fill-opacity="0.45"/>
<rect x="397.4" y="493.96" width="87.12" height="0.35" fill="#5d8dca" fill-opacity="0.45"/>
<rect x="397.4" y="480.71" width="87.12" height="0.35" fill="#5d8dca" fill-opacity="0.45"/>
<rect x="397.4" y="465.23" width="87.12" height="0.35" fill="#5d8dca" fill-opacity="0.45"/>
<rect x="397.4" y="504.51" width="87.12" height="0.35" fill="#5d8dca" fill-opacity="0.45"/>
<rect x="397.4" y="493.09" width="87.12" height="0.35" fill="#5d8dca" fill-opacity="0.45"/>
<rect x="397.4" y="510.25" width="87.12" height="0.35" fill="#5d8dca" fill-opacity="0.45"/>
<rect x="397.4" y="487.33" width="87.12" height="0.35" fill="#5d8dca" fill-opacity="0.45"/>
<rect x="397.4" y="510.87" width="87.12" height="0.35" fill="#5d8dca" fill-opacity="0.45"/>
<rect x="397.4" y="481.37" width="87.12" height="0.35" fill="#5d8dca" fill-opacity="0.45"/>
<rect x="397.4" y="512.75" width="87.12" height="0.35" fill="#5d8dca" fill-opacity="0.45"/>
<rect x="397.4" y="508.48" width="87.12" height="0.35" fill="#5d8dca" fill-opacity="0.45"/>
<rect x="397.4" y="489.75" width="87.12" height="0.35" fill="#5d8dca" fill-opacity="0.45"/>
<rect x="397.4" y="497.12" width="87.12" height="0.35" fill="#5d8dca" fill-opacity="0.45"/>
<rect x="397.4" y="505.65" width="87.12" height="0.35" fill="#5d8dca" fill-opacity="0.45"/>
<rect x="397.4" y="476.64" width="87.12" height="0.35" fill="#5d8dca" fill-opacity="0.45"/>
<rect x="397.4" y="498.03" width="87.12" height="0.35" fill="#5d8dca" fill-opacity="0.45"/>
<rect x="397.4" y="512.94" width="87.12" height="0.35" fill="#5d8dca" fill-opacity="0.45"/>
<rect x="397.4" y="480.95" width="87.12" height="0.35" fill="#5d8dca" fill-opacity="0.45"/>
<rect x="397.4" y="512.84" width="87.12" height="0.35" fill="#5d8dca" fill-opacity="0.45"/>
<rect x="397.4" y="505.86" width="87.12" height="0.35" fill="#5d8dca" fill-opacity="0.45"/>
<rect x="397.4" y="515.27" width="87.12" height="0.35" fill="#5d8dca" fill-opacity="0.45"/>
<rect x="397.4" y="485.1" width="87.12" height="0.35" fill="#5d8dca" fill-opacity="0.45"/>
<rect x="397.4" y="470.72" width="87.12" height="0.35" fill="#5d8dca" fill-opacity="0.45"/>
<rect x="397.4" y="512.66" width="87.12" height="0.35" fill="#5d8dca" fill-opacity="0.45"/>
<rect x="397.4" y="512.92" width="87.12" height="0.35" fill="#5d8dca" fill-opacity="0.45"/>
<rect x="397.4" y="491.6" width="87.12" height="0.35" fill="#5d8dca" fill-opacity="0.45"/>
<rect x="397.4" y="470.76" width="87.12" height="0.35" fill="#5d8dca" fill-opacity="0.45"/>
<rect x="397.4" y="476.89" width="87.12" height="0.35" fill="#5d8dca" fill-opacity="0.45"/>
<rect x="397.4" y="502.85" width="87.12" height="0.35" fill="#5d8dca" fill-opacity="0.45"/>
<rect x="397.4" y="482.47" width="87.12" height="0.35" fill="#5d8dca" fill-opacity="0.45"/>
<rect x="397.4" y="521.62" width="87.12" height="0.35" fill="#5d8dca" fill-opacity="0.45"/>
<rect x="397.4" y="500.1" width="87.12" height="0.35" fill="#5d8dca" fill-opacity="0.45"/>
<rect x="397.4" y="477.11" width="87.12" height="0.35" fill="#5d8dca" fill-opacity="0.45"/>
<rect x="397.4" y="504.07" width="87.12" height="0.35" fill="#5d8dca" fill-opacity="0.45"/>
<rect x="397.4" y="486.57" width="87.12" height="0.35" fill="#5d8dca" fill-opacity="0.45"/>
<rect x="397.4" y="520.51" width="87.12" height="0.35" fill="#5d8dca" fill-opacity="0.45"/>
<rect x="397.4" y="519.13" width="87.12" height="0.35" fill="#5d8dca" fill-opacity="0.45"/>
<rect x="397.4" y="495.72" width="87.12" height="0.35" fill="#5d8dca" fill-opacity="0.45"/>
<rect x="397.4" y="503.42" width="87.12" height="0.35" fill="#5d8dca" fill-opacity="0.45"/>
<rect x="397.4" y="506.59" width="87.12" height="0.35" fill="#5d8dca" fill-opacity="0.45"/>
<rect x="397.4" y="512.97" width="87.12" height="0.35" fill="#5d8dca" fill-opacity="0.45"/>
<rect x="397.4" y="523.1" width="87.12" height="0.35" fill="#5d8dca" fill-opacity="0.45"/>
<rect x="397.4" y="466.89" width="87.12" height="0.35" fill="#5d8dca" fill-opacity="0.45"/>
<path d="M397.4 465.2 H426.44 V497.5 H411.92 V524.5 H397.4 Z" stroke="none" stroke-width="0" fill="#dc4029"/>
<rect x="397.4" y="477.27" width="29.04" height="0.35" fill="#ee8a70" fill-opacity="0.7"/>
<rect x="397.4" y="472.42" width="29.04" height="0.35" fill="#ee8a70" fill-opacity="0.7"/>
<rect x="397.4" y="486.43" width="29.04" height="0.35" fill="#ee8a70" fill-opacity="0.7"/>
<rect x="397.4" y="470.23" width="29.04" height="0.35" fill="#ee8a70" fill-opacity="0.7"/>
<rect x="397.4" y="483.2" width="29.04" height="0.35" fill="#ee8a70" fill-opacity="0.7"/>
<rect x="397.4" y="497.3" width="29.04" height="0.4" fill="#f3b0a0"/>
<text x="441.9" y="461.9" font-size="7.79" text-anchor="middle" stroke="#e5262b" stroke-width="0.18" fill="#e5262b">RS4</text>
<text transform="translate(395.2 495.5) rotate(-90)" font-size="7.48" text-anchor="middle" stroke="#231f20" stroke-width="0.18" fill="#231f20"><tspan font-style="italic">n</tspan> = 505</text>
<text transform="translate(300.66 530.6) rotate(-45)" font-size="7.5" text-anchor="end" font-style="italic" fill="#231f20" stroke="#231f20" stroke-width="0.18">Trp53</text>
<text transform="translate(315.18 530.6) rotate(-45)" font-size="7.5" text-anchor="end" font-style="italic" fill="#231f20" stroke="#231f20" stroke-width="0.18">Mga</text>
<text transform="translate(329.7 530.6) rotate(-45)" font-size="7.5" text-anchor="end" font-style="italic" fill="#231f20" stroke="#231f20" stroke-width="0.18">Chd2</text>
<text transform="translate(344.22 530.6) rotate(-45)" font-size="7.5" text-anchor="end" font-style="italic" fill="#231f20" stroke="#231f20" stroke-width="0.18">Atm</text>
<text transform="translate(358.74 530.6) rotate(-45)" font-size="7.5" text-anchor="end" font-style="italic" fill="#231f20" stroke="#231f20" stroke-width="0.18">Samhd1</text>
<text transform="translate(373.26 530.6) rotate(-45)" font-size="7.5" text-anchor="end" font-style="italic" fill="#231f20" stroke="#231f20" stroke-width="0.18">Birc3</text>
<text transform="translate(408.26 530.6) rotate(-45)" font-size="7.5" text-anchor="end" font-style="italic" fill="#231f20" stroke="#231f20" stroke-width="0.18">Trp53</text>
<text transform="translate(422.78 530.6) rotate(-45)" font-size="7.5" text-anchor="end" font-style="italic" fill="#231f20" stroke="#231f20" stroke-width="0.18">Mga</text>
<text transform="translate(437.3 530.6) rotate(-45)" font-size="7.5" text-anchor="end" font-style="italic" fill="#231f20" stroke="#231f20" stroke-width="0.18">Chd2</text>
<text transform="translate(451.82 530.6) rotate(-45)" font-size="7.5" text-anchor="end" font-style="italic" fill="#231f20" stroke="#231f20" stroke-width="0.18">Atm</text>
<text transform="translate(466.34 530.6) rotate(-45)" font-size="7.5" text-anchor="end" font-style="italic" fill="#231f20" stroke="#231f20" stroke-width="0.18">Samhd1</text>
<text transform="translate(480.86 530.6) rotate(-45)" font-size="7.5" text-anchor="end" font-style="italic" fill="#231f20" stroke="#231f20" stroke-width="0.18">Birc3</text>
<defs><linearGradient id="cb" x1="0" y1="0" x2="0" y2="1"><stop offset="0" stop-color="#c02a26"/><stop offset="0.25" stop-color="#ef7a36"/><stop offset="0.45" stop-color="#f8dc78"/><stop offset="0.62" stop-color="#f3f3e6"/><stop offset="0.78" stop-color="#9fc3e4"/><stop offset="1" stop-color="#3e6fb0"/></linearGradient></defs>
<rect x="492.3" y="408.3" width="3.9" height="36.7" fill="url(#cb)"/>
<text x="487.2" y="402.8" font-size="7.48" stroke="#231f20" stroke-width="0.18" fill="#231f20">% Indels</text>
<line x1="496.3" y1="408.6" x2="498.6" y2="408.6" stroke="#333" stroke-width="0.8"/>
<text x="499.4" y="411.2" font-size="7.48" stroke="#231f20" stroke-width="0.18" fill="#231f20">100</text>
<line x1="496.3" y1="426.6" x2="498.6" y2="426.6" stroke="#333" stroke-width="0.8"/>
<text x="499.4" y="429.2" font-size="7.48" stroke="#231f20" stroke-width="0.18" fill="#231f20">50</text>
<line x1="496.3" y1="444.6" x2="498.6" y2="444.6" stroke="#333" stroke-width="0.8"/>
<text x="499.4" y="447.2" font-size="7.48" stroke="#231f20" stroke-width="0.18" fill="#231f20">0</text>
<text x="4.2" y="564.9" font-size="10.76" font-weight="bold" fill="#231f20">G</text>
<text x="61.7" y="563.6" font-size="7.48" text-anchor="middle" stroke="#231f20" stroke-width="0.18" fill="#231f20">Chromosome</text>
<text x="61.7" y="570.5" font-size="7.48" text-anchor="middle" stroke="#231f20" stroke-width="0.18" fill="#231f20">amp/del</text>
<line x1="47.2" y1="573.2" x2="75.5" y2="573.2" stroke="#333" stroke-width="0.8"/>
<text x="61.9" y="587.4" font-size="7.48" text-anchor="middle" stroke="#231f20" stroke-width="0.18" font-style="italic" fill="#231f20"><tspan font-style="italic">P</tspan> = 0.0001</text>
<path d="M45.7 595.4 V589.1 H77 V595.4" stroke="#6a6a6a" stroke-width="0.7" fill="none"/>
<text x="67.4" y="600.2" font-size="7.48" text-anchor="middle" stroke="#231f20" stroke-width="0.18" font-style="italic" fill="#231f20">=0.001</text>
<path d="M57.1 606.4 V602.2 H76.6 V606.4" stroke="#6a6a6a" stroke-width="0.7" fill="none"/>
<line x1="35.1" y1="590.1" x2="35.1" y2="630.6" stroke="#333" stroke-width="0.8"/>
<line x1="35.1" y1="635.2" x2="35.1" y2="682.8" stroke="#333" stroke-width="0.8"/>
<line x1="33.1" y1="630.6" x2="37.1" y2="630.6" stroke="#333" stroke-width="0.8"/>
<line x1="33.1" y1="635.2" x2="37.1" y2="635.2" stroke="#333" stroke-width="0.8"/>
<line x1="33.3" y1="590.1" x2="35.1" y2="590.1" stroke="#333" stroke-width="0.8"/>
<text x="31.6" y="592.6" font-size="7.48" text-anchor="end" stroke="#231f20" stroke-width="0.18" fill="#231f20">30</text>
<line x1="33.3" y1="598.25" x2="35.1" y2="598.25" stroke="#333" stroke-width="0.8"/>
<text x="31.6" y="600.75" font-size="7.48" text-anchor="end" stroke="#231f20" stroke-width="0.18" fill="#231f20">25</text>
<line x1="33.3" y1="606.4" x2="35.1" y2="606.4" stroke="#333" stroke-width="0.8"/>
<text x="31.6" y="608.9" font-size="7.48" text-anchor="end" stroke="#231f20" stroke-width="0.18" fill="#231f20">20</text>
<line x1="33.3" y1="614.55" x2="35.1" y2="614.55" stroke="#333" stroke-width="0.8"/>
<text x="31.6" y="617.05" font-size="7.48" text-anchor="end" stroke="#231f20" stroke-width="0.18" fill="#231f20">15</text>
<line x1="33.3" y1="622.7" x2="35.1" y2="622.7" stroke="#333" stroke-width="0.8"/>
<text x="31.6" y="625.2" font-size="7.48" text-anchor="end" stroke="#231f20" stroke-width="0.18" fill="#231f20">10</text>
<line x1="33.3" y1="682.8" x2="35.1" y2="682.8" stroke="#333" stroke-width="0.8"/>
<text x="31.6" y="685.3" font-size="7.48" text-anchor="end" stroke="#231f20" stroke-width="0.18" fill="#231f20">0</text>
<line x1="33.3" y1="663.65" x2="35.1" y2="663.65" stroke="#333" stroke-width="0.8"/>
<text x="31.6" y="666.15" font-size="7.48" text-anchor="end" stroke="#231f20" stroke-width="0.18" fill="#231f20">2</text>
<line x1="33.3" y1="644.5" x2="35.1" y2="644.5" stroke="#333" stroke-width="0.8"/>
<text x="31.6" y="647" font-size="7.48" text-anchor="end" stroke="#231f20" stroke-width="0.18" fill="#231f20">4</text>
<text transform="translate(15.6 636) rotate(-90)" font-size="7.48" text-anchor="middle" stroke="#231f20" stroke-width="0.18" fill="#231f20">Number of events</text>
<rect x="42.5" y="671.79" width="9" height="11.01" fill="#2c55b0"/>
<rect x="56.2" y="654.07" width="8.6" height="28.73" fill="#2c2a80"/>
<rect x="70.2" y="619.3" width="9" height="63.5" fill="#e5262b"/>
<line x1="35.1" y1="682.8" x2="86.2" y2="682.8" stroke="#333" stroke-width="0.8"/>
<circle cx="46" cy="663.65" r="1.7" fill="#fff" stroke="#333" stroke-width="0.6"/>
<circle cx="44.3" cy="673.22" r="1.7" fill="#fff" stroke="#333" stroke-width="0.6"/>
<circle cx="46.3" cy="673.22" r="1.7" fill="#fff" stroke="#333" stroke-width="0.6"/>
<circle cx="48.3" cy="673.22" r="1.7" fill="#fff" stroke="#333" stroke-width="0.6"/>
<circle cx="50.1" cy="673.22" r="1.7" fill="#fff" stroke="#333" stroke-width="0.6"/>
<circle cx="58.3" cy="644.5" r="1.7" fill="#fff" stroke="#333" stroke-width="0.6"/>
<circle cx="61" cy="644.5" r="1.7" fill="#fff" stroke="#333" stroke-width="0.6"/>
<circle cx="60.6" cy="663.65" r="1.7" fill="#fff" stroke="#333" stroke-width="0.6"/>
<circle cx="60.6" cy="673.22" r="1.7" fill="#fff" stroke="#333" stroke-width="0.6"/>
<circle cx="77.3" cy="611.2" r="1.7" fill="#fff" stroke="#333" stroke-width="0.6"/>
<circle cx="71.6" cy="614.3" r="1.7" fill="#fff" stroke="#333" stroke-width="0.6"/>
<circle cx="72.2" cy="619.6" r="1.7" fill="#fff" stroke="#333" stroke-width="0.6"/>
<circle cx="74.8" cy="617.9" r="1.7" fill="#fff" stroke="#333" stroke-width="0.6"/>
<circle cx="77.4" cy="617.9" r="1.7" fill="#fff" stroke="#333" stroke-width="0.6"/>
<circle cx="74.2" cy="626.1" r="1.7" fill="#fff" stroke="#333" stroke-width="0.6"/>
<circle cx="77.3" cy="624.3" r="1.7" fill="#fff" stroke="#333" stroke-width="0.6"/>
<circle cx="74.2" cy="644.5" r="1.7" fill="#fff" stroke="#333" stroke-width="0.6"/>
<line x1="46.5" y1="683.6" x2="43.5" y2="688.5" stroke="#333" stroke-width="0.8"/>
<line x1="60.5" y1="683.6" x2="60.5" y2="685.8" stroke="#333" stroke-width="0.8"/>
<line x1="74.3" y1="683.6" x2="77.8" y2="688.5" stroke="#333" stroke-width="0.8"/>
<text x="28.3" y="692.6" font-size="7.48" text-anchor="middle" stroke="#231f20" stroke-width="0.18" fill="#231f20"><tspan font-style="italic">del</tspan>(13q)-</text>
<text x="30.8" y="699.4" font-size="7.48" text-anchor="middle" stroke="#231f20" stroke-width="0.18" fill="#231f20">CLL</text>
<text x="60.6" y="692.6" font-size="7.48" text-anchor="middle" stroke="#231f20" stroke-width="0.18" fill="#231f20">CLL/</text>
<text x="59.8" y="699.4" font-size="7.48" text-anchor="middle" stroke="#231f20" stroke-width="0.18" fill="#231f20">RS</text>
<text x="82.4" y="697.2" font-size="7.48" text-anchor="middle" stroke="#231f20" stroke-width="0.18" fill="#231f20">RS</text>
<text x="126.4" y="564.6" font-size="10.76" font-weight="bold" fill="#231f20">H</text>
<rect x="156.2" y="567.8" width="163" height="3.5" fill="#000"/>
<rect x="169.44" y="568.45" width="11.45" height="2.2" fill="#fff"/>
<rect x="192.08" y="568.45" width="9.76" height="2.2" fill="#fff"/>
<rect x="212.49" y="568.45" width="9.31" height="2.2" fill="#fff"/>
<rect x="232.03" y="568.45" width="7.96" height="2.2" fill="#fff"/>
<rect x="248.84" y="568.45" width="8.05" height="2.2" fill="#fff"/>
<rect x="265.57" y="568.45" width="7.35" height="2.2" fill="#fff"/>
<rect x="281.49" y="568.45" width="7.67" height="2.2" fill="#fff"/>
<rect x="296.64" y="568.45" width="5.9" height="2.2" fill="#fff"/>
<rect x="309.43" y="568.45" width="5.4" height="2.2" fill="#fff"/>
<text x="156.4" y="564.9" font-size="7.48" text-anchor="end" stroke="#231f20" stroke-width="0.18" fill="#231f20">Chr:</text>
<text x="163.8" y="564.9" font-size="7.48" text-anchor="middle" stroke="#231f20" stroke-width="0.18" fill="#231f20">1</text>
<text x="176.2" y="564.9" font-size="7.48" text-anchor="middle" stroke="#231f20" stroke-width="0.18" fill="#231f20">2</text>
<text x="186.9" y="564.9" font-size="7.48" text-anchor="middle" stroke="#231f20" stroke-width="0.18" fill="#231f20">3</text>
<text x="196.5" y="564.9" font-size="7.48" text-anchor="middle" stroke="#231f20" stroke-width="0.18" fill="#231f20">4</text>
<text x="208.8" y="564.9" font-size="7.48" text-anchor="middle" stroke="#231f20" stroke-width="0.18" fill="#231f20">5</text>
<text x="217.7" y="564.9" font-size="7.48" text-anchor="middle" stroke="#231f20" stroke-width="0.18" fill="#231f20">6</text>
<text x="228.8" y="564.9" font-size="7.48" text-anchor="middle" stroke="#231f20" stroke-width="0.18" fill="#231f20">7</text>
<text x="235.3" y="564.9" font-size="7.48" text-anchor="middle" stroke="#231f20" stroke-width="0.18" fill="#231f20">8</text>
<text x="243.8" y="564.9" font-size="7.48" text-anchor="middle" stroke="#231f20" stroke-width="0.18" fill="#231f20">9</text>
<text x="251.6" y="564.9" font-size="7.48" text-anchor="middle" stroke="#231f20" stroke-width="0.18" fill="#231f20">10</text>
<text x="260.6" y="564.9" font-size="7.48" text-anchor="middle" stroke="#231f20" stroke-width="0.18" fill="#231f20">11</text>
<text x="267.3" y="564.9" font-size="7.48" text-anchor="middle" stroke="#231f20" stroke-width="0.18" fill="#231f20">12</text>
<text x="273.6" y="564.9" font-size="7.48" text-anchor="middle" stroke="#231f20" stroke-width="0.18" fill="#231f20">13</text>
<text x="285.8" y="564.9" font-size="7.48" text-anchor="middle" stroke="#231f20" stroke-width="0.18" fill="#231f20">14</text>
<text x="299.2" y="564.9" font-size="7.48" text-anchor="middle" stroke="#231f20" stroke-width="0.18" fill="#231f20">16</text>
<text x="310.4" y="564.9" font-size="7.48" text-anchor="middle" stroke="#231f20" stroke-width="0.18" fill="#231f20">18</text>
<rect x="345" y="567.8" width="163.1" height="3.5" fill="#000"/>
<rect x="358.25" y="568.45" width="11.46" height="2.2" fill="#fff"/>
<rect x="380.91" y="568.45" width="9.77" height="2.2" fill="#fff"/>
<rect x="401.33" y="568.45" width="9.32" height="2.2" fill="#fff"/>
<rect x="420.87" y="568.45" width="7.97" height="2.2" fill="#fff"/>
<rect x="437.7" y="568.45" width="8.06" height="2.2" fill="#fff"/>
<rect x="454.44" y="568.45" width="7.36" height="2.2" fill="#fff"/>
<rect x="470.37" y="568.45" width="7.67" height="2.2" fill="#fff"/>
<rect x="485.53" y="568.45" width="5.9" height="2.2" fill="#fff"/>
<rect x="498.32" y="568.45" width="5.41" height="2.2" fill="#fff"/>
<text x="345" y="564.9" font-size="7.48" text-anchor="end" stroke="#231f20" stroke-width="0.18" fill="#231f20">Chr:</text>
<text x="352.6" y="564.9" font-size="7.48" text-anchor="middle" stroke="#231f20" stroke-width="0.18" fill="#231f20">1</text>
<text x="365" y="564.9" font-size="7.48" text-anchor="middle" stroke="#231f20" stroke-width="0.18" fill="#231f20">2</text>
<text x="375.7" y="564.9" font-size="7.48" text-anchor="middle" stroke="#231f20" stroke-width="0.18" fill="#231f20">3</text>
<text x="385.3" y="564.9" font-size="7.48" text-anchor="middle" stroke="#231f20" stroke-width="0.18" fill="#231f20">4</text>
<text x="397.6" y="564.9" font-size="7.48" text-anchor="middle" stroke="#231f20" stroke-width="0.18" fill="#231f20">5</text>
<text x="406.5" y="564.9" font-size="7.48" text-anchor="middle" stroke="#231f20" stroke-width="0.18" fill="#231f20">6</text>
<text x="417.6" y="564.9" font-size="7.48" text-anchor="middle" stroke="#231f20" stroke-width="0.18" fill="#231f20">7</text>
<text x="424.1" y="564.9" font-size="7.48" text-anchor="middle" stroke="#231f20" stroke-width="0.18" fill="#231f20">8</text>
<text x="432.6" y="564.9" font-size="7.48" text-anchor="middle" stroke="#231f20" stroke-width="0.18" fill="#231f20">9</text>
<text x="440.4" y="564.9" font-size="7.48" text-anchor="middle" stroke="#231f20" stroke-width="0.18" fill="#231f20">10</text>
<text x="449.4" y="564.9" font-size="7.48" text-anchor="middle" stroke="#231f20" stroke-width="0.18" fill="#231f20">11</text>
<text x="456.1" y="564.9" font-size="7.48" text-anchor="middle" stroke="#231f20" stroke-width="0.18" fill="#231f20">12</text>
<text x="462.4" y="564.9" font-size="7.48" text-anchor="middle" stroke="#231f20" stroke-width="0.18" fill="#231f20">13</text>
<text x="474.6" y="564.9" font-size="7.48" text-anchor="middle" stroke="#231f20" stroke-width="0.18" fill="#231f20">14</text>
<text x="488" y="564.9" font-size="7.48" text-anchor="middle" stroke="#231f20" stroke-width="0.18" fill="#231f20">16</text>
<text x="499.2" y="564.9" font-size="7.48" text-anchor="middle" stroke="#231f20" stroke-width="0.18" fill="#231f20">18</text>
<rect x="157.1" y="586.3" width="11.44" height="45.3" fill="#dcdcdc"/>
<rect x="182.09" y="586.3" width="9.09" height="45.3" fill="#dcdcdc"/>
<rect x="203.04" y="586.3" width="8.55" height="45.3" fill="#dcdcdc"/>
<rect x="223" y="586.3" width="8.13" height="45.3" fill="#dcdcdc"/>
<rect x="241.19" y="586.3" width="6.75" height="45.3" fill="#dcdcdc"/>
<rect x="258.09" y="586.3" width="6.58" height="45.3" fill="#dcdcdc"/>
<rect x="274.12" y="586.3" width="6.47" height="45.3" fill="#dcdcdc"/>
<rect x="290.36" y="586.3" width="5.39" height="45.3" fill="#dcdcdc"/>
<rect x="303.74" y="586.3" width="4.79" height="45.3" fill="#dcdcdc"/>
<rect x="316.03" y="586.3" width="2.57" height="45.3" fill="#dcdcdc"/>
<path d="M195 620.42 L195 621.63 L195.8 621.59 L196.6 621.55 L197.4 621.49 L198.2 621.56 L199 621.44 L199 620.42 Z" fill="#4f8ccc"/>
<path d="M199 620.42 L199 622.39 L199.71 622.29 L200.43 622.22 L201.14 622.36 L201.86 622.22 L202.57 622.21 L203.29 622.22 L204 622.34 L204 620.42 Z" fill="#4f8ccc"/>
<path d="M207.3 620.42 L207.3 623.91 L208.15 623.77 L209 623.51 L209 620.42 Z" fill="#4f8ccc"/>
<path d="M215.5 620.42 L215.5 621.64 L216.25 621.81 L217 621.86 L217.75 621.67 L218.5 621.77 L219.25 621.86 L220 621.68 L220 620.42 Z" fill="#4f8ccc"/>
<path d="M221.5 620.42 L221.5 626.01 L222.15 626.01 L222.8 626.01 L222.8 620.42 Z" fill="#4f8ccc"/>
<path d="M223 620.42 L223 622.66 L223.5 622.66 L224 622.66 L224 620.42 Z" fill="#4f8ccc"/>
<path d="M225 620.42 L225 621.5 L225.7 621.51 L226.4 621.47 L227.1 621.57 L227.8 621.54 L228.5 621.52 L229.2 621.56 L229.9 621.44 L230.6 621.55 L231.3 621.59 L232 621.51 L232 620.42 Z" fill="#4f8ccc"/>
<path d="M233 620.42 L233 621.3 L233.7 621.24 L234.4 621.27 L235.1 621.34 L235.8 621.33 L236.5 621.26 L237.2 621.26 L237.9 621.3 L238.6 621.28 L239.3 621.36 L240 621.24 L240 620.42 Z" fill="#4f8ccc"/>
<path d="M265 620.42 L265 621.9 L265.9 622.08 L266.8 622.09 L267.7 622.12 L267.7 620.42 Z" fill="#4f8ccc"/>
<path d="M271.8 620.42 L271.8 622.04 L272.53 621.93 L273.27 622.1 L274 621.97 L274 620.42 Z" fill="#4f8ccc"/>
<path d="M280.8 620.42 L280.8 622.75 L281.6 622.48 L282.4 622.79 L283.2 622.83 L284 622.82 L284 620.42 Z" fill="#4f8ccc"/>
<path d="M288.9 620.42 L288.9 612.38 L289.45 612.38 L290 612.38 L290 620.42 Z" fill="#e5401f"/>
<path d="M290 620.42 L290 610.41 L290.7 610.79 L291.4 610.57 L292.1 611.59 L292.8 611.61 L293.5 610.81 L294.2 611.92 L294.9 611.12 L295.6 612.04 L296.3 610.86 L296.3 620.42 Z" fill="#e5401f"/>
<path d="M302.8 620.42 L302.8 618.21 L303.51 617.99 L304.23 617.74 L304.94 618.2 L305.65 617.85 L306.36 618.16 L307.07 617.79 L307.79 617.94 L308.5 618.18 L308.5 620.42 Z" fill="#e5401f"/>
<line x1="156.2" y1="620.42" x2="319.2" y2="620.42" stroke="#2a2a3a" stroke-width="0.9"/>
<line x1="156.5" y1="586.9" x2="156.5" y2="631.6" stroke="#333" stroke-width="0.8"/>
<line x1="154.5" y1="631.6" x2="156.5" y2="631.6" stroke="#333" stroke-width="0.8"/>
<text x="153.1" y="634.2" font-size="7.48" text-anchor="end" stroke="#231f20" stroke-width="0.18" fill="#231f20">0.5</text>
<line x1="154.5" y1="620.42" x2="156.5" y2="620.42" stroke="#333" stroke-width="0.8"/>
<text x="153.1" y="623.02" font-size="7.48" text-anchor="end" stroke="#231f20" stroke-width="0.18" fill="#231f20">1.0</text>
<line x1="154.5" y1="609.25" x2="156.5" y2="609.25" stroke="#333" stroke-width="0.8"/>
<text x="153.1" y="611.85" font-size="7.48" text-anchor="end" stroke="#231f20" stroke-width="0.18" fill="#231f20">1.5</text>
<line x1="154.5" y1="598.08" x2="156.5" y2="598.08" stroke="#333" stroke-width="0.8"/>
<text x="153.1" y="600.68" font-size="7.48" text-anchor="end" stroke="#231f20" stroke-width="0.18" fill="#231f20">2.0</text>
<line x1="154.5" y1="586.9" x2="156.5" y2="586.9" stroke="#333" stroke-width="0.8"/>
<text x="153.1" y="589.5" font-size="7.48" text-anchor="end" stroke="#231f20" stroke-width="0.18" fill="#231f20">2.5</text>
<text transform="translate(137.5 609.25) rotate(-90)" font-size="7.48" text-anchor="middle" stroke="#231f20" stroke-width="0.18" fill="#231f20">CNV ratio</text>
<text x="159.5" y="582.3" font-size="7.5" fill="#5a68b4" stroke="#5a68b4" stroke-width="0.18"><tspan font-style="italic">del</tspan>(13q)-CLL (<tspan font-style="italic">n</tspan> = 5)</text>
<text x="292.7" y="608.9" font-size="7.48" text-anchor="middle" stroke="#231f20" stroke-width="0.18" fill="#231f20">15</text>
<text x="305.6" y="615.4" font-size="7.48" text-anchor="middle" stroke="#231f20" stroke-width="0.18" fill="#231f20">17</text>
<rect x="157.1" y="647.8" width="11.44" height="45.2" fill="#dcdcdc"/>
<rect x="182.09" y="647.8" width="9.09" height="45.2" fill="#dcdcdc"/>
<rect x="203.04" y="647.8" width="8.55" height="45.2" fill="#dcdcdc"/>
<rect x="223" y="647.8" width="8.13" height="45.2" fill="#dcdcdc"/>
<rect x="241.19" y="647.8" width="6.75" height="45.2" fill="#dcdcdc"/>
<rect x="258.09" y="647.8" width="6.58" height="45.2" fill="#dcdcdc"/>
<rect x="274.12" y="647.8" width="6.47" height="45.2" fill="#dcdcdc"/>
<rect x="290.36" y="647.8" width="5.39" height="45.2" fill="#dcdcdc"/>
<rect x="303.74" y="647.8" width="4.79" height="45.2" fill="#dcdcdc"/>
<rect x="316.03" y="647.8" width="2.57" height="45.2" fill="#dcdcdc"/>
<path d="M195.8 681.85 L195.8 684.18 L196.53 683.9 L197.25 684.03 L197.97 684.02 L198.7 684.18 L199.43 684.26 L200.15 684.25 L200.88 684.06 L201.6 684.09 L201.6 681.85 Z" fill="#4f8ccc"/>
<path d="M207.3 681.85 L207.3 685.01 L208.15 684.94 L209 685.14 L209 681.85 Z" fill="#4f8ccc"/>
<path d="M215.5 681.85 L215.5 683.6 L216.2 683.81 L216.9 683.53 L217.6 683.66 L218.3 683.53 L219 683.59 L219 681.85 Z" fill="#4f8ccc"/>
<path d="M220 681.85 L220 684.79 L220.72 684.7 L221.44 684.36 L222.16 684.27 L222.88 684.69 L223.6 684.58 L223.6 681.85 Z" fill="#4f8ccc"/>
<path d="M250 681.85 L250 681.02 L251 680.97 L252 681.01 L252 681.85 Z" fill="#e5401f"/>
<path d="M272 681.85 L272 683.31 L272.75 683.3 L273.5 683.37 L274.25 683.35 L275 683.29 L275 681.85 Z" fill="#4f8ccc"/>
<path d="M280 681.85 L280 684.04 L280.8 684.23 L281.6 684.29 L282.4 684.3 L283.2 684.1 L284 684.21 L284 681.85 Z" fill="#4f8ccc"/>
<path d="M288.9 681.85 L288.9 670.63 L289.7 670.21 L290.5 670.21 L290.5 681.85 Z" fill="#e5401f"/>
<path d="M290.5 681.85 L290.5 673 L291.23 672.12 L291.95 672.46 L292.68 672.4 L293.4 672.17 L294.12 672.78 L294.85 672.46 L295.57 672.76 L296.3 672.3 L296.3 681.85 Z" fill="#e5401f"/>
<path d="M302.3 681.85 L302.3 678.36 L303.07 677.94 L303.85 678.38 L304.62 678.59 L305.4 678.59 L306.18 678.23 L306.95 678.27 L307.73 677.96 L308.5 678.58 L308.5 681.85 Z" fill="#e5401f"/>
<line x1="156.2" y1="681.85" x2="319.2" y2="681.85" stroke="#2a2a3a" stroke-width="0.9"/>
<line x1="156.5" y1="648.4" x2="156.5" y2="693" stroke="#333" stroke-width="0.8"/>
<line x1="154.5" y1="693" x2="156.5" y2="693" stroke="#333" stroke-width="0.8"/>
<text x="153.1" y="695.6" font-size="7.48" text-anchor="end" stroke="#231f20" stroke-width="0.18" fill="#231f20">0.5</text>
<line x1="154.5" y1="681.85" x2="156.5" y2="681.85" stroke="#333" stroke-width="0.8"/>
<text x="153.1" y="684.45" font-size="7.48" text-anchor="end" stroke="#231f20" stroke-width="0.18" fill="#231f20">1.0</text>
<line x1="154.5" y1="670.7" x2="156.5" y2="670.7" stroke="#333" stroke-width="0.8"/>
<text x="153.1" y="673.3" font-size="7.48" text-anchor="end" stroke="#231f20" stroke-width="0.18" fill="#231f20">1.5</text>
<line x1="154.5" y1="659.55" x2="156.5" y2="659.55" stroke="#333" stroke-width="0.8"/>
<text x="153.1" y="662.15" font-size="7.48" text-anchor="end" stroke="#231f20" stroke-width="0.18" fill="#231f20">2.0</text>
<line x1="154.5" y1="648.4" x2="156.5" y2="648.4" stroke="#333" stroke-width="0.8"/>
<text x="153.1" y="651" font-size="7.48" text-anchor="end" stroke="#231f20" stroke-width="0.18" fill="#231f20">2.5</text>
<text transform="translate(137.5 670.7) rotate(-90)" font-size="7.48" text-anchor="middle" stroke="#231f20" stroke-width="0.18" fill="#231f20">CNV ratio</text>
<text x="159.5" y="643.8" font-size="7.5" fill="#4d3a98" stroke="#4d3a98" stroke-width="0.18">CLL/RS 5-plex (<tspan font-style="italic">n</tspan> = 2)</text>
<rect x="345.9" y="585.2" width="11.45" height="46.7" fill="#dcdcdc"/>
<rect x="370.91" y="585.2" width="9.1" height="46.7" fill="#dcdcdc"/>
<rect x="391.87" y="585.2" width="8.56" height="46.7" fill="#dcdcdc"/>
<rect x="411.84" y="585.2" width="8.13" height="46.7" fill="#dcdcdc"/>
<rect x="430.04" y="585.2" width="6.75" height="46.7" fill="#dcdcdc"/>
<rect x="446.95" y="585.2" width="6.59" height="46.7" fill="#dcdcdc"/>
<rect x="462.99" y="585.2" width="6.48" height="46.7" fill="#dcdcdc"/>
<rect x="479.24" y="585.2" width="5.39" height="46.7" fill="#dcdcdc"/>
<rect x="492.63" y="585.2" width="4.79" height="46.7" fill="#dcdcdc"/>
<rect x="504.93" y="585.2" width="2.57" height="46.7" fill="#dcdcdc"/>
<path d="M385 620.38 L385 621.04 L385.71 621.02 L386.42 621.06 L387.13 621.09 L387.84 621.12 L388.55 621.01 L389.26 621.12 L389.97 621.11 L390.68 621.02 L391.39 621.04 L392.11 621.09 L392.82 621.12 L393.53 621.07 L394.24 621.06 L394.95 621.12 L395.66 621 L396.37 621.05 L397.08 621.05 L397.79 621.08 L398.5 621.08 L399.21 621.07 L399.92 621.11 L400.63 621.13 L401.34 621.07 L402.05 621.13 L402.76 621.09 L403.47 621.01 L404.18 621.11 L404.89 621.03 L405.61 621.07 L406.32 621 L407.03 621.09 L407.74 621.13 L408.45 621.04 L409.16 621.01 L409.87 621.02 L410.58 621.01 L411.29 621.05 L412 621.1 L412 620.38 Z" fill="#4f8ccc"/>
<path d="M453 620.38 L453 631.18 L453.75 631.5 L454.51 631.05 L455.26 631.62 L456.02 631.44 L456.77 630.93 L457.53 631.53 L458.28 630.78 L459.04 632.45 L459.79 632.02 L460.55 632.08 L461.3 631.98 L461.3 620.38 Z" fill="#4f8ccc"/>
<path d="M484.4 620.38 L484.4 631.13 L485.16 631.96 L485.91 632.91 L486.67 632.43 L487.42 630.8 L488.18 632.79 L488.93 632.09 L489.69 631.04 L490.44 631.13 L491.2 631.01 L491.2 620.38 Z" fill="#4f8ccc"/>
<path d="M469.6 620.38 L469.6 618.15 L470.45 618.22 L471.3 618.09 L472.15 618.18 L473 618.17 L473 620.38 Z" fill="#e5401f"/>
<path d="M473 620.38 L473 614.34 L473.78 614.08 L474.57 614.96 L475.35 614.63 L476.13 615.09 L476.92 614.53 L477.7 614.18 L477.7 620.38 Z" fill="#e5401f"/>
<path d="M477.7 620.38 L477.7 612.05 L478.47 611.08 L479.23 611.42 L480 611.53 L480 620.38 Z" fill="#e5401f"/>
<path d="M480 620.38 L480 609.68 L480.73 609.71 L481.47 609.34 L482.2 610.75 L482.93 609.24 L483.67 610.87 L484.4 610.64 L484.4 620.38 Z" fill="#e5401f"/>
<path d="M491.2 620.38 L491.2 613.3 L491.93 612.94 L492.65 613.32 L493.38 612.3 L494.1 613.53 L494.82 612.94 L495.55 612.95 L496.27 613.45 L497 612.9 L497 620.38 Z" fill="#e5401f"/>
<line x1="345" y1="620.38" x2="508.1" y2="620.38" stroke="#2a2a3a" stroke-width="0.9"/>
<line x1="345.3" y1="585.8" x2="345.3" y2="631.9" stroke="#333" stroke-width="0.8"/>
<line x1="343.3" y1="631.9" x2="345.3" y2="631.9" stroke="#333" stroke-width="0.8"/>
<text x="341.9" y="634.5" font-size="7.48" text-anchor="end" stroke="#231f20" stroke-width="0.18" fill="#231f20">0.5</text>
<line x1="343.3" y1="620.38" x2="345.3" y2="620.38" stroke="#333" stroke-width="0.8"/>
<text x="341.9" y="622.98" font-size="7.48" text-anchor="end" stroke="#231f20" stroke-width="0.18" fill="#231f20">1.0</text>
<line x1="343.3" y1="608.85" x2="345.3" y2="608.85" stroke="#333" stroke-width="0.8"/>
<text x="341.9" y="611.45" font-size="7.48" text-anchor="end" stroke="#231f20" stroke-width="0.18" fill="#231f20">1.5</text>
<line x1="343.3" y1="597.32" x2="345.3" y2="597.32" stroke="#333" stroke-width="0.8"/>
<text x="341.9" y="599.92" font-size="7.48" text-anchor="end" stroke="#231f20" stroke-width="0.18" fill="#231f20">2.0</text>
<line x1="343.3" y1="585.8" x2="345.3" y2="585.8" stroke="#333" stroke-width="0.8"/>
<text x="341.9" y="588.4" font-size="7.48" text-anchor="end" stroke="#231f20" stroke-width="0.18" fill="#231f20">2.5</text>
<text x="348.3" y="582.2" font-size="7.5" fill="#4d3a98" stroke="#4d3a98" stroke-width="0.18">CLL/RS 6-plex (<tspan font-style="italic">n</tspan> = 2)</text>
<text x="480.6" y="604.6" font-size="7.48" text-anchor="middle" stroke="#231f20" stroke-width="0.18" fill="#231f20">15</text>
<text x="493.7" y="612" font-size="7.48" text-anchor="middle" stroke="#231f20" stroke-width="0.18" fill="#231f20">17</text>
<text x="457.5" y="638.4" font-size="7.48" text-anchor="middle" stroke="#231f20" stroke-width="0.18" fill="#231f20">12</text>
<text x="488.3" y="639.3" font-size="7.48" text-anchor="middle" stroke="#231f20" stroke-width="0.18" fill="#231f20">16</text>
<rect x="345.9" y="646.7" width="11.45" height="45.8" fill="#dcdcdc"/>
<rect x="370.91" y="646.7" width="9.1" height="45.8" fill="#dcdcdc"/>
<rect x="391.87" y="646.7" width="8.56" height="45.8" fill="#dcdcdc"/>
<rect x="411.84" y="646.7" width="8.13" height="45.8" fill="#dcdcdc"/>
<rect x="430.04" y="646.7" width="6.75" height="45.8" fill="#dcdcdc"/>
<rect x="446.95" y="646.7" width="6.59" height="45.8" fill="#dcdcdc"/>
<rect x="462.99" y="646.7" width="6.48" height="45.8" fill="#dcdcdc"/>
<rect x="479.24" y="646.7" width="5.39" height="45.8" fill="#dcdcdc"/>
<rect x="492.63" y="646.7" width="4.79" height="45.8" fill="#dcdcdc"/>
<rect x="504.93" y="646.7" width="2.57" height="45.8" fill="#dcdcdc"/>
<path d="M345.7 681.2 L345.7 684.18 L346.42 684.17 L347.13 684.59 L347.85 684.36 L348.57 684.17 L349.28 684.61 L350 684.13 L350 681.2 Z" fill="#4f8ccc"/>
<path d="M350 681.2 L350 683.57 L350.71 683.3 L351.42 683.6 L352.13 683.5 L352.84 683.33 L353.56 683.62 L354.27 683.24 L354.98 683.46 L355.69 683.39 L356.4 683.57 L356.4 681.2 Z" fill="#4f8ccc"/>
<path d="M362 681.2 L362 682.09 L362.7 682.13 L363.4 682.1 L364.1 682.07 L364.8 682.08 L365.5 682.12 L365.5 681.2 Z" fill="#4f8ccc"/>
<path d="M385 681.2 L385 685.27 L385.5 685.27 L386 685.27 L386 681.2 Z" fill="#4f8ccc"/>
<path d="M397 681.2 L397 683.91 L397.5 683.91 L398 683.91 L398 681.2 Z" fill="#4f8ccc"/>
<path d="M411 681.2 L411 683.91 L411.5 683.91 L412 683.91 L412 681.2 Z" fill="#4f8ccc"/>
<path d="M420.2 681.2 L420.2 683.21 L420.92 683.18 L421.64 683.38 L422.36 683.08 L423.08 683.22 L423.8 683.37 L424.52 683.16 L425.24 683.04 L425.96 683.34 L426.68 683.11 L427.4 683.34 L428.12 683.28 L428.84 683.33 L429.56 683.28 L430.28 683.05 L431 683.37 L431 681.2 Z" fill="#4f8ccc"/>
<path d="M454 681.2 L454 685.36 L454.8 685.83 L455.6 686.1 L456.4 686.01 L457.2 685.51 L458 685.96 L458 681.2 Z" fill="#4f8ccc"/>
<path d="M458 681.2 L458 686.96 L458.8 687.37 L459.6 686.81 L460.4 687.66 L461.2 687.56 L462 687.23 L462 681.2 Z" fill="#4f8ccc"/>
<path d="M462 681.2 L462 685.23 L462.7 684.89 L463.4 685.25 L464.1 685.64 L464.8 685.54 L465.5 685.07 L466.2 685.1 L466.9 685.01 L467.6 685.63 L468.3 685.16 L468.3 681.2 Z" fill="#4f8ccc"/>
<path d="M484 681.2 L484 683.25 L484.75 683.3 L485.5 683.54 L486.25 683.26 L487 683.68 L487.75 683.61 L488.5 683.55 L489.25 683.36 L490 683.3 L490 681.2 Z" fill="#4f8ccc"/>
<path d="M500.8 681.2 L500.8 682.88 L501.55 683.04 L502.3 682.92 L503.05 683.17 L503.8 682.92 L504.55 683.14 L505.3 683.11 L506.05 683.07 L506.8 682.84 L506.8 681.2 Z" fill="#4f8ccc"/>
<path d="M357.2 681.2 L357.2 680.1 L358.03 680.04 L358.87 680.14 L359.7 680.18 L359.7 681.2 Z" fill="#e5401f"/>
<path d="M377 681.2 L377 676.8 L377.74 676.24 L378.49 676.81 L379.23 676.77 L379.98 676.43 L380.72 677 L381.47 676.76 L382.21 676.94 L382.96 676.69 L383.7 676.8 L383.7 681.2 Z" fill="#e5401f"/>
<path d="M387.8 681.2 L387.8 678.84 L388.53 679.14 L389.27 679.16 L390 678.84 L390 681.2 Z" fill="#e5401f"/>
<path d="M390 681.2 L390 674.96 L391 674.65 L392 673.82 L392 681.2 Z" fill="#e5401f"/>
<path d="M393.6 681.2 L393.6 679.12 L394.33 678.95 L395.07 678.77 L395.8 679.02 L396.53 678.99 L397.27 679.07 L398 678.96 L398.73 678.76 L399.47 679.11 L400.2 679.03 L400.2 681.2 Z" fill="#e5401f"/>
<path d="M401 681.2 L401 680.03 L401.7 679.96 L402.41 679.99 L403.11 679.99 L403.81 680.03 L404.52 680.1 L405.22 680 L405.93 680.08 L406.63 680.01 L407.33 680.12 L408.04 680.05 L408.74 680.09 L409.44 679.96 L410.15 679.99 L410.85 680.14 L411.56 680 L412.26 680 L412.96 680.17 L413.67 680.03 L414.37 679.97 L415.07 680.15 L415.78 680.05 L416.48 680.07 L417.19 680.13 L417.89 679.98 L418.59 680.16 L419.3 680.05 L420 679.96 L420 681.2 Z" fill="#e5401f"/>
<path d="M437 681.2 L437 674.27 L437.75 675.13 L438.49 674.83 L439.24 674.82 L439.98 674.66 L440.73 674.62 L441.48 675.31 L442.22 674.35 L442.97 674.57 L443.72 674.85 L444.46 675.1 L445.21 674.5 L445.95 675.2 L446.7 675.25 L446.7 681.2 Z" fill="#e5401f"/>
<path d="M440 681.2 L440 672.16 L440.75 672.16 L441.5 672.16 L441.5 681.2 Z" fill="#e5401f"/>
<path d="M446.7 681.2 L446.7 680.25 L447.43 680.38 L448.16 680.27 L448.89 680.25 L449.62 680.36 L450.35 680.38 L451.08 680.22 L451.81 680.32 L452.54 680.3 L453.27 680.36 L454 680.36 L454 681.2 Z" fill="#e5401f"/>
<path d="M469.5 681.2 L469.5 677.95 L470.33 677.77 L471.17 677.53 L472 678.09 L472 681.2 Z" fill="#e5401f"/>
<path d="M474 681.2 L474 676.28 L474.9 676.61 L475.8 676.43 L476.7 676.37 L476.7 681.2 Z" fill="#e5401f"/>
<path d="M476.7 681.2 L476.7 656.34 L477.35 656.34 L478 656.34 L478 681.2 Z" fill="#e5401f"/>
<path d="M478 681.2 L478 676.61 L478.75 675.84 L479.5 676.6 L480.25 675.99 L481 676.66 L481.75 676.64 L482.5 676.35 L483.25 676.63 L484 676.05 L484 681.2 Z" fill="#e5401f"/>
<path d="M490 681.2 L490 676.74 L490.76 676.45 L491.53 676.47 L492.29 676.67 L493.05 676.3 L493.82 676.92 L494.58 676.72 L495.35 676.85 L496.11 676.68 L496.87 676.57 L497.64 676.32 L498.4 676.85 L498.4 681.2 Z" fill="#e5401f"/>
<line x1="345" y1="681.2" x2="508.1" y2="681.2" stroke="#2a2a3a" stroke-width="0.9"/>
<line x1="345.3" y1="647.3" x2="345.3" y2="692.5" stroke="#333" stroke-width="0.8"/>
<line x1="343.3" y1="692.5" x2="345.3" y2="692.5" stroke="#333" stroke-width="0.8"/>
<text x="341.9" y="695.1" font-size="7.48" text-anchor="end" stroke="#231f20" stroke-width="0.18" fill="#231f20">0.5</text>
<line x1="343.3" y1="681.2" x2="345.3" y2="681.2" stroke="#333" stroke-width="0.8"/>
<text x="341.9" y="683.8" font-size="7.48" text-anchor="end" stroke="#231f20" stroke-width="0.18" fill="#231f20">1.0</text>
<line x1="343.3" y1="669.9" x2="345.3" y2="669.9" stroke="#333" stroke-width="0.8"/>
<text x="341.9" y="672.5" font-size="7.48" text-anchor="end" stroke="#231f20" stroke-width="0.18" fill="#231f20">1.5</text>
<line x1="343.3" y1="658.6" x2="345.3" y2="658.6" stroke="#333" stroke-width="0.8"/>
<text x="341.9" y="661.2" font-size="7.48" text-anchor="end" stroke="#231f20" stroke-width="0.18" fill="#231f20">2.0</text>
<line x1="343.3" y1="647.3" x2="345.3" y2="647.3" stroke="#333" stroke-width="0.8"/>
<text x="341.9" y="649.9" font-size="7.48" text-anchor="end" stroke="#231f20" stroke-width="0.18" fill="#231f20">2.5</text>
<text x="348.3" y="642.7" font-size="7.5" fill="#e5262b" stroke="#e5262b" stroke-width="0.18">RS (<tspan font-style="italic">n</tspan> = 8)</text>
<text x="424" y="677" font-size="7.48" text-anchor="middle" stroke="#231f20" stroke-width="0.18" fill="#231f20">8</text>
<text x="441.2" y="667.4" font-size="7.48" text-anchor="middle" stroke="#231f20" stroke-width="0.18" fill="#231f20">10</text>
<text x="457.5" y="677" font-size="7.48" text-anchor="middle" stroke="#231f20" stroke-width="0.18" fill="#231f20">12</text>
<text x="482.7" y="663.8" font-size="7.48" text-anchor="middle" stroke="#231f20" stroke-width="0.18" fill="#231f20">15</text>
<text x="487.1" y="678.2" font-size="7.48" text-anchor="middle" stroke="#231f20" stroke-width="0.18" fill="#231f20">16</text>
<text x="494.3" y="670.2" font-size="7.48" text-anchor="middle" stroke="#231f20" stroke-width="0.18" fill="#231f20">17</text>
<text x="430.2" y="653.4" font-size="7.48" text-anchor="middle" stroke="#231f20" stroke-width="0.18" font-style="italic" fill="#231f20">Cdk2</text>
<text x="430.2" y="660.6" font-size="7.48" text-anchor="middle" stroke="#231f20" stroke-width="0.18" font-style="italic" fill="#231f20">Cdk4</text>
<text x="475.8" y="648.6" font-size="7.48" text-anchor="middle" stroke="#231f20" stroke-width="0.18" font-style="italic" fill="#231f20">Myc</text>
<text x="504.4" y="660.6" font-size="7.48" text-anchor="middle" stroke="#231f20" stroke-width="0.18" font-style="italic" fill="#231f20">Ccnd3</text>
<text x="421.5" y="700.3" font-size="7.48" text-anchor="middle" stroke="#231f20" stroke-width="0.18" font-style="italic" fill="#231f20">Irf2bp2</text>
<text x="455.7" y="700.3" font-size="7.48" text-anchor="middle" stroke="#231f20" stroke-width="0.18" font-style="italic" fill="#231f20">Dnmt3a</text>
<line x1="434.7" y1="661.8" x2="437.8" y2="672.5" stroke="#333" stroke-width="0.7"/>
<line x1="502.7" y1="662" x2="497.9" y2="672.5" stroke="#333" stroke-width="0.7"/>
<line x1="423.4" y1="685.7" x2="423.4" y2="692.9" stroke="#333" stroke-width="0.7"/>
<line x1="457" y1="688" x2="457" y2="693.4" stroke="#333" stroke-width="0.7"/>
</svg>
</body></html>
